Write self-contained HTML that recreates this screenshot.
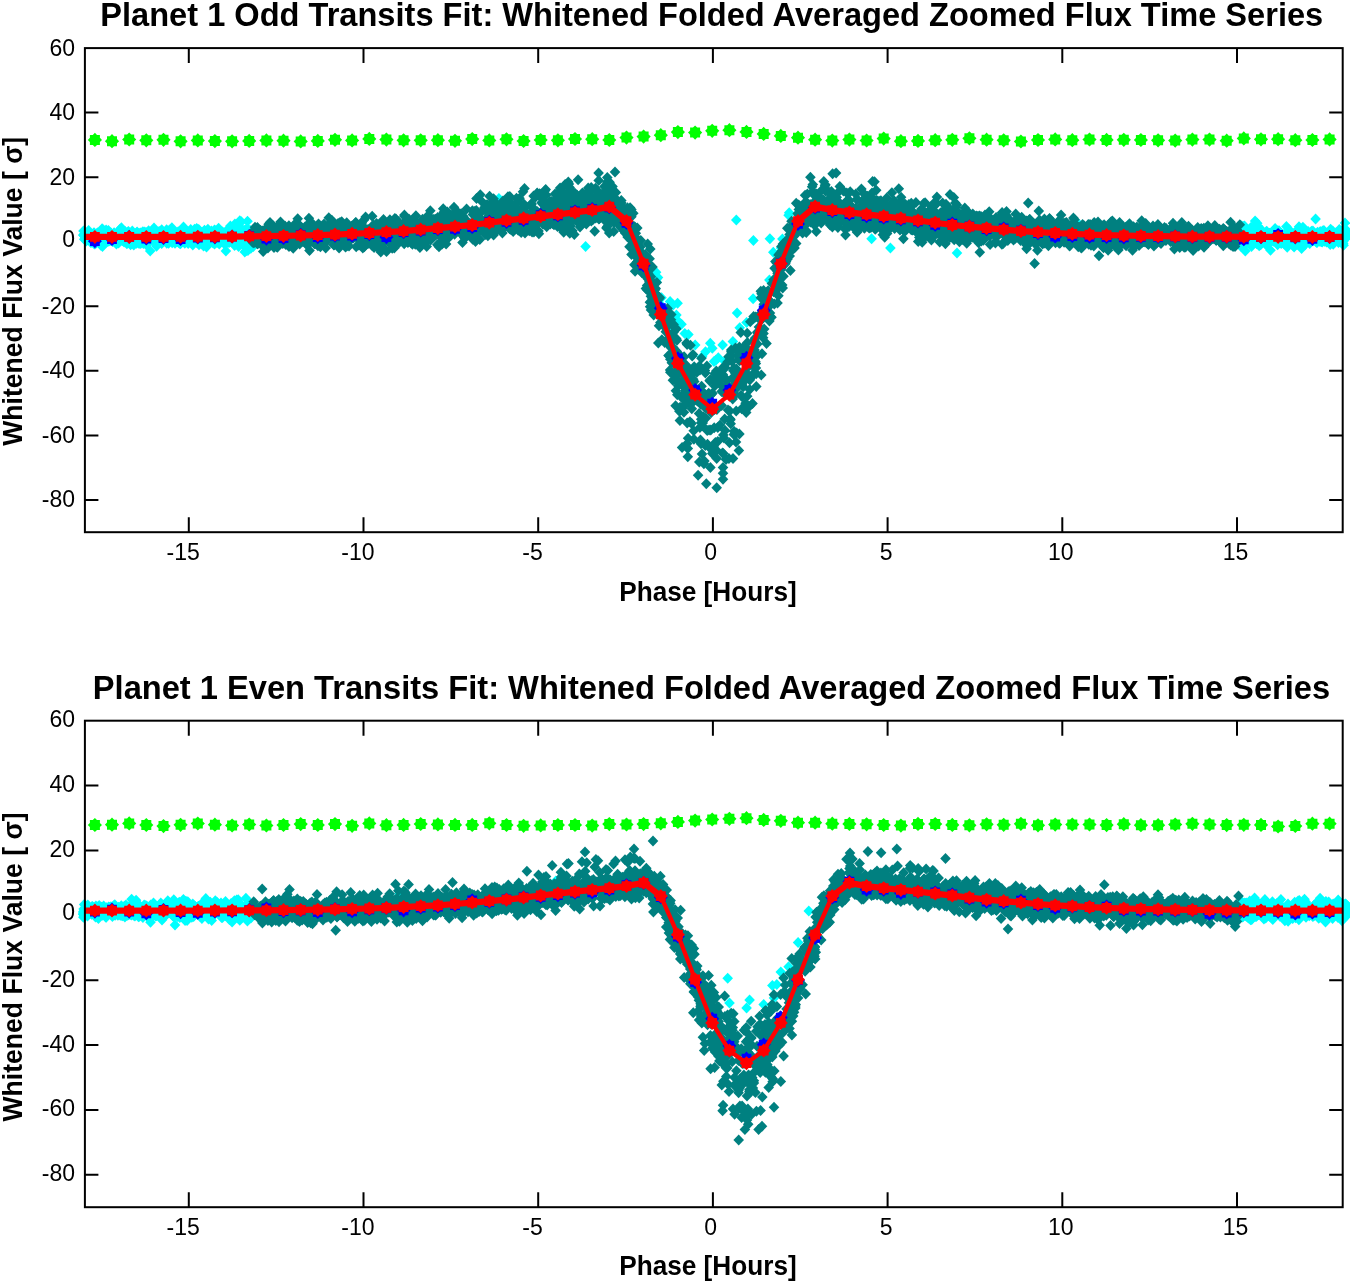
<!DOCTYPE html>
<html><head><meta charset="utf-8"><title>Planet 1 Odd/Even Transits Fit</title>
<style>
html,body{margin:0;padding:0;background:#fff;}
svg{display:block}
text{font-family:"Liberation Sans",sans-serif;fill:#000}
.tk{font-size:23px}
.tt{font-size:33px;font-weight:bold}
.lb{font-size:27.5px;font-weight:bold}
</style></head><body>
<svg width="1350" height="1285" viewBox="0 0 1350 1285">
<defs>
<marker id="mc" markerUnits="userSpaceOnUse" markerWidth="12" markerHeight="12" refX="0" refY="0" viewBox="-6 -6 12 12" overflow="visible"><polygon points="0,-5.5 5.3,0 0,5.5 -5.3,0" fill="#0ff"/></marker>
<marker id="mt" markerUnits="userSpaceOnUse" markerWidth="12" markerHeight="12" refX="0" refY="0" viewBox="-6 -6 12 12" overflow="visible"><polygon points="0,-5.5 5.3,0 0,5.5 -5.3,0" fill="#008080"/></marker>
<marker id="mb" markerUnits="userSpaceOnUse" markerWidth="18" markerHeight="18" refX="0" refY="0" viewBox="-9 -9 18 18" overflow="visible"><polygon points="0.00,-7.00 2.10,-4.90 4.90,-4.90 4.90,-2.10 7.00,0.00 4.90,2.10 4.90,4.90 2.10,4.90 0.00,7.00 -2.10,4.90 -4.90,4.90 -4.90,2.10 -7.00,0.00 -4.90,-2.10 -4.90,-4.90 -2.10,-4.90" fill="#00f"/></marker>
<marker id="mr" markerUnits="userSpaceOnUse" markerWidth="18" markerHeight="18" refX="0" refY="0" viewBox="-9 -9 18 18" overflow="visible"><polygon points="0.00,-7.00 2.10,-4.90 4.90,-4.90 4.90,-2.10 7.00,0.00 4.90,2.10 4.90,4.90 2.10,4.90 0.00,7.00 -2.10,4.90 -4.90,4.90 -4.90,2.10 -7.00,0.00 -4.90,-2.10 -4.90,-4.90 -2.10,-4.90" fill="#f00"/></marker>
<marker id="mg" markerUnits="userSpaceOnUse" markerWidth="18" markerHeight="18" refX="0" refY="0" viewBox="-9 -9 18 18" overflow="visible"><polygon points="0.00,-7.10 2.10,-5.00 5.00,-5.00 5.00,-2.10 7.10,0.00 5.00,2.10 5.00,5.00 2.10,5.00 0.00,7.10 -2.10,5.00 -5.00,5.00 -5.00,2.10 -7.10,0.00 -5.00,-2.10 -5.00,-5.00 -2.10,-5.00" fill="#0f0"/></marker>
</defs>
<path d="M188.8,48.1v15 M188.8,532.2v-15 M363.5,48.1v15 M363.5,532.2v-15 M538.2,48.1v15 M538.2,532.2v-15 M712.9,48.1v15 M712.9,532.2v-15 M887.6,48.1v15 M887.6,532.2v-15 M1062.3,48.1v15 M1062.3,532.2v-15 M1237,48.1v15 M1237,532.2v-15 M84.9,112.6h13.5 M1342.7,112.6h-13.5 M84.9,177.2h13.5 M1342.7,177.2h-13.5 M84.9,241.7h13.5 M1342.7,241.7h-13.5 M84.9,306.3h13.5 M1342.7,306.3h-13.5 M84.9,370.8h13.5 M1342.7,370.8h-13.5 M84.9,435.4h13.5 M1342.7,435.4h-13.5 M84.9,499.9h13.5 M1342.7,499.9h-13.5" stroke="#000" stroke-width="2" fill="none"/>
<polyline fill="none" stroke="none" marker-start="url(#mc)" marker-mid="url(#mc)" marker-end="url(#mc)" points="736.3,219.9 753.4,240.4 769.9,238.7 585.6,246.6 890.4,247.9 871.6,238.7 957,253 1345,223 676.4,315.1 681.5,324.3 688.4,334.6 695.2,344.9 705.5,351.7 712.3,348.3 722.6,344.9 732.9,341.4 739.7,327.7 746.6,322.6 702.1,356.8 715.8,360.3"/>
<polyline fill="none" stroke="none" marker-start="url(#mc)" marker-mid="url(#mc)" marker-end="url(#mc)" points="245.8,235.9 119.4,235.6 1257.1,239.6 172.2,242.8 247.3,233.3 1282.6,237.3 1323.8,237.7 246,242 673.9,330.7 188.3,240.8 125,231.9 104.5,237 1343.4,232.2 152.3,231.9 126.2,236.1 196,236.1 114.2,238.9 244,239 161.5,240.8 117.2,237.3 200.7,240.4 105.9,237.8 1320.5,235 1273.3,241.2 133.8,245 168.4,234.5 1256.2,231.2 875.1,209.3 127.9,232.1 1346.4,233.9 160.2,238.4 182.7,241.3 132,241.1 228.9,242.4 248.4,239.2 229.4,238.3 192.1,241.4 1301.6,239.4 167.6,235.4 145.5,236.8 1321.9,241.4 204.6,232.1 119.5,238.9 162.3,239.1 220.1,238.3 198.2,240.1 97.7,238 168.6,243.3 1315.6,219 139.1,243.4 1336.5,233.4 235.1,242.3 1310.9,232.7 183.8,235.2 173.5,234.6 150.8,236.9 120.1,230.7 140.1,235.2 1240.4,246.1 1258.3,228.7 192.5,242.5 1240.9,237.5 231.6,238 1307,235.9 718.3,357.8 1307,239.3 1268.8,238.4 244,246.1 124.1,242.1 1267.4,234.4 135.7,241.4 120.3,232.2 97.5,233 105.8,237.2 117.7,237.4 168.2,231 244.7,233.9 85.9,240.3 147.4,240.3 1294.1,235.4 1275.6,238.7 1243.6,228.6 245.1,229.9 103,238.5 172.5,230.9 144.8,232 996.7,225.1 122.6,236.7 110,233.7 237.8,236.8 1315,238.8 215,235.4 115.1,235.7 1267.1,232.1 1255.4,229.3 200.5,243 1299.5,235.2 1289.6,233.7 1323.3,234.9 1274,236.6 110.2,240.6 1330.6,236.2 1302.9,227.3 229.1,234.2 106.5,237.3 1263.6,240.3 658,277.6 206.5,246.9 98.5,241.8 89.8,234.6 155.4,230.6 1294.4,232.9 1246.8,238.7 140.8,236.3 1323.9,239.1 1323.3,231.9 650.4,280.5 135.6,240.4 1248.8,238.9 1316.6,237.3 1310.8,238.6 194.5,236.7 212.2,235 1290.6,236.7 219.4,234.4 218.6,240.5 1266.6,231.2 1255.1,234.8 140.6,241.7 1334.6,238.6 1296.4,239 1331.6,236.1 127.3,241.9 106.8,237.8 1293.8,241.5 1273.5,232.7 186.1,238.2 161.4,238.4 670.1,301.4 91.9,236.5 176.6,237.6 1280.1,235.8 228.6,232.7 183.5,237.8 179.3,239 202.9,235.8 128.5,231.5 168.7,236.2 189.3,237.3 226.5,240.5 1322.8,231.5 1319.4,233.1 93.7,239.6 1264.2,235.4 243.4,233.4 222.6,232 982.6,229.9 225.7,238.6 1312.5,235.9 1291.4,233.5 498.9,198.4 222.4,234.6 146.6,232.8 125,231.5 179.6,243.2 119.8,229.4 237.7,230 233.3,232.2 237.6,243.3 140.5,237.4 203.5,242.7 183.4,233.1 182.8,239.9 167.1,239.1 215,233.4 178,232 154.2,237.9 147.8,235.5 1337,239.5 188.6,241.4 241.3,221.8 161.6,230.7 186.5,239.7 124.9,238 1281.3,234.8 199,244.7 207.5,240.4 222.2,239.4 1273.2,232.3 198,231.1 239.7,238.7 90.9,242.4 1322.2,242 138.5,233.8 97.9,240.6 230.9,236.6 1274.5,237.7 1243.4,242 1307.3,236.4 1280,235.9 1342.6,237.7 142.8,237 1345.7,235.6 1307.9,234.7 91.5,237.7 1277.7,234.5 139.7,234.2 113.4,239.1 245,236.8 169.5,238.3 210.2,240.6 238.9,232 122.2,230.2 188.5,242.1 1277,234.1 107.3,240.6 1260.2,235.6 1258.4,233.5 195.8,237.6 186.1,235.6 236.5,233.4 200.6,235.7 238,240.3 102.6,242 1308.1,239.3 112.9,240.9 157.1,239.4 1334.7,235.1 1341.7,233.6 1299.2,239.1 140.7,238.2 250.9,248.2 1284.3,240.8 1266.5,234.1 227.3,232 125,234.9 84.7,233.4 1270.1,241.7 119.7,235 156.2,238.1 167.2,233.4 1269.5,240.4 107.2,241.6 83.9,235 126.9,243.7 1278.6,231.2 104.6,243 1277.6,244.7 1242.3,235.6 1320.6,240.7 1273.6,239.5 175.7,242 1243.7,244 232,237.7 157,244.8 1343.1,240.6 1313.6,237 182.5,230.9 129.2,240.5 1251.1,243.5 120.7,238.9 92.8,238.7 163.5,237.2 237.4,227.6 213.1,242.9 201.4,232.7 1318.9,237.7 769.4,279.9 161.7,243.6 1278.8,238.6 1341.4,236.7 1294.5,233.4 1245.7,243.3 199.8,235.3 184.5,236.2 124.4,238.7 1266.7,245.6 236.5,238.7 244.1,233.5 1260.1,232.3 362.6,231.8 145.3,235.5 1281.4,233.6 1325.7,235.9 140.7,243.6 170.8,231.3 1316.4,236.6 247.9,250.5 241.8,229.6 1306.3,237.8 97.6,233.2 182.6,237.6 148,234.8 245.7,233.4 230.7,234.3 661.5,297.7 119.9,239.2 1322.3,237.5 1280,237.6 1334,238.7 189.1,236.1 225.5,232.1 1267.2,241.6 1299,226.8 117.5,237.6 178.1,238.5 136.5,235.1 1244.9,239.3 1342.6,239 179.8,235.3 116,236 228.2,229.3 231.9,239.6 94.9,244 185.6,237.9 1332.7,231.1 1247.8,235.4 121.5,240 178.9,241 149.7,236.3 118.6,233.9 120.2,237.2 1307.8,234 1271.1,237.2 1247,238.9 678,320.9 1271.3,237.4 1242.4,229.2 229.2,241 153,233.1 674.4,337.6 93.4,238.6 240.2,227.3 148.4,242.6 210.7,237.6 217,232.2 1307.7,237.4 180.8,233.5 195.4,239.9 124.7,234.7 85.8,240.1 148.8,238.6 1242,241.9 653.2,283.4 214.5,232.8 1322.1,237.4 1273,231.8 1256.4,240.9 773.3,252.2 211.3,238.8 236.1,234.4 108.4,230.6 1265.5,235.8 221.9,238 1312.1,235.9 84.2,239.3 175.6,239.8 250.2,230.5 181.3,235.1 157.4,233.7 737.1,313 1302.6,234.5 1308.9,239.7 169,235.1 1332.7,234.3 188.3,233.8 113.4,239.2 1342.7,238.2 197.6,233.7 186.5,240.1 1303.2,234.6 300.9,241.8 1242.4,235.4 1335.3,236.7 172.8,238.4 159.2,240.3 246.2,250.6 143.1,236.5 166.4,235.7 94.4,233.4 102.4,242.3 1346.2,229.9 1337.6,240.1 204.5,230.2 103.3,230 1240.2,239 1327.2,237.7 1330.1,239.4 1322.7,231.1 142.4,236 130.7,236.7 175.1,241.7 1244.5,240.4 104.5,238.5 656.4,279 1265.1,238.7 241.5,240.3 105.4,238.3 1287.2,247.2 99.6,235 168.8,240.8 231.1,237.8 1267.7,239.3 1320.1,231.8 103.9,240.8 234.1,242.6 1040.2,226.5 1276.6,230.3 782.4,238.9 169.4,238.4 660.9,304.9 1341.2,239.5 195.4,232.7 207.9,229.3 789.2,212.8 227.6,238.5 1301.8,236.5 107.7,240.3 175,243.2 141.5,236.9 804.6,223.6 228.1,234.8 241.4,235.7 179.3,239 1307.7,237.1 136.9,232.7 253.3,246.5 109.4,236.4 1332.6,238.8 1267.6,235.3 1309.8,234.4 185.9,234.1 202.2,239.5 98.1,237.8 1240.3,233.4 113,239.7 1245.3,251 212.6,237.3 1331.7,234.7 196.7,228.5 232.3,228.7 193,239.8 238.7,244.3 217,242.5 207.5,237.5 121,232.5 205,238.3 168.2,241.4 1307.6,236 121.4,227.8 1240.6,225.2 224.2,237 1313.7,234 166,237 239.8,229.5 119.6,235.6 147.4,239.5 136.9,235.1 130.4,237.1 102.7,241.3 96.8,234.1 110,237.2 160.3,234.3 212.2,233.2 1316.3,236 1312.4,237.5 180.8,237 241.6,236 734.7,350.3 228.3,237.7 1334,235.3 89.1,235.3 137.1,231.9 200.6,233 167.6,241.9 1335.9,237.5 1275.4,240.5 166.8,232 1242.3,245.5 1325.6,237.5 237.7,234.9 1335.1,239.6 1284.1,243.6 1328.6,237.1 1268.5,239.4 158.8,239.5 201.5,236.7 1275.1,228.4 106.8,240.5 1256.3,232.1 1314,233.6 109.8,239.1 93.2,235.7 178.1,238.5 1241.1,232.5 1301.6,248.5 1304,237.5 1270,233.6 1339.1,235.9 1347.4,235.5 1242.7,233.7 781.1,248 1300.9,234.9 188.4,234.6 1251.4,241.3 1333,237 130.7,235.4 179.1,231.8 1304.6,241.1 1251.5,246.4 1306.7,235.3 1079.2,224.4 188.2,243.5 1289.9,237.1 213.3,236.9 112.9,235.2 241.2,238.4 1347.1,236.9 150.2,250.9 1320,233.6 195.9,234.2 219.3,243.9 1274.1,238.5 230.8,234 86.3,240.9 192.9,237.3 180,238.2 1291.8,238.9 238.6,246.5 225.9,242 1323.9,230.5 1287.8,235.9 233.5,235.9 180.4,239 1285.8,240 1302.2,236.9 1297.5,237.3 171.6,235.4 1288.2,230 208.9,238.8 1280.9,238 1288.7,234.4 146.3,236.5 1265.1,238.4 156.5,246.2 145.6,235.6 616.4,211.7 151.6,238.1 228.8,236.1 1335.3,236.2 211.4,237.1 90.9,237.9 175.3,234.6 141,235 180.6,238.5 160.7,236.2 100.9,236.4 139.3,234.3 108.7,237.2 1235.3,231.8 172.9,236.4 159.9,233.8 1330.2,244.5 136.3,240.1 194.3,233.6 141.1,233 109.7,238.8 151.9,237 244.3,236.1 1286.6,235.5 197.4,241.8 242,236.6 225.4,236.9 171.8,241 129.2,240.7 1260.8,240.4 1319.7,233.7 1307.2,239.2 163.9,233 172.6,239.9 220.9,238.8 244,236.8 156.4,239.4 193.9,242.2 242.8,243.6 106.2,240.8 126.9,241.3 1265.7,237 1291.3,237.7 1258.7,237.7 230.7,239.3 151.8,235 245,243 102.1,228.8 1313.1,240.8 145.9,243.7 1287.1,236.3 250,243.5 233.9,236.6 568.9,222.4 225.9,241.2 1250.7,242.9 149.4,238.8 165.7,235.2 1333.2,235.5 118.6,242.9 143.9,234.3 169.7,238.5 152.1,237.6 1272.5,233.6 94.2,243.7 225,237.2 1298.3,235.5 1264.2,237.1 155.4,236.5 246.1,236.4 1342.3,235.8 1305.1,244.8 1248.8,232.7 724.8,361.6 1251.1,227.2 223.7,236.4 212,240.2 1250.1,239.6 153.3,238.1 101.5,239.7 170.4,229.4 230.8,237.9 175.8,233.1 1286.8,240.9 1304.7,229.4 83.5,235.3 216.9,237.4 140.2,233.1 1290.5,232.8 122.4,240.4 193.6,238.4 1308.1,236.5 102.1,233.6 1303.6,234.3 1265.3,233.2 234.9,223.9 148.2,232.2 124.6,233.5 178.2,237.6 204.7,235.2 1309.3,238.5 214.1,231.9 97.6,235.2 210.1,235.4 157.7,234.9 1260.2,240.4 114.1,232.7 88,237.6 1311,238.8 1305.5,236.2 105.5,232.8 1301.9,238.8 240.7,233.6 1296.9,239.4 1306.4,237.6 168.4,233.7 1262.2,230.4 158.8,233.1 1326.3,239.3 184.2,236.3 1296.9,234.4 1335.1,236.8 236.4,236.2 116.4,244.1 1286.8,235.8 1273,235.9 131.3,237.2 223,238 152.8,234.6 641.2,251.4 204.6,234.5 928.4,220 247.3,228.3 1270.5,250.2 121.3,234.5 1240.6,238.3 113.7,234.7 1245.7,233.3 102.2,243.9 243.7,231.9 1243,226.2 239.8,220.8 174,235.1 231.7,239 1300.7,237.7 1309.7,243.5 105.9,239.7 1332.1,235.7 107.9,239.8 178.5,236.3 1244.5,239.8 123.2,238.2 114.3,235.6 1302.5,233.2 166.6,229.8 1276.8,240 166.4,238.7 1273.4,237.1 227.1,234.1 211.7,237.4 1330.1,240.1 167.6,239.3 1292.2,235.5 120.6,229.9 1320.2,240.4 110.6,239.6 127.4,240 1279.8,232.7 100.8,236.2 224.7,244.3 101.6,234.7 249.5,241.2 240.8,232 125.2,239.9 1259.2,245.8 114.2,236.5 250.2,235.2 192,238.7 143.4,243.5 1128.1,225.3 1329.7,239.5 1301.4,240.3 1241.9,237.8 101.2,232.7 202.6,237 104.6,234.5 204.8,244.6 1286.4,226.6 159.1,231.6 196.9,242.4 148,238.5 247.5,221.3 1289.4,230.1 148.6,230.7 1302.3,240.1 180.9,232.7 230.7,237.8 1330.7,236.5 124,236.2 247.9,240.5 215.7,236.4 150.5,233.8 198.4,239.3 1333.2,244.3 1243,235 146.5,233.4 1297.8,232.7 1317.1,242.4 1319.3,238.7 113.5,237 143.3,232.9 142.1,233.9 1269.2,237.6 1321,239.3 1284.2,240.7 227.7,235.2 180.8,231.9 173.4,234.4 1260.6,244.7 1285.7,243.9 214.6,243.9 1268.2,240.3 1336.3,232.8 120.6,237.2 1311.3,235 117.5,233.7 1258.9,232.2 235.2,234.9 92,242 1288,236.2 99.7,234.9 101.6,237.2 1278.7,241.1 1286.8,238.4 1281.2,243.5 1330.6,229.2 191.9,243.6 100.9,245.2 194.6,229.3 1240.7,234.8 443.7,226.9 180.5,235 1308.1,231.6 214.3,231.8 106.1,230.1 1330.7,232.7 1271.9,237.9 656.2,281.6 224.2,236.7 1322.3,236.2 225.9,239.7 136.6,243.2 199.5,233.5 1183,234.4 1282,235.1 1244.5,226.1 1320.9,231.7 1115.9,225.6 247.1,234.2 107.1,239.9 1303.6,236.7 1250.7,241.2 199.2,239.5 1257.9,236.6 193.2,235.6 225.4,244.3 190.7,229.5 1304.2,243 155.8,242.9 156.3,242.4 1331.9,234.9 220.6,241 129.5,236.5 203.6,240.1 174.4,232.6 205.2,241 94.6,241.1 1284,239.5 207,245.7 1251.7,238.9 1246.2,236.9 1304.3,235.5 249.3,239.8 196.6,230 229.5,242 234.6,245.4 1255.1,220.9 1296.1,236.5 213.9,234.7 90,239.9 132.3,231 191.4,235.6 1346.7,233.7 1241.2,233.8 1321.2,233.8 1264.8,239.1 1277,236.3 215.7,236.3 238.4,237.7 684.8,333.6 178.1,242 1256,236.5 234.9,239.9 112.2,238.5 203.6,246.1 1263.5,235.8 1247.7,235.6 189.8,236.3 244.8,251.9 146.7,245.3 196.4,234.1 1343.6,231.9 1258.3,228.7 239.1,237.7 88.6,230.6 1251.3,233.6 1268.1,236 84.9,236.5 170.2,237.4 104.6,241.5 215,241 96.1,237.9 136.1,233.6 1245.7,237.6 215.2,241.3 1343.8,230.9 1246.1,234.4 98.1,239.3 219.8,231.8 1339.3,229.5 115.5,242.4 169.7,241 112.6,241.4 108.8,241.2 87.1,233.2 1269.5,233.2 1254.2,229.7 1346.3,233.9 1302.8,238.6 219.6,231.5 224,239.8 197.6,234.7 245.3,230.8 161.7,229.7 1263.4,236.9 1319.7,241.2 1257.2,223.2 1316.4,242.2 1313,235.8 714,361.6 203.9,239 207.3,233.2 1243.9,234.5 1242.9,244.6 1270,233.7 158.2,235.5 126.8,237.7 94.1,235.2 753.1,298.7 181.9,235 127.8,237.2 1326.5,241.9 1315,238.6 234.3,244.3 149.9,238.5 239.4,229.7 1270.3,237.9 1282,236 1284.4,235.8 1256.8,243.7 1343.6,245.3 1266.5,239.1 1330.6,237.6 1293.1,245.5 677.6,303.3 1261.9,233 139,234.9 1274.9,238.7 251.1,241.3 247.5,235.9 1283.8,240.4 240.2,234.9 206.9,238.1 1264.9,237.6 1276.5,238 1307.9,235.7 154.3,236.3 1299.9,237.5 89.8,241.1 1295.9,240.9 127.2,240.1 118,242 1299.8,236.4 166.8,243.2 1300.9,241.4 171.9,227.7 1341.7,230.7 1327.3,241.2 247.7,242.6 1240.6,240.1 215.1,230.7 100.2,238.3 1338.5,242.5 788.6,215.3 184.8,243.3 231.6,233.4 1253.8,231.7 1279.6,234.2 1248.6,237.2 1343.3,241.3 1257.8,225.9 1255.6,242.3 105.4,238.9 192.8,245 1324.6,235.3 142.9,231.7 110.7,232.7 102.8,235.6 231.6,240.6 102.5,246.5 235.9,236.8 1296.2,231.5 656.1,272.2 225.8,237.4 188.5,235 103.7,242.6 1321,241.4 1264.4,237.2 1289.4,236.8 214.5,230.1 85.5,237.5 1300.7,237.3 179.8,234.3 130.5,237.2 203.7,232.1 1299.1,234.9 225.9,251 102.2,235.1 221.4,236.9 753.6,318.8 1303.1,242 1265.4,234.9 96.1,242.9 189.9,232.2 94.1,235.4 162.8,234.3 162.4,239.4 1324.4,241.3 99.2,237.7 1347.6,234.9 183.5,227 174.3,232.8 232.4,239.4 1339.1,237.5 216.9,241.2 187.5,233.6 159,237 206.8,238.6 211.4,231 131.8,235 230.4,226.1 149,239.3 127.9,233.1 1259,237.6 129.4,239.7 242.7,234.3 1301.1,236.7 212.9,239.5 1342.7,232.6 100.9,239.8 1290.7,235.2 1249.6,242.2 1271.8,240.6 1313.4,239.5 237.8,239.3 1269.6,239.4 147.8,243.2 179.2,242.8 710.3,343.2 111.5,236.9 1296.9,236.4 170.6,237.9 165.6,233.5 171.1,234.4 1286.7,245.3 219.8,234.3 137.1,233.5 1294.1,247 1336.4,235.1 109.3,237 187.2,234.6 187.4,241.1 1314.4,234.5 94,232.8 117.2,233.3 152.3,236.7 1259,241.9 1304.7,235.3 83.4,235.1 229.3,238.4 166.9,232.4 223.5,237.1 165.1,236.6 1246.7,243 1289.3,236.1 1302.8,238.5 1305.4,239.7 1271.7,238.1 1258.5,234 1338.5,239.5 99.6,232.8 125.5,239 183.4,233 1327,236.2 94.9,237.1 123.9,237.7 245.7,234.8 1317.6,232.3 161.6,238 1298.8,236.4 1241,236.4 1328.5,241.5 198.7,229.6 116.3,240.1 1300.8,239.7 1343.2,243.5 83.5,231 127.2,236.9 1284.8,240.3 154,228 224.4,234.8 194.3,234.1 130.2,236.1 1279,230.7 1277.2,242.3 1314.4,235.3 1339,238.9 181.4,235.4 1287.1,234.3 225.8,234 1263.3,236.2 1305,230.9 1258.5,238.5 230.1,239.6 1312.9,231 1254,235.2 218.6,228.2 1270.4,233.4 181.2,237 192.9,239.2 375.1,228.3 127.2,239.5 1269.5,235.7 1335.5,233.2 130.6,244.8 1317,240.6 1311.5,231.3 1297,244.6 95.1,236.4 235.4,233.8 673.1,305.1 176.6,237.5 1246.7,233.6 560.9,209.3 1285.9,235.7 1288,242.6 180.5,243.8"/>
<polyline fill="none" stroke="none" marker-start="url(#mt)" marker-mid="url(#mt)" marker-end="url(#mt)" points="714.6,409.5 843.9,204.2 270.2,241.7 869.7,203.1 549.9,220.5 921.5,209 431.4,222.6 257.7,243.7 1079.9,227.2 931,227.9 731.2,350 1116.2,232.3 777.6,280.2 341.8,235.4 783.5,276.2 530,220.1 831.4,199.8 380.8,252 1097.8,230.4 1180.1,236.2 433.7,222.2 1216.3,240.3 626.9,212.3 270,222.5 934.8,217.3 338.9,237.2 1223.3,228.6 357.8,237.5 337.1,230.1 520.5,219.4 1229.2,239.2 965.2,226.2 512.3,204.2 285.3,240.6 664.6,310.1 957.2,223.9 1153,226.1 826.7,210.3 473.6,229.5 484.6,226 301.5,234 1144.5,238.6 672.9,380.2 1018.1,218.8 330.6,235.9 840,216 1216.1,240.2 1101.5,240.2 323.7,227.6 453.7,216 1002.8,230 706.9,366 1161.9,237.2 357.9,228.1 481.8,201.6 409.6,236.9 514,219.5 634.6,237.4 480.7,223.2 1027.3,239.6 594.2,208.5 393.1,222.5 1152.2,235.1 1021.4,230.4 773.5,279.8 919.8,231.2 958.7,224.2 1071,241.7 272.5,225.2 264.8,229.7 643.6,272.3 1077.6,237.7 1214.8,225.5 1043.4,234.1 537.7,223.2 289.4,233.5 265.3,245.1 392.2,242.2 535,221.8 1184,236.2 888,222.9 285.2,240.1 713.4,446.6 855.9,208.9 376.2,236.4 785.4,262.1 888.8,228.8 494,220.1 897,213.2 528.4,227.8 481.8,227 583.1,197.9 1237.4,240.1 793.3,236.8 1230.6,222.2 968.8,218.5 1103.1,233.4 947.5,235.5 265.2,241.6 671.2,323.6 1097.4,227.8 992.1,228.7 1100.8,231.4 1044.9,231.6 421.2,225.7 1082,232 398.3,223.6 257.6,239 576.9,214.2 444.7,227.3 849.3,206.4 845.2,210.8 386.5,251.6 870.6,220.6 535,220.8 1012.4,232.6 450.5,232.2 1093.5,237.1 608.2,194.2 782.9,244 934.8,202.3 409,238.2 494.1,215.1 777.7,286.9 279.1,233.9 1094.1,226.3 1074.5,219.6 888.8,221.6 1223.7,231 1038.7,233.6 461.1,213.8 898.8,188.7 513.3,213.5 1031.5,227.2 569.8,233.2 277,232.8 1191.7,248.5 956.4,229.7 1025,225 790.9,243.1 1073.4,218 649.6,283.6 798.8,209.6 785.2,246.3 1113.5,238.9 975.5,227.6 1099,255.7 710.6,379.5 1197.9,233.2 1190.7,238.1 552.7,223.5 866.5,211.7 658.5,308 625,211.5 1160.8,229.9 257.4,228.7 863.4,208.9 606.5,203.2 751.3,364.8 714.8,373.4 252.8,240.1 730.7,423.7 1173.5,234.5 299.7,244.1 664.7,342.6 761.1,319.1 612.5,220.7 345.4,230.4 986.4,230.7 768.1,290.8 447.4,215.4 406.2,240.9 1179.7,247.4 1052.3,232.2 634.8,229.7 596,207.5 1015.9,220.4 284.4,240.2 541.4,214.3 725.3,367.7 360.7,230.9 571.3,212.9 1018.2,224.9 854.6,215.4 654.9,292.7 1189.7,245.3 544.9,216.9 1205.5,238.7 597.4,214.1 1026.8,238.2 545.2,206 277.4,247.3 810.7,207.9 922.2,242.3 1106.6,246.3 649.8,277.1 1224.6,241 1184,236.4 834.4,209.5 934.9,205.6 555.3,202.8 314.8,241.1 452.1,231.2 994.6,235.5 494.2,220.2 957.9,215.9 651,276.8 293.2,242 699.3,461.9 285.2,226.2 701.2,422.8 503,200.9 296,239.6 834.6,211 587.8,205.4 578.1,179.8 820.7,202 739.4,434.1 1221.5,239.5 1236.2,237.3 1094.6,235.4 687.2,422.9 745.6,372.3 585.7,197 588.5,214.9 1093.5,244.6 394.3,247.9 673.2,347.6 991.1,228.9 634.6,227.3 543.7,201.2 916.1,222.4 289.1,243.5 832.4,226.9 1178.2,230.3 609.1,185.8 1077.4,234.6 840.2,214.4 369.3,233.8 557.1,194 509.6,213.4 796.2,225.1 1205.8,237.9 545.7,189.6 316.1,238.8 814.2,193 569.9,206.3 484.4,226.1 573.1,216.4 784.1,260.8 872.6,212.6 1031.1,221.7 531.8,224.2 913.2,214.3 642.2,273 355.1,234.3 1207.9,225.8 1026.6,248.7 1122.2,229.5 334.3,223.5 604.4,186.4 952.9,227.4 637.7,244 1045.6,234.7 941.1,232.7 397.6,228.5 947.1,229.2 595.8,198.3 455.7,227.4 1130.5,236.9 430.7,240 395.9,234.2 1108.5,234.2 352.5,237.9 470.3,230.7 823.3,200 473,235.4 562.9,224.8 575.2,194.2 366.4,234.4 1233.4,227.3 438.3,226.1 425.8,233.4 942.3,222.6 1199.8,231.7 457.3,229.4 559.1,204.5 987.1,230.7 1085,233.5 859.5,209.5 309.5,250.6 311.7,227.7 1041.8,228.3 977.1,224 1216.8,236 1069.4,236 615.9,192.4 251.7,236.6 1209.4,231.2 962.9,239.4 812.1,186.8 945.6,222.7 570.3,210.4 517.3,227.6 811,221.2 693.7,386.3 979.8,252.3 1154.8,240.8 573.2,219.6 554.3,214.5 582.3,210 1095.3,228.4 653.7,315 1106.2,243.1 1193.1,250.4 276.2,240.6 863.7,217.8 878.9,219.4 274.8,232.7 1137.4,233 783.2,255.3 318.8,236.6 492.3,230.5 895.7,211.4 852.2,216.5 731.3,351.7 494,233.3 554,224.8 1209.8,235.1 684.2,405.9 410.2,226.6 404.2,243.8 480.3,194.8 1181.4,233.3 835.4,223.7 290.7,236.9 1060.2,234.3 801.6,206.8 979.7,215.9 996.9,226.9 650.3,249.1 885.6,221.8 372.2,216.2 938.8,232.9 683.2,379.4 1228.5,233.2 417.1,223.2 1117.7,245.3 1219,235 284.3,237.7 291.9,244.1 371.9,245.3 540.4,218.8 273.7,235 539.8,217 874.9,214.6 1023,231.8 1102.7,245.1 567.6,216.8 760.2,313.9 444.2,228.5 364.9,232.3 473.4,224.2 493.5,230.6 810.4,216.1 504,218.2 496.6,213.8 1134.6,234.1 1177.9,237.9 884.7,237.2 1003.9,223.5 358.9,233.2 390,223.5 739.4,347 944.6,223.2 1091.5,235.7 397,230 686.5,342.9 447.3,239.1 1227.9,235.9 819.4,201.8 1077.9,237.9 1224.3,233.2 502.9,225.5 284.1,231.1 753.6,316.6 834,202.9 959.4,241.7 931.8,206.8 891.4,225.2 930.7,229.2 730.1,395 1107.9,236.3 260.6,230.6 1215.8,235.4 635.2,251.6 1192,238.2 488.9,230.3 872.8,204.2 1153.9,243.1 982.9,232.2 867.2,196.3 780.8,265.7 951.4,216.1 474.8,224 650.1,306.7 690.6,394.2 675.4,375.8 866.5,215.3 428.2,239.4 1196.7,240.5 447.8,224.5 524.5,213.5 284.8,235.1 434.4,229.5 523.4,226.2 1149.5,239.6 1206.9,241.4 383.3,220.9 311.5,240.8 1021.9,232.2 1034.7,234.6 1239.5,238.3 782.3,266.1 266.1,234.6 1157.4,237.6 583.9,214.9 478.6,226.5 417.5,225.6 836.8,205.7 1031,239.3 1117.9,236.2 888,208.9 1011.4,232.2 826,213.9 1044.6,243.1 339.1,247.9 1082.1,235.5 793.4,247.8 643.5,259.4 413.4,238.4 471,223.4 520.4,224.6 977.1,234.3 294.7,243.7 643.8,256.5 850.7,209 325.6,228 362.1,240.9 289,232.2 348.2,238 365.7,238.2 689.7,384.1 902.4,216.9 543.4,204.5 295.9,241.3 415.9,240 299.2,232.8 1184.9,241.5 989.3,221.5 340.2,241.2 634.3,253 543,224.2 946.3,208.4 405.1,234 950.5,215.9 801.6,226 736.7,388.3 1223.6,238.5 330.4,228.1 798.5,214.7 798.2,229 825.9,212.6 1043,228.1 965.2,211.6 251.3,239.7 844.9,218.1 469.9,231.9 537.2,193 280.8,230.3 1162.8,237.2 990.1,223.6 1034.5,233.7 447.4,215.6 611.1,205.8 305.9,227.9 844.8,207.4 1144.6,234.6 1068.2,237.6 412.6,224.4 970.2,237.9 761.5,293.7 766.6,292.6 768.8,306.7 522,226.4 525.2,225.1 691.6,423.6 598.7,207.4 440.2,229.5 1154.5,229.1 555.1,205.6 1184.5,244.5 1188.2,233.2 359,238 429.5,216.9 963.5,236 470.2,229.8 544.9,190.7 1006.7,239.6 977.7,228.3 353.4,238.1 1178.4,227.8 654.6,300.4 883.8,223.4 426.4,222.4 1148,237.6 421.5,223.2 1155.1,236.7 415.4,230.6 284.9,235.1 649.4,269.5 526.9,213.8 582.4,193.1 1160.2,238.5 816.2,214.9 848.9,199.9 576.4,204.6 1105.1,237.7 717.8,441.4 1026.7,235 1239.4,236.5 857.2,214.2 633.5,241.1 416.6,235.4 1236.6,234.1 1050.6,225 1094.4,224.8 363.2,237.8 635.5,256.3 1200.7,233.7 394.3,233.1 1112.6,230.3 764.4,296.8 359.8,235.6 558,214.6 934.5,233.3 1002.6,224.8 464.4,237.6 1055.5,242.7 336.6,237.6 762.3,314.7 1102.4,246.3 804,208.4 1233.1,246.5 1027.6,239.5 797.7,213.5 504.1,209.8 819.7,214.5 578.4,201.6 298.6,238.9 393.8,234.7 886.7,214.7 816.9,216 830.1,225 1122.8,243.6 575,214.2 612.8,214.8 576.3,213.3 1048.3,232.7 439.7,232.9 1021.4,231.8 378.2,236.8 446.4,220 679.4,370 650.9,296.2 821.2,206.4 1126.1,245.7 1094.9,240.9 803.7,205.2 814.6,204.5 1196,237.6 433.9,219.2 774.3,304.1 1234.2,238.7 843.8,220.2 376.8,233.4 920.7,218.6 812.7,193.4 732.7,399 877,221.3 779.5,254.2 509.2,209.1 894.6,225.5 689,375.8 655.9,304 352.8,229.9 801.7,221.8 930.5,227.2 458.8,218.7 838.4,206.6 373.3,225.1 649.6,258.7 654.5,299.2 374.1,233.8 854.6,224.8 364.2,228.8 836.7,197.3 529.3,230.8 486.1,204.8 683.2,406.6 824.7,218.3 839.7,218.8 954,225.4 422.9,230.4 403.6,231.1 496.4,218.4 851.4,218 607.3,226.5 476.8,233.6 837.8,203.1 736.9,374 953.8,197.4 871.2,216 285.2,238.2 533.4,208.2 941.6,224.9 635.1,271.3 859.1,229 581.1,221.6 794.5,248.1 1176,238.8 1093.4,238.2 555.9,219.5 750.3,321.8 459.7,227.7 598,216.7 1079.1,239.3 1006.5,211.4 618.6,214.9 902.7,221.2 597.6,201.2 881.2,220.3 645.9,288.6 470.7,230.7 423.6,240.1 741.9,376.1 396.4,229.1 580.6,208.2 403.8,229.3 1178.8,239 939.7,227.5 1220.3,232.3 1040.1,234 943.4,224.9 624.6,221.2 272.1,228.1 1009,234.9 885.4,223.6 489.1,223.7 1192,230.1 359.6,226.2 493.7,208.4 931.4,240 253.2,242.7 398.4,227.1 1101.2,234.6 625.1,233 1045.9,232.4 1224.3,240.7 462.5,242.6 1189.1,241.5 424.1,232.9 498.9,220.4 285.8,235.5 779.9,277.9 773.5,291.8 298.1,242.8 1030.2,227.1 345,227.6 423.3,224.1 820.2,211.4 1105.7,236.1 1035.8,232.7 1020.7,231.4 945.4,243.7 770.4,316.8 516.5,198.3 310.6,235 1175.6,229.2 600.7,213.5 905.5,230.7 539.6,219 531.6,204.1 1010.5,220.5 514.6,227.4 946,204.3 570.1,222.6 601.8,194.2 727,380.9 372,232.8 966.8,237.8 1199.1,234.5 1111,240 700.5,440 518.2,230.3 807.7,203.7 1006,219.2 610.3,214.8 611.5,212.9 698.7,394.9 1134.3,240.1 1039.8,227.2 313.4,239.6 472.4,210.7 1013.7,224.5 614,222.8 415.9,215.8 1149.5,240.7 532.6,214.3 778.2,276.4 357.1,227.9 1233,231.4 1201.8,242.8 1002,227.3 950.9,228.5 949.6,236.4 771.5,317.2 819.6,215.8 332.7,232.3 794.7,229.6 934.3,218.7 697.3,397.8 942.3,222.8 662.7,315 1099.4,240.2 994.9,229.9 1056.2,236.8 443.4,237.9 492.9,201.5 500.8,217.2 340.5,241.7 1056.1,233.5 555.9,199.1 1188.5,226.3 392.4,227.9 955.7,207.6 535.3,197.2 1157.9,224.4 900.7,209 941.4,227.6 1033.5,223.2 531.4,222.7 1019.3,231 1152.2,242.3 1041.8,223.9 1221.9,236.2 634,244.9 1137.5,237.4 818.6,216 750.4,352.1 1126.5,239.3 378.4,224.8 668.3,344.5 466.1,232.5 594.7,231.3 851.5,215.4 314.3,229.1 957.1,213.2 607,210.2 590,213.6 408,229.9 671.8,362.7 810.2,204.8 579.3,201.4 722.8,374.6 887.6,223.3 1160.4,228.3 792.8,246.5 567,216.8 301.4,235.9 1232,231.9 419.4,235.9 274.8,232.2 570.5,225.9 516.8,219.6 531.7,212.1 1159.6,231.1 450.5,235.7 355.9,222.5 625.5,220.8 539.4,217.9 1066.4,224.1 728.5,356.8 1113.4,227.3 417.8,226.9 526.4,220.1 812.2,192.1 382.1,222.7 431.2,226.7 320.4,246.8 414.9,234.7 1144.7,232.7 1088.4,238 524.5,188.4 996.6,227.9 1170.5,234.5 791.7,237.5 1002.2,216.5 383.4,247.5 1072,237.4 1121.4,226.9 597.9,209.9 381.4,244.8 879.4,227.1 883.2,205.3 741,395.3 256.9,238.2 635.3,254.5 569.8,216.7 1183.7,241.4 336.8,227 410.9,225.2 581.8,194.5 446.4,218.7 845.7,201.9 861.3,213.4 853.1,213.8 906.3,224.4 860.3,215 911.3,203.2 821.5,217 358.6,232 613.8,204.3 383.8,232.9 1181,236.6 435.8,233.8 289.2,238.2 1090.7,229.8 1045.8,227.7 1161,243.5 939.9,224 610.4,221.6 684.6,392.7 785.4,263.8 837,221.7 418.8,239.6 1055,224.2 323.8,230.5 400.7,235.2 729.5,442.7 911,226.6 700.9,404.3 970.8,225.6 312.4,234 260.3,241.6 447.3,225.4 266.7,246.2 1049.5,218.6 1137.7,229.8 261.1,244.4 492.6,225.1 952,220.2 1057.3,228.2 665.8,331.7 891.4,204.8 1196.4,236.1 985.2,224.2 1065.4,235.2 1230.7,245.1 612,213.9 280.5,222.1 551.4,201.6 581.1,212.7 1098.5,237.1 907.6,219.3 943.4,225.6 908.7,209.9 262.3,239 582.8,201.6 1157.9,233.6 903.6,222.8 1084,235.8 870.4,206.1 1075.2,231.8 985.3,218.8 1173,223.2 1019.9,238.7 1111.4,228.9 383.8,242.3 469.3,229.6 254.2,242.5 885.7,220.8 1093.8,245.9 460.5,224.1 1024,222.1 1235,246.4 956.2,228.5 620.1,218.7 873.5,222.8 1164.9,236.7 982.8,236.9 402.2,226.8 1195.9,242.6 871.6,211.8 780,253.5 828.1,210.3 454.2,230.7 1203.8,228.2 386.4,232 265.1,235.3 474.4,211.5 511.1,226.2 1201.3,238 914.2,227.8 581.1,220.1 975.7,237.3 1164.5,227.6 715.4,442.4 392.5,238.7 443.7,212.2 1027.7,237.2 435.9,235.1 475.6,231.3 845.1,212.1 279.6,235.4 952.9,228.7 1028.2,238.1 263.2,251.6 837.3,219.3 346.7,222.8 1048.4,245.8 444.8,219.6 955.3,203 902.6,204.9 810.6,205 358.4,225.5 1138.3,229.3 531.9,228.8 1057.7,229.8 683.9,412.3 649.9,302.2 984,221.6 514.3,226.3 1048.8,231.1 645.9,269.7 1019.8,223.5 965.4,222.5 600,217.3 524.6,224.9 736.2,410.9 612.4,218.4 969.4,223.1 399.5,229.8 1036.6,226.7 904,228.7 452.3,226.2 1106.8,241.6 1084.1,234.5 1237,238.5 1020.6,234.6 1178.8,233.5 685.4,391.1 769.4,302.6 389.9,219.8 1135.9,245.4 885.6,203.4 1029.9,219.5 932.4,213.9 668.5,319.3 448.4,232 723.2,367.2 819.4,197 464.5,221.2 516.1,220.1 317.9,245.8 581.6,217.6 768.5,299.9 402.3,224.9 709.1,429.9 782.2,285.1 763.6,290.5 267.9,231.7 295.9,236.8 1003.2,243.5 693.3,401.8 408.9,235.5 563.3,194 691.8,408.7 552.3,211.5 395.6,225.8 609.4,216.5 634.4,264.7 953,211.7 333,226.9 1137.7,235.7 881.8,222.8 777.5,303 323.4,237.3 1205.9,239.4 300.1,242.6 910.1,223.5 292.7,234.6 825,185.7 936.9,196.9 1082.5,233.3 618.3,219.3 867.5,212.3 408.5,222.3 592.5,218.3 1232.7,240.1 518,202.2 264.1,231.1 785.8,256.8 1063.1,240.7 1041.6,222.9 679.6,383.2 386.2,228.3 365.5,228.9 336.6,241.8 1230.8,233.7 598.9,219 890.3,220.3 415.3,244.2 1136.7,237.4 658.8,311.2 935.2,229 909.5,220.2 1008.8,228.1 640.3,247 268.5,233.3 1100.4,228.4 640.2,262.2 642.3,260.1 1043.5,230.3 950,224.5 573.8,216.8 886.1,225.2 405.3,234.4 437.2,231.7 647.5,277.5 372.6,242.6 624.5,219.5 566.7,226.7 1224,229.6 1089.6,229.8 1057.3,233.3 1239.3,239.7 1014.8,224.7 469.7,227.9 1217.8,234.8 613.6,215.6 510.2,209.1 683.4,370.8 588.8,204 1171.4,227.8 1102.7,240.7 1027.5,245.2 377.5,247.1 639.5,269.8 1022.3,234.1 583.9,197.8 274.3,240.3 1160.8,229.8 449.3,234.7 1186.6,232.9 308.3,230.2 982.6,223 400.2,238.9 646.6,269.1 855.9,208 527.3,224.2 333.4,234.6 826.7,206.1 1087.3,235 490.8,205.4 409,234.5 342.1,235 399,242.8 1001.4,214.8 900.6,219.5 456.1,218.6 372.6,232.2 694.8,371.6 634.9,249.2 648.2,268.4 797.3,230.3 1224.1,241.2 824.3,201.1 486.1,219.3 401.8,237 472.9,226.3 863.3,216 419.5,228.7 763.5,333.6 1232,245.2 428.4,232.9 293.4,237 1063.4,236.7 816.5,202.3 1121.6,236.2 979.7,226.1 452.6,222.4 908.7,221.2 449,213.5 670.3,359.2 1123.7,235.7 362.3,231.7 304.4,235.9 1160.2,242.3 303,241.4 485.1,224.6 438,224.2 1216.7,233.3 801,222 1077.7,232.7 446.3,215.8 847.4,221.9 867.3,205.3 1054,230.1 1217.2,239.2 341.3,232.1 1177.8,231.9 870.8,227.5 667.5,308.6 1155.4,242.5 462.6,235.5 1131.9,229.6 920,229.8 989.4,227.6 343.9,231.6 874.2,217.4 1028.2,237.3 919.4,232.1 837,193.5 911.3,229.7 270.1,235.5 653.2,287.6 499.9,225.8 1014.3,232.7 737.6,355.6 993.9,228.2 962,216.6 1228,231.8 1166.1,228.5 927.7,218.2 555.5,213.8 688.1,438.2 1149.7,237.1 1090.4,226.8 339.1,238.8 962.1,227.6 963,230.4 862.2,225 1109,230.4 333.9,222.8 708.3,394.4 1096.1,231.3 566.8,204.2 588.6,219.5 1092.2,225.4 648,277.3 561.2,216.1 912.1,225.1 1161.9,239.8 1178.8,228.1 516.3,223.7 852.5,211.5 573.2,210.3 1144.1,237.6 1086.9,240.6 920.1,216.2 1124.7,240 728,410 805.4,201.9 288.9,231.7 978.5,242.7 447.6,235.2 793.7,228 585.8,200.8 862,201.6 880.9,204.2 796.2,203.2 401.9,240.2 910.8,226.2 919.5,224.7 829.3,213.9 560.1,202.5 275.5,233.4 787.1,252.2 529.1,220.4 441,237.1 1201.4,238.2 1124.4,230.8 808.9,209.6 501.1,219.5 300.1,231.5 620.3,227.1 922.2,225.6 761.1,317.2 886.4,205.3 854.6,228.4 655.5,296.9 644,258.7 936.6,233.5 365.6,217 433.4,236.8 1101.1,237.9 255,227.3 330.4,228.8 1118.4,249.9 463.2,216.2 1234.6,241.1 605.4,207.4 1117.1,239.6 1050.2,237.8 360.9,226.4 1236.5,240.2 489.5,232.2 594,199.6 901.1,227.9 878.1,221.4 880.9,200.7 1123,235.4 581.6,218.7 608,210.7 1116.6,237 596.3,210.4 590.1,212.8 586.6,216.2 341.2,235.4 1088,229 528.5,219.7 975.9,229.9 289.3,239.8 814.5,212.9 513.5,218 383.5,219.5 391.7,235.6 448.7,219.2 518.4,225.1 832.5,204.9 326.2,239.2 551.9,209.4 630,223.9 675.6,405.7 726,459.6 1233.6,237.1 631.1,230 954.2,234.8 942.8,214.6 304.4,232.3 800.5,207.3 651.1,266.4 288.9,225.8 1204.5,234.7 546.7,226.8 918.3,219 594.8,215.7 1143,237.4 978.3,228.7 608.7,212 991.1,225.2 1016.4,225.8 989.2,211.8 952.9,225.4 1094.2,222.6 1090.4,242.1 677.3,394.8 794.2,225.4 1053,239 882.9,234.8 428,215.6 1118.1,232.6 363.4,238.9 486.6,211.3 1124.2,236.6 437.1,228.2 407.5,219.8 1022.4,235.3 488.7,221.4 598.7,213.5 504.4,214.8 1151.7,237.7 253.3,231.9 444.3,214.7 994.8,226.2 523.8,204 724.2,377.7 500.8,222.8 791.7,225.8 484.5,207.6 660.4,322.4 724.3,377.3 1116.5,245.6 1099,232.5 746.4,347.9 898.1,223.2 932.3,222.4 1006,237.4 517.8,216.5 647.7,278.7 1068.4,235.5 356.4,234.8 1220.1,231.9 1213.8,237.5 292.6,234 1038.3,226.3 448.5,237.1 426,224.3 1205,234 1049.9,230 634.7,239.1 804.7,215 995.6,241.4 1092.7,235.3 1143,236.7 1197.5,235.3 869.9,209.6 1180.3,229.4 616.9,212.7 331.8,220.3 346.8,246.1 338.1,223.6 1114.8,237.2 997.5,228.1 374.8,233 307.4,236 1221.1,237.8 280.3,238.5 673.6,324.6 852.9,211.5 356.6,237.4 449.9,229.1 1232.5,240.7 1204,247.2 949.7,237.8 680.1,407.2 605.7,214.9 633.6,235.4 752.5,403.4 776.6,286.7 1206.5,239.9 1163.5,233 1009.2,229.2 606.4,210 457.7,220.9 507.7,220.3 430.3,210.7 656.8,282.6 839.3,210.1 1134.1,237.3 303.8,239.4 652.4,298.7 756.1,353.9 1118,232.5 981.4,216.7 871.3,211.7 936.1,213.4 650,281.3 1103.2,236.2 1142.2,232.9 799.3,214.5 622.2,213.9 418,230.4 325.7,247.9 458.4,224.1 1119.4,243.8 523,191.7 626.6,221.9 567.3,209.2 316.6,232.7 805.8,230.6 610.2,187.5 865.4,199.7 1169.5,231.1 703.9,463.7 352.5,236.5 1016,230.6 257.4,227.5 899.1,203.4 491.1,225.4 460.5,220 300.3,236.9 447.5,233.1 446.3,217.7 267.5,231.3 505.6,216.2 859.7,222.3 1110.4,241.7 804.4,218.1 519.4,219.6 1088.3,224.5 1043.8,237.9 1198.3,234.7 1064.7,231.2 818.1,220.3 1097.8,238.1 603.7,215.8 1150.7,234.6 293.1,230 751.9,360.9 1080.1,240.1 604.3,205.6 409.8,235.3 983.8,238.1 548.4,213.5 675.1,378.5 1079.5,238.1 620.4,216.5 794.2,232.9 941.1,212.4 937.6,215.9 669,313.7 806.3,232.4 325.8,226.3 397.8,237.6 350.3,227.2 739.7,360.7 335.3,233.6 804.1,213.7 1127.7,242.6 390.4,244.2 711.4,394.5 264.3,234.2 810.4,222 588.4,210 1226.2,231.5 1040.7,235.8 520.6,221.1 560.1,187.9 1162.6,229.8 861.4,188.9 1239.8,224.8 402.4,232.7 939.7,242 576.9,211.3 951.4,223.8 538.9,233.7 1035.6,229.4 659,325.7 443.5,240.7 758.9,327.1 847.7,201.8 272.8,240 831.4,191.5 296.3,232.6 755.4,361.4 343,240.4 354.5,234.7 485.7,221 808.5,208.7 922.4,212.3 983.2,220.9 641.1,258.5 880.2,212.4 783.3,260 458.1,223.3 360.1,244.9 588.1,212.3 955.4,212.6 887.5,222.5 315.5,243.5 930.3,222.3 1105.2,233.8 1053.5,228.3 947.6,224 404.5,229.5 843.3,209.1 1234.3,235.7 385,227.1 889.3,214.8 407.8,231 803.4,208.4 352,226 1077.8,237.8 667,323.7 424.4,230.9 958.4,233.4 888.2,219.8 1101.6,231.3 567.8,207.8 1050.4,228.5 1033.1,224.7 392.2,248.2 957.1,230 1141.8,238.4 493.6,228.6 1215.4,238.7 687.1,344.6 276.8,246.8 534.5,212.8 1065.4,234 656,295 529.1,224.2 694.9,398.5 650,288.9 894.2,224.6 944,223.1 1028.9,236 760.9,297.8 1056.6,228.6 1073.6,227.4 1005.7,234.2 636.6,244.9 1204.9,235.9 1019.3,226.8 837.4,212.3 968.7,236.5 306.9,234.8 736.6,433 807.7,209.4 308.2,240 446.7,237.7 489.6,196.2 646.3,261.8 802.7,222.3 969.7,220.4 1020.2,222.5 377.4,225.1 550.2,224 910.8,222.3 1056.8,231.8 360.5,244.2 498.2,210.1 752.7,375.7 427.2,218.4 1082.2,235.6 407.6,219.9 845.1,207 1044.6,232.9 342.4,235.5 505.3,226.3 411.7,229.5 946.7,235.8 857.1,232.3 876.3,228.1 753.7,373.2 734.6,384.1 703.7,419.3 1061.3,228.6 493.6,235.1 989.9,231 334.3,232.6 419.1,238.3 1219.2,240.9 333.2,232 599.5,208.4 713.8,380.3 983.5,230.6 488.8,215.2 904.4,213.3 364.2,219.7 944.9,229.9 319.4,241.5 1029.5,219.4 670.1,369.9 1073.8,227.8 318.5,224 1055.7,232.5 474.4,215 667.2,339.6 769.4,321 953.4,219.7 805.1,195.3 464.8,223.9 288.6,229.5 513.2,223.1 676.1,329.3 317.9,229.4 460.9,228.2 1201.3,243.3 618.8,216.1 924.9,213.2 532.1,232.1 579.9,203.4 1015.4,238.2 802.6,218.2 813.3,204.7 621.6,228.2 633.1,250.2 997,229.3 389.7,233.4 589,215.4 251.8,235.4 800,206.7 636.3,255.7 374.5,239.5 583.2,219.2 755.9,363.6 866.5,207.9 1117.4,228.6 504.1,226.7 268.6,224.2 1048.2,228.4 756.3,386.4 255.3,241.8 295.5,235.1 1136.9,227.1 942.6,203.1 963,234 260.7,232.4 404.3,233.2 530.9,220.9 379,241.3 882,218.6 782.9,259.8 607,218.3 990.2,217.9 675.8,363.1 667.1,325.8 275.2,241.5 1124.8,242.8 1230.9,234.1 745.1,360.1 289.8,245.4 358.7,230.2 259.8,231.9 969.6,227.1 542,218.6 514.8,220.2 500.2,227.7 939,218.9 1194,239.6 749.3,406.4 299.1,224.7 987.6,220.5 1051.7,233.9 808.2,220 1072.3,224.4 936.7,214.5 778.5,288.1 1105.4,233.3 340.9,224.2 276.8,235.5 474.9,223.4 570.1,217.2 1126.5,230.1 1024.6,224.8 1210.7,233 568.1,196.4 1231.1,238.5 317.4,232 560.9,223.7 472.7,239.2 327.3,237.1 577.2,221.8 1182.3,235.7 837.6,201 631.5,254.4 1069.7,245.5 486.6,229.4 453.4,228.3 682.7,365.6 1204.7,231.5 841.7,212.6 437.7,227.1 1219.4,238.1 607.3,177.4 923.7,231.1 1207.3,236.8 525.8,206.7 503,208.9 600,199.6 1145.7,223.6 661.9,339.8 673.5,332.2 883.5,218.6 1106.3,236.2 975.4,219.3 505.1,225.6 455.9,219 504.5,218.4 756.2,373.7 1108.6,234.9 848.7,201.6 1150.5,229.2 793.3,244.7 565.1,219.3 682.7,398.5 734,431.3 876.2,190.3 1085.4,235.8 780.9,269.8 433.6,234.9 587.2,208.2 1063.2,237.7 459.5,228 776.5,267.5 323.3,231.6 429.2,221.9 499.5,207 264.8,238.6 1045,239.5 653.1,297.1 522.1,217.3 823.1,213.6 373.9,230.2 636.9,262.3 801.2,217.5 862.2,209.5 617.5,223.3 1022.9,225.5 1179.5,227.6 791.7,249.8 911.9,227 253.3,235.3 894.1,200.8 755,338.3 971.7,230.3 425.7,233.9 521.2,213.6 432.7,228.2 687.3,443.4 945.1,230.3 411.7,234 597.4,206.7 920.1,214.1 1035.2,236.4 439.8,222.3 853.5,215.6 1041.2,239.1 1078.5,231.3 1119.2,228.8 794.8,228.9 967.8,233.7 547.3,213.5 1103.5,247.8 739.5,349.6 947.2,227 963.9,229.4 1066.4,222.6 1115.4,243.8 336.7,230.1 671,319.8 647.3,289.9 454,229 262.8,233.9 597.3,207.6 1151,238.7 764.2,328.9 564,193 621,204 465.2,218.9 1039.5,219.9 1065.6,241.2 1072.1,236.6 453.4,215.8 642.7,256.5 307,244.9 382.2,243 1223.3,245.8 770,312.9 985,215 1023.5,231.7 936.5,202.9 1106.5,231.3 1197.7,227.6 262.2,232.7 830.5,222.5 734.4,369.4 295.8,231.8 755.9,368 1023.2,239.5 1102.9,237.7 1039.2,229.3 670.9,347.5 1190.3,241.8 947.1,215.3 703.6,416.9 352,231.5 464.1,235.2 808.5,220.5 983.9,235.2 582.4,210.9 358.8,245.1 919.1,231 508,196.8 702.7,423 1059.1,236.3 474.9,234.7 366.2,235.4 1082.6,224.6 284.9,228.7 1005.6,233.8 593.1,208.2 322.1,226.5 671.9,336.9 391.3,225 998.6,226.5 787.3,228.3 459.6,221.9 825.7,219.3 555,194.1 267.3,239.2 420.9,242.7 631.2,240 1048.8,233.3 676.2,338.5 423.7,223.6 1222.1,239.7 812.8,184.6 845.5,234.9 1120.4,245 931.7,206.1 388.7,222.8 287.2,243.3 285.8,244.5 903.9,230.8 820,216.4 373.1,230 971.5,230.4 684.1,356.7 1216.3,236.1 846.8,193 1086.4,239.6 921.9,220.8 378.1,238.4 1168.9,232.5 856,223.6 836.7,218 790.4,270.6 495.2,202.4 617.3,203.1 786,249.1 1186.1,238.6 1148.6,233.3 586,206.8 701,443.8 891.3,227.3 1098.3,238.5 333.2,235.2 887.2,216.8 260.4,238.1 1144.3,236.7 1007,233.2 442.3,215.8 298.6,227 805,221.7 1121.5,230.8 341.7,221.7 251.8,237.7 270.4,234.1 972.9,227.3 312.8,235.4 1070.4,235.4 331.5,233.6 1059.3,243.3 735.5,348 552.5,220.7 613.7,231.4 1021.1,232.1 705.8,418.3 1132.5,250.3 760.8,291.2 393.9,220.5 760.8,320.5 1144,233.3 437.7,217.5 887.2,209.8 816.3,231.5 959.6,214.1 538.5,231.1 369.8,236.4 923.6,203.5 1155.4,240.9 679.4,411.3 256,237.1 1099.9,236.9 946.1,208.5 1075.7,235.6 554.3,214.1 1208.7,236.4 396.5,221.8 487,228.2 998.7,226.4 993.6,226.5 1155.4,232.6 349.5,240.7 834.3,205.1 367.2,240.9 878.5,216.8 1215.7,230.1 843.4,190.9 845.5,208.2 1226.2,242.3 500.1,222.8 787.4,256.4 1107.1,242.9 328.8,227 972.5,222.9 550.7,223.2 317,234.2 630.1,207.7 341.6,230.8 645.4,254.6 576.9,195.1 1011.5,224.1 887.1,233.4 697.4,400.9 699.9,427.6 686.7,366.7 1078.2,244.3 419.9,232.5 677.9,371.2 996.3,221.1 1084.1,229.4 571.5,212.8 405.9,234.5 867.2,208.2 1187.9,227.7 939.6,214.1 807.4,194 410.7,238.5 418.3,226.7 1053.6,239.3 387.5,226.9 541.7,202.5 1062.4,234.3 480.6,212.7 1023.3,232.6 953.6,225.1 1003.9,221.6 871.4,201.9 548.4,218.1 814.5,212.4 1086.8,230.9 514.3,214.5 544.3,212.6 841.3,216.1 407.5,238.8 278.9,235.8 351.3,237 1156.4,233.5 986.2,224.3 461.9,221.7 425.8,227.5 1144.3,240.6 448.8,220.3 797.6,219.2 566.8,200.3 961.7,224.3 877.4,201 705.8,407.9 307.4,228.6 513.8,227.2 356.2,246.8 812.3,213.4 1145.1,242.1 308,231.8 725.4,394.5 945.5,234 390.9,222.4 868.5,222 1208.3,242.4 662.7,325 908.9,204.4 927.8,235.3 320.6,228.7 621.6,206.6 451.4,223.3 693.9,439.3 1047.6,239.8 266.6,233.5 782.7,288 720.8,378.1 570.1,190.7 1147.7,243.5 526.2,226.5 1094.9,230.3 638.8,240.4 1154.1,238.9 923.6,221.6 351.8,229.4 554.1,207.8 1202.6,229.8 1212.3,229.3 1211.9,232.9 849.1,223.1 417.6,234.8 659.8,313.2 924,215.6 621.2,202.7 747.2,333.2 380.5,230 1116.5,238 859.5,215.6 1091.2,226.5 942.2,226.6 915,219.4 395.9,219.1 978.9,225.9 512,222.8 281.3,234.6 962.2,223.4 444.5,240.1 1064.1,242.3 982.4,224.5 1073.6,230.4 934.4,221.5 1075.7,224.4 1089.1,229.4 487.8,224.2 863.2,199.9 489.7,222.9 1187.1,241.4 497.7,219.4 516.8,222.1 1136.3,233.7 1129.4,234.2 918.3,222.1 1134.6,240.4 384.9,233.2 569.3,207.4 267.4,240.1 562.4,197.1 802.6,232.9 670.3,372.2 742.8,347.8 1213,238.7 1160.3,240.2 1012.7,227.4 1090.1,239 1233.2,239 580,227 787.4,259.3 675.9,390.8 604.6,192.5 955.9,224.5 755.7,317.1 1193.8,241.6 676.5,354.4 281.3,231.8 605.2,221.1 1112,229.3 830.1,207.2 297.5,233.9 465.6,227.5 761.3,374.9 1086.6,240.5 979.7,233.2 893.1,202 406.4,230.1 804.7,225.8 393.5,225 1042.6,244 905.5,204.6 1028.2,203 402.6,223.8 627.4,207.8 513.2,217.2 556.8,210.4 536.7,224.2 828.3,200.2 305.1,233.3 310.2,242.6 376.5,223.5 1021.3,233.3 1049.7,219 699.4,366 1182,241.9 464.4,224.3 705.3,445.6 295.9,236.2 563.8,206.4 589.1,195.3 477.2,212.2 1238.3,232.3 575.8,216.5 810.3,212.4 1206.6,236.6 375.8,245.5 725.1,430.4 561.1,196.5 937.6,221.2 478.3,230.4 405.9,226.3 1124.5,236.1 972.5,230.2 913.1,227.7 640.3,256.7 871,197 951.2,211.6 1043.3,226.3 814.4,208.7 1237.9,241.5 554.9,221.3 1063.8,230.5 426.7,246.6 685.6,387 786.8,240.2 735.2,394.6 661.1,307.3 1191.1,233.1 349.4,227.8 305.4,236.4 314.4,243.7 823.8,208.5 934.9,234.5 1185.6,246.9 394.8,218.4 640.8,258.7 935.3,223.7 658.2,312.2 623.1,225.4 279.9,237.7 1201.2,228.6 840,218 521.2,232.6 1196.4,237.5 586.3,197.3 1086.8,234.2 1199.8,241 443.3,226 1118.1,240.9 374.5,233.3 507.8,200.4 979,216.2 762,353.7 525.1,211.2 843.8,217.6 717.7,381.1 714.7,386.1 885.1,221.6 1051.2,240 1196.3,233.1 1097.4,226.8 1185.7,240.6 558,221.8 905.9,223.4 693,354.6 407.6,235.3 1149.4,238 1137.8,234.8 252.6,231.8 1059.6,230.2 963.2,220.1 757.2,332.2 894,217.9 256.7,241.5 1085.8,231.5 1078.5,227.5 1147.5,231.9 592.5,219.2 410.7,227 778.5,254.9 966.6,227.9 1045,233.2 650.9,301.7 853.2,217.5 900.5,214.3 831.2,209.3 990.9,227.4 474.5,233.1 380.3,230.2 448.4,215.2 1084.6,241.6 485.3,222.6 910.7,216 818.4,198.2 1196.7,239.5 869.7,206.3 1183.2,237.9 609.8,189.7 692.2,356.1 1145.2,236.9 381.7,231.9 1206.2,240.1 380,235.1 447.4,211.9 1097.8,233.8 327.1,235 960.1,215.9 842.7,206.2 647.1,285.6 621.4,213.7 1026.5,245 704.6,370.6 993.4,223.6 318,241.1 832.4,207.4 819,214.4 1182,239.1 1204.8,242.2 1105.1,237 502.1,209.3 1202.6,241 308,229.8 539.5,196 975.9,219.2 660.1,316.8 919.3,237.4 1112.4,225.1 306.3,243.6 475.1,234.8 767.3,301.6 780.2,277.9 775.5,289.6 999.7,222.9 1184,241.3 872.6,181.6 881.7,227.1 814.6,207.5 385.5,223.8 1049.6,232.4 333.8,244.9 408.8,230.4 512.6,207.6 747,377.3 1117.9,245.2 534,216.9 845.5,229.5 633.5,239.8 647.7,244 902.5,226.9 1176.2,228.9 717,373.8 912,205.5 869.1,218.1 712.3,453.5 1141.5,232.6 745.8,363.4 557.7,215.5 574.6,219.6 687.6,373.4 310.4,235.5 378.5,231.7 920,221.4 1058.5,233.5 1229.7,240.4 283.3,225.3 473.9,236.5 316.9,233.4 875.1,200.9 464.9,238.3 487.9,235.8 1061.1,214.9 255.7,238.3 703.1,420.5 1076.1,238 1182.4,243.1 527.6,222.1 1052.2,234.8 980.6,224.9 584,200.2 989.2,231.2 804.4,214 829.4,215.9 291.5,245.6 1055.4,231.2 815.9,208.3 581.8,211.8 830.2,219 526.2,217.8 504.8,224.8 944.8,232.4 750.8,362 447.8,226.2 568.6,217.5 542.4,203.8 1078.3,246.7 1131.4,238.5 701.2,419.2 789.6,234.6 845.9,215.8 724.7,386.9 1090.2,239.9 1035.4,237.1 476.1,229 333.2,232.8 802.3,221.1 1155.7,242 907.7,217.7 368,229.4 407,230.3 290.3,231.7 1025.4,229.3 709.6,380.8 1132.9,231.5 783,259.4 1105.8,236.2 869.2,215.7 838.9,202.6 574.3,234.6 289,246.4 842.7,212.7 1202.6,243.2 785.1,242 889.5,221.3 550.7,215.5 476.3,210.6 1230.7,234.3 311,226.1 537.4,211.8 1122.6,236.3 1031.1,229.3 363.8,229.7 708.7,393.3 942.9,235 877.2,214.1 364.1,238.8 786.1,261.4 259.8,236.7 1136.4,230.2 707.8,405.5 1057.1,227.7 769,300 1202.4,240.6 439.1,227.2 560,217.1 282.1,239.3 447.9,220.8 574.3,202.8 1058.1,241 763.8,304.3 597,211.2 328.8,217.7 291.6,230.8 597,190.5 858.9,220.9 1162.8,236.9 390.8,235.6 1174.4,249 920,217.7 284.7,238.5 393.6,227.8 916.7,228 431.8,222.7 922.7,223.5 1204.9,231.5 906.3,212.6 1009.4,229.1 666.4,327.7 620.3,207.5 1071.4,225.5 314,230 1235.5,233.2 568.1,213.4 790.2,239.2 582.5,210.5 1024.5,224.6 1065.7,231.9 315.2,238.5 1060.1,243.1 484.8,232.2 803.3,215.8 1153.4,229.4 611.5,206.6 1127.1,234 810.4,177.3 1115,229.5 1205.2,234.1 372.2,228 1223.2,240.7 1045.3,224 1154.2,229.1 844.9,217.8 562.9,230.2 1078.3,242.8 519.8,213.5 819.3,208.4 349.6,226.9 590,211.5 650.6,291.9 1203.2,238.9 287.8,237.2 546.2,215.2 935.8,212.7 264.1,235.9 1229.2,243.8 439.9,233.8 741.5,375 825.7,191.2 766.3,302.3 724.7,419 422.6,219.3 875.5,203.8 639.5,250.6 1156.5,242.9 449.1,228 326.8,233.5 1172,235.4 373,232.6 1066.9,234 445.7,219.4 992.8,230.3 912.7,219.4 452.7,228.5 895.4,226.1 701.6,386.2 413.1,219.5 568.9,184.1 1196.7,243.5 956,234.9 298.1,240.5 894.5,225.3 1030.2,239.5 848,214.4 921.1,216.5 801.2,208.2 530.9,219.5 912.5,229.9 1030.3,227.2 418.7,227.1 280.7,242.4 730,418.7 868.7,214 361.3,235.4 551.9,216.5 1001.8,221.9 448.9,218.9 676.4,370.9 387.7,224.7 501.3,230.1 534.5,228 1090,224.6 476.6,231.5 818.9,200.4 349,245.9 485.3,234.6 682.1,447.4 975.1,237.4 616.4,205 368.5,243.3 493.6,198.7 1119.6,222.4 388.2,233.8 502.4,232.9 952,228.3 398.4,230.2 301.8,239.9 623,215.7 766.5,343.5 803.4,220.7 492.3,221.3 1070.1,226.5 1151.8,234.7 699.9,369.9 1120.1,232.1 1100.9,240.8 308.9,218.2 260.6,232.8 1065.8,223.1 566,212.3 262.1,232 777.6,273.4 458,227.7 607.6,212.6 974.7,225.5 683.3,395.8 566.9,217.2 1026.7,220.9 294.5,225.6 981.4,241.1 533.9,231.9 609.2,233.1 473.9,222.9 954.2,239.8 705.9,406.4 373.9,239.8 1219.5,229.3 1139.1,245.6 1176.1,232.6 901.2,222.9 821,190.9 301.4,227.5 630.5,232.2 606.4,228.1 747.4,342.6 1214.7,236.1 557.5,226.5 283.7,242 889,226.3 253.6,234.1 565.1,184.6 389.6,230 547.2,210.7 426.9,237.9 1237.3,234.9 1110.2,235.8 931.5,231.5 1084.2,226.1 585.9,198.6 1181.8,222.5 267.9,247.9 1115.1,231.7 1026.8,236.8 472.8,227.2 299.2,236.1 1108.3,235.4 511.6,208.1 601.9,214.9 1179.8,237.1 655.9,294.2 933.2,212.3 503.8,221.6 693.2,379.2 1088.1,239.7 900,230 587.4,219.9 666.4,319.7 591.3,221.1 1051.3,229.2 661.3,323 777.6,271.7 464.7,236.9 582.3,215.8 654.7,293.6 1131.5,237 310.3,233.6 297.7,218.7 672,354.2 943.6,237.1 386.9,230.1 598.9,214.1 754.4,340.2 1083.6,230.6 730.5,419.7 285,234.3 513.2,231.6 850.6,213.3 310.7,234.7 658.3,342.9 568.3,182.1 968.2,211.9 739.4,374.6 704.8,370.4 598.7,180.5 783,255.8 296.9,237.9 445.9,239.4 393,233.5 631.5,232.2 1207.7,242 348.2,237.6 794.6,222.7 543,209.9 1044.4,219.1 1025.8,236.6 1094.5,233.9 1042.3,231.3 259.7,234.8 1192.5,234.9 970.5,218.2 1154.5,228.9 781.6,258.2 915.4,231.3 394.3,223.5 506.3,214.4 272.2,235.2 592.9,219.6 1128.3,230.4 514.9,227.1 1198.4,242 330.6,235.3 901.3,207.7 379.3,232.2 888.4,215.1 1077.7,240.4 1194.1,231.8 1047.1,235.3 262.9,232.7 950,194.5 455.3,224.5 723.3,435.1 261.9,244.1 642.4,272.8 915.9,228.3 828,191.1 1202.7,236.5 749.3,363 496.3,214.6 344.2,240.1 669.8,341.6 582.2,199 960.6,214.6 1019.8,233.8 965.6,229.7 1042,236 1082.4,232.4 1000.7,218 399.7,230.7 813.7,217 577.9,198 879.1,201.3 262.6,231.5 950.3,227.7 763.1,337.7 616,214 774.6,268.3 398.3,221.8 990.7,233.8 624,213.9 1137.3,234.1 716.3,371.1 885.3,218.9 547.5,206.9 925.1,202.7 503.6,223.9 952.9,233.5 816.6,216.5 594.1,215.4 385.1,232.9 1131.8,244.3 415.4,227.5 297.2,242.2 615.3,201.9 1014.6,237 392.1,226.3 1021.7,231.6 1233.7,226.8 859.7,208.2 834.1,212.3 785.3,257 876.1,200.2 435.8,219.2 1214.1,235.2 363,226.5 1134.7,231.7 572.4,230.7 354.7,228.6 704.8,394 721.7,405.4 260.2,237.4 311.9,232.4 689.7,398.5 438.5,226.9 1133.2,242.6 942.3,225.3 544.4,221.8 904.4,204.2 298.6,239.8 917.9,221.1 1208.6,229.6 462.4,230.2 407.9,242.5 954.6,225.7 861.2,211.8 857.6,199.6 933.9,215.6 337.5,228 279.5,224.3 334.2,244.8 1091.2,236.8 490.6,212.8 572.3,201.9 1018.4,234.7 825.4,184.7 611.4,210 312.6,223.8 512.8,219.7 1073.3,229.7 422.8,223.2 791.7,244.5 659.5,314.2 1170.6,241.4 1173,233 1139.9,227.6 633.3,213.3 626.1,222.7 934.6,230.5 714.2,427.8 460,225.6 806.5,230.9 879.4,220.8 814.6,225.2 1122.8,226.6 680.4,371.5 1229.7,231.3 443,231.2 465.6,225.5 774.9,283.8 291.7,235.1 736.5,369 893.2,211.9 953.7,222.6 1216.3,237.6 459.5,231.6 944.7,221.5 893.9,225.1 921.2,223.5 454,207.2 1026,224.9 828.9,209.5 580.8,207.4 994.7,228.3 1152.7,236.1 816.2,205.3 988.6,227.8 604.3,207.9 1171.1,230.7 569.5,200.1 872,192.9 836.8,203.9 732.5,378 973.1,237.5 828.6,205 985.3,223.9 979.7,222.5 501.8,225.8 483.3,226.4 854.2,224.8 259.7,239 1108.5,247.2 1055.8,227.2 894.2,218.6 504.3,227.9 1021.7,231.3 1172.7,241.5 993.1,225.4 789.7,255.9 441.7,242.1 311.5,234.7 869.2,228.1 382.4,236.6 347.3,229.1 698.9,390.3 886.1,205.5 1046.9,234.3 690.5,345.3 399.6,231.4 939.5,224.2 300.5,237.2 553.4,217.3 794.1,230.2 254.4,240.2 978.4,238.1 603.1,200.9 648.6,276 679.9,420.4 304.6,238.1 885.5,211.6 952.3,224.7 1106.2,241.2 506.9,217.8 273.7,235.2 1002.1,212.6 886.7,198.1 579.7,208.9 456.5,226.2 475.5,241.5 689.2,381.7 828.5,201.4 406.8,230.7 834.7,223.9 576.4,203.3 984.3,217.4 335.8,236.7 275.7,240.3 625.6,221.9 621.1,223.2 427.5,221.2 1117.4,226.3 1195.1,237.9 1046.9,224 935.4,221.6 805.3,209.6 906.3,215.9 572.8,209.3 439.7,224.9 797.7,221.8 389.3,231.2 839.4,219.3 1030.2,227.7 301.1,238.1 316.3,239.6 779.3,274.3 912.7,223.7 1215.9,232.9 712.4,393.3 917.3,214.3 609.6,182.2 489.4,221.8 286.2,233.1 880.9,204.3 924.8,237.2 1133.5,232.2 321.5,229.1 521.8,217.7 701.4,358.3 264.3,236.9 1133.5,226.7 282.8,233.8 668.5,355.6 802.8,215.6 637.6,261.5 513.9,207 996.6,230.7 746.2,412.5 947.6,210.6 1047.4,229.5 706.4,399.6 611.1,197.1 1187.2,230.9 340.6,236.8 1232.2,236.7 901.1,197.2 743.8,375.5 288.5,234.9 1178.6,231.1 448.4,233.1 624.2,222.4 570.5,189.6 621.3,200.4 437.5,225.7 1221,231.2 733.8,434.5 454.6,234.3 351.8,231.7 1096.8,226 1081.3,247.9 1121.9,233.1 836.3,212.8 501,222.9 351.1,232.3 555,223.1 431.7,232.8 522.7,213.5 275.3,239.9 575.1,193.5 836.1,173.1 926.1,218.2 874.9,220.7 732,361.4 434.9,224.5 671.3,314.5 911.8,227.8 1067.2,237.6 307.4,235.6 619.5,220.3 1146.6,235.4 793.6,233.2 427.9,237.1 952,213.4 537.1,193.7 277,236.7 1059.1,220.6 324,224.1 334.4,236.5 491.6,226 1096.8,228.2 1140.7,227.8 591.1,213.5 854,224.8 451.1,217 422.5,225.7 954.3,236.7 957.1,219.4 993.5,227.9 447.4,225.6 729.8,411 793.6,248.1 820.9,206.5 781.7,250.9 588.2,188 969.2,227.6 349.2,240.6 1183,226.4 573.8,197.7 1060.7,237.8 852.6,214.6 654.3,284.1 747.2,359.4 612.5,186.5 793.3,232.6 685.8,395.1 1150,234.3 413.8,242.2 1035,236 603.7,199.8 1160.2,240.2 1130.4,237.1 1110.6,245.5 912.4,221.6 325.9,229.5 1136,238.6 831.2,196.3 376.3,229.1 892.3,209 967.5,226.1 327,241.2 469.9,230 555.4,207.3 850.2,191.8 913.1,229.4 609.4,186.7 437.3,244.7 533.6,196 1071.9,225 548.6,206.4 790.1,244.4 1126.6,230.7 637.3,228.1 1085.8,235.7 971.7,221 1055.4,232.8 615.5,210.3 419.9,247.6 887.2,219.8 398.8,242 1144,241.4 1122.3,226.4 1081.1,230.9 1193.9,240.2 887,217.2 313.7,228.4 499.2,218.6 583.4,218.5 887.4,212.4 964.4,224.1 986.8,234.3 411.5,227.7 771.9,283.5 345.5,247 933.6,215.9 946.7,211.2 851.6,206.2 780.9,257.3 996.1,217.4 925.2,221 355.5,222.7 683.6,366.3 998.5,226.9 1223.8,240.1 373.7,241.5 807.6,212.2 305.2,226.8 562.8,224 531.4,203.8 1184.5,240.9 465.5,232.9 274,247.6 781.6,258.5 592,197.1 875.2,229.2 591.6,206.1 749.8,380.1 595.7,217.9 447.9,222.5 440.9,226.2 1021.6,224.8 519.4,212.2 1059.6,230.9 972.7,231.1 1127.1,241 391.3,238.4 562.9,213.5 417.1,235.8 634.6,226.8 964.6,214.7 943,216 1112.4,221 1145.4,239.5 1065.4,237.3 424.2,232.4 1027.8,229.3 928.7,211 610.8,191.5 1183.6,238.2 721.6,391.4 1201.8,231 566.4,204.2 323.4,234.4 418.1,225 776.8,279.7 471.9,229.8 1204.9,238.2 855.7,215.1 455.8,223.9 910.7,211.6 743.3,386.7 748.8,366.3 918.2,241.4 328.6,225.1 1020.6,240.5 591.2,187.5 994.8,228.3 765,309.3 832.6,173.8 956,230 315.4,237 959.9,232.4 1141.7,220.7 894.6,228.6 747.2,396.2 870.6,216.4 313.8,241 647.4,272.2 1190.9,235.2 542.3,218 421.7,241.5 741.7,408.8 1111.1,235 1198.6,246.1 659.7,297.6 781.7,258.9 940.5,218.3 543.7,220.6 559.1,216.9 851.4,210.7 550,201.5 482.1,225.4 318.7,226.3 921.5,224.3 473.9,232.5 342.1,239.1 1235.8,239.5 569.7,187.5 444.8,221.2 514.7,216.3 823,217.4 476.5,198.6 676.6,351.2 1012.1,231.3 614,220.5 335.1,234.8 922.2,222 845.7,227.1 868.3,210.7 529.4,219.5 631.4,216.8 608.2,201.7 1215.1,227 1212.2,236.4 721.7,385.9 1153.9,246 424.7,227.1 499.7,224 487.6,204.9 992.2,224.1 492.6,219.1 640.8,240.6 1188.2,237.2 640,254.3 657.7,303.3 376.4,225 788.7,251 532.4,225.8 669.9,341.8 876.1,224.8 582.4,218.5 451.8,227.4 360.9,240.9 1040.5,235 1220.5,242.1 479.4,229.4 758.2,316.9 1225.2,236 895.5,219.3 525,232.9 971.1,235.1 1073.4,231.5 899.7,226.2 572.1,203.3 1038.8,231.7 555.4,222.6 541.2,194.5 439,246.8 452.8,222.5 546.5,210.7 371.6,241.9 457,227.1 591.8,200.4 418.3,225.2 1047.7,235.8 891.5,210.7 1195.5,237.4 433.3,235.4 584.4,218.6 1009.2,229.5 368.6,238.9 641.8,266.1 400.5,228.9 1225.2,233.8 373.7,229.1 1193.3,234.6 433.5,232.7 1211.2,233.8 1086.2,230.9 1009.9,223 423,231.9 989.7,236.2 875.9,202.9 522.8,207.6 909.4,226.5 1231.2,232.2 506,225.7 298.1,239 506.8,208.6 802.1,214.7 1223.7,236.7 1144.1,240.2 387.9,228.9 1118.1,234.5 1202.3,232.2 821.2,223 332.8,231.4 409.1,233.3 724,367.9 731.1,356.1 754.6,350.1 648.2,273.6 1157.7,235 294.9,240.9 308.3,236.4 823.8,181.5 864.4,228.3 679.8,355.1 624.7,231.4 526.5,222.3 758.2,333.3 1129,241.6 323.2,230.3 702,454.1 1129.5,223.7 906,223.8 849.4,221.9 784,256.6 1133.1,233.3 361.8,222.9 1236.3,241.9 931.1,228.1 957.1,222.1 689.9,421.8 907.3,207.6 791.5,221.2 1126.5,239.7 1137.1,238.9 1172.2,234.8 1143.3,236.6 362.6,230.1 343.4,224.6 964.9,225.6 780.4,267.7 594.2,207.7 1180.5,237.2 651,310 252.7,237.6 496.9,219.6 1058.8,222.3 1144.7,226.2 412.4,244.3 1098,222.1 360.6,236.7 874.5,181.8 915.9,202.6 659.4,298.6 550.8,214.4 427.4,225.1 341.2,240.6 1027.8,228.7 1115.6,246.8 1126.1,227.1 869.9,215.3 607.2,182.1 294.6,230.5 441.3,216.4 961,229.9 399.6,231.8 794.8,235.6 381.3,231.9 444.7,228.9 407.4,231.4 800.7,211 781.4,246.4 840.8,221.7 812.4,207 854.7,222 1209.4,240.9 1188.9,238.4 745.6,403.2 849.4,226.3 547.5,204.5 712.8,449.2 694.2,366.8 754,362.1 381.2,227.7 843,215.4 442.1,243.9 476.1,219.4 471,226 1075.7,239.1 291.9,242.6 865.4,215.6 376.8,235.8 949.2,233.5 1166.4,233.7 632,241 676.1,328.5 828.5,202.6 546.3,195 374.1,247.5 1156.9,238.2 967.5,233 476.9,217.7 723.3,453.4 257,236.8 1065.9,235.1 1221.3,240.5 1003.6,229.3 983.4,240.2 1235.4,241.2 836,201 1216.6,230.3 1027,233.3 1206.7,238.8 1105.4,245.5 1007.8,240.5 841.5,209.4 436,220.1 400.8,234.6 1091.9,238.8 402.4,226.9 1191.6,236.8 872.4,212.1 978.1,231.9 620.8,222.1 1238.9,231.9 900.4,213.1 957,205 1197.7,239 431.9,219.6 903.4,238.8 948.4,207.2 1082.3,247.1 566.2,211.7 998.6,234.9 280,233.8 493.5,225.2 891.9,192.8 293.2,248.3 840.5,208.5 315.7,241.7 976.9,221.7 635.2,244.4 503.9,213.1 1097.2,233.2 434.9,227.7 271.9,228.3 472.3,229.9 409.4,230.7 345.4,239.5 1201.9,239.1 444.8,214.2 283.9,241.7 274.1,231.1 1000.5,217.1 627.4,216.6 574,197.8 974.4,234.7 882.1,218.7 667.4,332.6 867,196.5 473.1,225.2 629.5,246.8 938,223.6 599.4,218.6 566.4,203.1 491.8,221.1 716.9,409.5 954.8,221 1017.7,235.8 1057.7,240.4 867.6,226.2 395.3,242 927.9,226.9 816.7,194.1 1144.3,238.2 294.5,235.7 632.9,240.9 306.5,230 678.9,373.5 742.7,382.1 1175.5,235.2 345.6,232.1 1198.8,235.4 383,229.5 581.5,197.1 405.1,236.6 1123.4,237.7 1184.2,247.3 735.2,373 557.9,199.6 638.9,258 456.1,224.8 1017.2,222.5 655.7,288.4 518.8,216 615.4,206.6 631.3,224.3 950.2,211.4 569.2,202.4 509.7,228.7 635.8,233.2 837.9,227.6 343.1,238.5 742.1,396.8 995.4,242.9 1126.8,233.9 596.6,192 1186.3,230.3 859.3,208.2 262.6,231.1 615,218.4 717.8,427.6 615.6,207.5 682.9,386.3 738.3,359.6 749.7,389.4 664.9,311.7 880.6,213.8 359,231.4 808.3,214.4 429.8,221 742.9,350.7 471.8,231.2 645.7,275.8 984.5,225.9 308.9,223.5 912.4,211.3 1126.6,228.7 557.7,224.3 891,207.6 996,232.5 1029.3,230.5 362.8,247.9 563.7,232.2 848,223.8 915.5,215.8 867.7,210.2 1030.1,229.8 1159,237.3 677,340.3 1102.8,239 985.7,232.5 1104.2,242.7 754,365.5 883.8,231.8 1057.2,224 442.6,223.7 940.8,214.8 465.3,230.9 432.3,231.7 643.4,264.8 727.6,361.9 1151.8,238.8 982.6,234.5 506.9,203.9 676.4,360.7 493.3,231.2 579.2,208.5 967.5,221.5 376.2,238.4 702.2,425.7 1021.6,238.2 600.2,212.1 1060.4,228.6 913.3,213.4 1113.9,236 408.3,241.5 860.3,212.6 472.9,214.5 1077.3,237.9 461.1,233.3 1010.1,223.2 1058.4,232.3 1102.5,226 450,220.8 1097.1,227.7 392.2,231.3 923.8,234.5 1076.5,235.8 991.6,229.8 883.2,208.3 820.5,206.2 976.4,220 1104.6,226.2 386.4,229.3 621.7,212.8 547.1,212.9 920.7,220.3 323.3,233.8 790.9,238.6 384.7,228.5 346.3,224.4 1037.1,243.5 776.7,262.9 1067.8,242.6 921.2,224.1 1159.1,241.1 685.5,364.5 373.6,246.5 1124.9,235.7 335.2,228.8 729,394.5 448.3,234.6 914.1,220 1156.9,241 672.6,348 475.5,229.2 798.7,205 423.9,238.2 967.5,219.7 613.4,208.6 1088.3,238.3 1123.4,234.4 1225,230.6 404.4,216.2 383.6,227.5 1198.9,238.3 606.4,212 586.3,224.1 822.4,207.4 777.4,280.3 1111.2,221.8 930.2,226 975.7,231.9 627.6,237 732.9,387.7 1164.5,239.3 1179.2,245.5 856.6,199.5 830.7,204.3 466.6,208.9 690.7,369.8 331.3,234.5 409.1,219.3 444,227.8 682.3,366.7 945.9,238.2 893.5,212.7 1063.7,232.5 292.9,236.1 258.9,230 883,225.9 584.6,210.3 542.9,212.1 1086.1,234.9 328,226.9 1108.1,250.2 510.6,207 275.1,229.6 1142.7,242.1 1091,245.2 711,412.7 454,225.4 645.2,267.7 353.4,230 918.9,215.6 977.4,216.6 1184.2,241.9 935.7,218.6 557,215.7 642.5,268.8 684.3,399.7 827.6,209.4 756.1,356.7 1061,226.6 544.1,220.9 873.4,218 476.5,220.8 649,275.9 892,219.7 321.7,243.1 1121.1,235 1135.5,234.8 1142.5,242 518,212.4 679.1,383.8 1112.5,232 700.7,397.7 749.7,379.1 740.8,332.4 423.1,225.2 525.7,221.2 623.9,224.2 757.4,344.1 1190.9,235.4 696.1,399.6 789.6,252.5 977.4,224.8 1094.2,233.3 1017.6,228.3 840.5,211.9 990.1,244.5 1018.1,223.3 360.3,231.3 1196.7,239.9 1186.3,239.4 877.8,211.5 334,236.9 613,202.9 1145.6,232.3 444.2,227 882.5,218.9 866.3,214.9 976.3,215.9 863.8,193.5 1017.1,218.7 368.1,236.9 936.6,229.8 446.1,243.9 556.7,207.7 1034.9,240.9 292.6,232.8 1063.4,235.7 535.3,214.9 705.4,373 294.8,236.1 925.7,224.7 1239.2,232.6 420.8,237.7 953.7,222 1195.9,232.1 1153.3,228.6 928.6,225 451.9,228.1 519.6,211.5 414.2,238 932.6,226.8 281.9,240.1 1204.5,230.9 972,231.4 313,232.8 631.4,209.4 651.3,288.6 1175.5,234.6 858.6,211.8 607.3,204.6 889.6,220.5 736,442 318.1,233.2 446.1,227 276.1,238.6 403.9,235.5 1151.5,239.1 331,231.6 1119.8,232 923.4,225.7 253.9,239.2 410,229.1 567.6,212 722.5,453 524.7,220.2 539.7,193.8 762.8,309.9 371.7,230.8 1133.6,241.3 1033.1,235.9 1238.7,236.1 501.9,212.2 1050.1,242 1001.9,244.2 1067.8,235.5 924.9,219.8 774.6,285.2 442.1,218.4 620.6,219.9 887.1,224.4 734.1,368.2 498,211.7 331.5,238.2 331.8,237.7 1062.1,224.4 498.1,208.6 1128.6,242.9 655.1,289.7 1231.5,241 902.2,219.2 964.8,207.9 995.9,225.7 775.4,261.5 1197,242.5 1175.8,233.2 1034.3,242.9 978,231.9 671.8,341.3 509.8,196.6 815.6,200.4 364.3,246.7 292.6,232.3 1015.7,213.9 927,213.3 608.9,213.9 944,231.4 779,283.9 437.9,232.2 297.4,235.6 563.1,216.8 468.6,224.7 977,225.1 1171.7,228.4 439.8,236.3 463.6,221.3 839.8,186.6 1157.1,228.2 468.8,226.8 438.3,224.4 688.5,402 1058.7,230.4 951.7,221.2 1206.4,239.7 958.3,217.8 426.2,227.6 710.8,430.1 443.2,208.7 595.5,188.3 720.1,371.9 990.3,222.1 750.8,355.4 1062.4,226.9 799.3,212.8 937.2,233.2 733.4,370.7 809.4,213.8 945.5,223.3 883.5,216.4 1078.4,228.2 348.7,229.9 617.7,200.8 1069.6,246 1037.4,250.3 575.2,204 1027.7,244.9 1063.9,222.9 1088.8,232.8 1006.5,215.4 451,222 510.6,229.3 924.3,234.9 257.8,229.1 323.8,237.3 890.3,226.1 694.3,381.4 1024,224 426.4,235.5 327.3,238.2 340,222.5 823.8,202.3 669.5,342.2 1229.6,240 881.1,216.8 404.4,214.9 1142.5,237.4 479.8,239.4 1109,243 966.7,243.3 783.2,257.7 898.6,205.3 839.9,214 976.6,237 294.7,224.2 638.6,259 255.4,238.6 808.8,204.4 495.2,204.6 302.1,235.7 588.6,190.7 1192,235.7 358.5,234.6 925.7,217.2 863.9,224.7 1021.7,217.3 338.5,240.6 669.1,355.7 285.1,241.6 1130.9,231.6 253.7,240.6 794.9,232.9 350.4,227.8 1005.2,229.9 707.5,444.3 1171.9,236.8 1176.2,233.8 678.1,385.7 1055.9,229.2 985.1,230.2 500.6,205.6 720.1,424.9 395.1,237.5 583.3,207.7 590.7,216.6 714.9,381.3 519.5,198.3 663,316.9 407.1,222.6 473.7,233 561.1,214.8 375.5,229.7 363.9,240.3 696.9,372.3 610.3,210.4 741.9,384.7 682.3,407.8 1160.6,235.3 895.2,215.7 745.4,379.9 898.2,221.2 1016.9,227.3 518.8,222.4 312.5,232.6 364.6,235 581.9,201.9 469.5,227.8 1026.9,230.3 972.8,213.9 283.1,237 724,437.9 704.7,407.3 930.5,223.6 464.7,236.2 411,242.6 876.9,210 587.9,199.2 1034.6,263.5 778.4,295.8 584,221.9 914,213.7 957.3,228.9 1013.5,240 480.2,218 592.9,200.7 380.9,232.5 257.5,243.8 474.2,221.7 411.9,237.1 441.9,229.9 689.3,374.9 568.5,211.3 1009.5,232.1 409,231.4 987.7,224.2 1208.7,236.3 1103,240.4 414.1,223.1 707.2,430.6 562.7,208.7 693.7,430.7 1043.8,231.4 324.8,232.5 1017.1,223.6 527.4,219.7 1021,236.6 844,211.9 1038.8,211.1 439.9,235.3 1195.5,242.8 343.1,235.7 1088.7,244.2 282.8,243.5 336.8,227.4 627,213.1 345.3,227.9 1104.1,224.7 520.7,217.4 805.8,218.5 1095.8,225.6 761.5,318.9 326.7,229.6 372.7,226 855.8,193.9 269.4,227.9 1154,235.4 1148.4,244.6 999.4,226.5 652.5,266.9 335.8,240.7 407.8,226.5 1206.2,235.9 1165.9,240.4 554.9,208.2 1174.8,227.1 1167.5,235.9 1205.1,244.8 796.2,243.6 464.5,220.3 531.3,223.1 905.3,225.7 512.4,217.3 703.7,393.3 540,214.9 868.6,214.5 276.4,236.1 575.1,218.1 1194.6,246 444.6,237 699.1,413.4 1066.8,228.1 960.7,232.3 1180.1,240.6 1083.5,226.2 1051.4,222.1 1202,232.4 1188.2,233.6 683.6,380.9 579,209.1 659.3,306.5 252.1,241.4 326,232 953.7,238.5 1016.1,235.5 959.2,229.2 815.3,206.5 278.9,233.3 456.2,210.4 556.8,218.8 316.7,227.5 537.4,214.2 649.4,281.8 440.2,229.7 1230.3,237"/>
<polyline fill="none" stroke="none" marker-start="url(#mt)" marker-mid="url(#mt)" marker-end="url(#mt)" points="700.4,441.9 687.8,448.5 710.4,448.5 716.7,450.4 738.9,450.4 687.8,456.7 704.4,461.1 716.7,458.5 728.9,458.5 733,458.5 710.4,467.4 723,467.4 698.1,475.2 723,473.3 723,479.3 706.3,483.7 716.7,487.8 598.6,173 615,172"/>
<polyline fill="none" stroke="none" marker-start="url(#mb)" marker-mid="url(#mb)" marker-end="url(#mb)" points="94.9,241.2 112,239.1 129.2,236.8 146.3,238.6 163.5,238.1 180.6,239.1 197.8,237.5 214.9,237.4 232.1,236.6 249.2,236 266.4,238.7 283.5,238.1 300.7,234.8 317.8,237.2 335,235.7 352.1,235.6 369.3,234.2 386.4,237.2 403.6,232.1 420.7,230.5 437.9,229.1 455,228.8 472.2,227.1 489.3,221.8 506.5,221.9 523.6,219.9 540.7,215.1 557.9,215.3 575,211.4 592.2,209.1 609.3,207.3 626.5,222.8 643.6,265.3 660.8,308.2 677.9,358.3 695.1,390.1 712.2,403.7 729.4,390 746.5,357.8 763.7,310.3 780.8,263.5 798,223.9 815.1,207.6 832.3,211.2 849.4,214 866.6,216.2 883.7,217.6 900.9,219.4 918,221.4 935.2,224.8 952.3,223.6 969.4,226.4 986.6,229.2 1003.7,228.5 1020.9,230.7 1038,233.2 1055.2,236.6 1072.3,236 1089.5,236.8 1106.6,237.1 1123.8,237.4 1140.9,236.8 1158.1,236.9 1175.2,236.5 1192.4,237 1209.5,237 1226.7,237 1243.8,239.3 1261,237.2 1278.1,234.9 1295.3,237.4 1312.4,238.9 1329.6,237.1"/>
<polyline fill="none" stroke="#f00" stroke-width="4.3" stroke-linejoin="round" points="84.9,236.9 94.9,236.9 112,236.9 129.2,236.9 146.3,236.9 163.5,236.9 180.6,236.8 197.8,236.7 214.9,236.7 232.1,236.6 249.2,236.4 266.4,236.2 283.5,235.9 300.7,235.5 317.8,235.1 335,234.6 352.1,233.8 369.3,233 386.4,232.1 403.6,231.1 420.7,229.7 437.9,228.2 455,226.6 472.2,225 489.3,222.7 506.5,220.5 523.6,218.4 540.7,216.3 557.9,214.3 575,212.4 592.2,210.1 609.3,206.6 626.5,221 643.6,263.5 660.8,314.2 677.9,363.3 695.1,394.7 712.2,408.9 729.4,394.7 746.5,363.3 763.7,314.2 780.8,263.5 798,221 815.1,206.6 832.3,210.1 849.4,212.4 866.6,214.3 883.7,216.3 900.9,218.4 918,220.5 935.2,222.7 952.3,225 969.4,226.6 986.6,228.2 1003.7,229.7 1020.9,231.1 1038,232.1 1055.2,233 1072.3,233.8 1089.5,234.6 1106.6,235.1 1123.8,235.5 1140.9,235.9 1158.1,236.2 1175.2,236.4 1192.4,236.6 1209.5,236.7 1226.7,236.7 1243.8,236.8 1261,236.9 1278.1,236.9 1295.3,236.9 1312.4,236.9 1329.6,236.9 1342.7,236.9"/>
<polyline fill="none" stroke="#f00" stroke-width="6.2" stroke-linejoin="round" points="84.9,236.9 94.9,236.9 112,236.9 129.2,236.9 146.3,236.9 163.5,236.9 180.6,236.8 197.8,236.7 214.9,236.7 232.1,236.6 249.2,236.4 266.4,236.2 283.5,235.9 300.7,235.5 317.8,235.1 335,234.6 352.1,233.8 369.3,233 386.4,232.1 403.6,231.1 420.7,229.7 437.9,228.2 455,226.6 472.2,225 489.3,222.7 506.5,220.5 523.6,218.4 540.7,216.3 557.9,214.3 575,212.4 592.2,210.1 609.3,206.6 626.5,221"/>
<polyline fill="none" stroke="#f00" stroke-width="6.2" stroke-linejoin="round" points="798,221 815.1,206.6 832.3,210.1 849.4,212.4 866.6,214.3 883.7,216.3 900.9,218.4 918,220.5 935.2,222.7 952.3,225 969.4,226.6 986.6,228.2 1003.7,229.7 1020.9,231.1 1038,232.1 1055.2,233 1072.3,233.8 1089.5,234.6 1106.6,235.1 1123.8,235.5 1140.9,235.9 1158.1,236.2 1175.2,236.4 1192.4,236.6 1209.5,236.7 1226.7,236.7 1243.8,236.8 1261,236.9 1278.1,236.9 1295.3,236.9 1312.4,236.9 1329.6,236.9 1342.7,236.9"/>
<polyline fill="none" stroke="none" marker-start="url(#mr)" marker-mid="url(#mr)" marker-end="url(#mr)" points="94.9,236.9 112,236.9 129.2,236.9 146.3,236.9 163.5,236.9 180.6,236.8 197.8,236.7 214.9,236.7 232.1,236.6 249.2,236.4 266.4,236.1 283.5,235.9 300.7,235.5 317.8,235.1 335,234.6 352.1,233.8 369.3,233 386.4,232.1 403.6,231.1 420.7,229.6 437.9,228.2 455,226.6 472.2,225 489.3,222.7 506.5,220.4 523.6,218.3 540.7,216.2 557.9,214.3 575,212.4 592.2,210.1 609.3,206.6 626.5,221.1 643.6,263.7 660.8,314.4 677.9,363.4 695.1,394.7 712.2,408.9 729.4,394.7 746.5,363.4 763.7,314.4 780.8,263.7 798,221.1 815.1,206.6 832.3,210.1 849.4,212.4 866.6,214.3 883.7,216.2 900.9,218.3 918,220.4 935.2,222.7 952.3,225 969.4,226.6 986.6,228.2 1003.7,229.6 1020.9,231.1 1038,232.1 1055.2,233 1072.3,233.8 1089.5,234.6 1106.6,235.1 1123.8,235.5 1140.9,235.9 1158.1,236.1 1175.2,236.4 1192.4,236.6 1209.5,236.7 1226.7,236.7 1243.8,236.8 1261,236.9 1278.1,236.9 1295.3,236.9 1312.4,236.9 1329.6,236.9"/>
<polyline fill="none" stroke="none" marker-start="url(#mg)" marker-mid="url(#mg)" marker-end="url(#mg)" points="94.9,139.9 112,141.2 129.2,139.5 146.3,140.3 163.5,139.8 180.6,141.3 197.8,140.4 214.9,141.1 232.1,141.3 249.2,140.9 266.4,140.4 283.5,140.7 300.7,141.4 317.8,140.9 335,139.8 352.1,140.4 369.3,138.9 386.4,139.6 403.6,140.3 420.7,140.3 437.9,140.2 455,140.8 472.2,139.1 489.3,140.4 506.5,139.3 523.6,141 540.7,140 557.9,140.3 575,139 592.2,139.2 609.3,140 626.5,137.6 643.6,136.6 660.8,135.2 677.9,132.1 695.1,132.6 712.2,130.8 729.4,130.2 746.5,131.9 763.7,133.9 780.8,135.9 798,137.7 815.1,139.7 832.3,140.6 849.4,139.6 866.6,140.5 883.7,138.6 900.9,141.2 918,140.9 935.2,140.2 952.3,139.8 969.4,138.3 986.6,139.7 1003.7,140.3 1020.9,141.5 1038,140 1055.2,139.4 1072.3,140.2 1089.5,139.5 1106.6,139.9 1123.8,139.8 1140.9,140 1158.1,140.3 1175.2,140.6 1192.4,139.6 1209.5,139.6 1226.7,140.7 1243.8,138.4 1261,139.3 1278.1,139.2 1295.3,140.2 1312.4,140 1329.6,139.4"/>
<rect x="84.9" y="48.1" width="1257.8" height="484.1" fill="none" stroke="#000" stroke-width="2"/>
<text class="tk" x="183.2" y="559.6" text-anchor="middle">-15</text>
<text class="tk" x="357.9" y="559.6" text-anchor="middle">-10</text>
<text class="tk" x="532.6" y="559.6" text-anchor="middle">-5</text>
<text class="tk" x="710.6" y="559.6" text-anchor="middle">0</text>
<text class="tk" x="886.1" y="559.6" text-anchor="middle">5</text>
<text class="tk" x="1060.8" y="559.6" text-anchor="middle">10</text>
<text class="tk" x="1235.5" y="559.6" text-anchor="middle">15</text>
<text class="tk" x="75" y="55.6" text-anchor="end">60</text>
<text class="tk" x="75" y="120.1" text-anchor="end">40</text>
<text class="tk" x="75" y="184.7" text-anchor="end">20</text>
<text class="tk" x="75" y="247.2" text-anchor="end">0</text>
<text class="tk" x="75" y="313.8" text-anchor="end">-20</text>
<text class="tk" x="75" y="378.3" text-anchor="end">-40</text>
<text class="tk" x="75" y="442.9" text-anchor="end">-60</text>
<text class="tk" x="75" y="507.4" text-anchor="end">-80</text>
<text class="tt" x="100.3" y="26.4" textLength="1222.9" lengthAdjust="spacingAndGlyphs">Planet 1 Odd Transits Fit: Whitened Folded Averaged Zoomed Flux Time Series</text>
<text class="lb" x="619.2" y="600.7" textLength="177.5" lengthAdjust="spacingAndGlyphs">Phase [Hours]</text>
<text class="lb" transform="translate(22.4,291.3) rotate(-90)" text-anchor="middle" textLength="309" lengthAdjust="spacingAndGlyphs">Whitened Flux Value [ σ]</text>
<path d="M188.8,720.7v15 M188.8,1207.2v-15 M363.5,720.7v15 M363.5,1207.2v-15 M538.2,720.7v15 M538.2,1207.2v-15 M712.9,720.7v15 M712.9,1207.2v-15 M887.6,720.7v15 M887.6,1207.2v-15 M1062.3,720.7v15 M1062.3,1207.2v-15 M1237,720.7v15 M1237,1207.2v-15 M84.9,785.6h13.5 M1342.7,785.6h-13.5 M84.9,850.4h13.5 M1342.7,850.4h-13.5 M84.9,915.3h13.5 M1342.7,915.3h-13.5 M84.9,980.2h13.5 M1342.7,980.2h-13.5 M84.9,1045h13.5 M1342.7,1045h-13.5 M84.9,1109.9h13.5 M1342.7,1109.9h-13.5 M84.9,1174.8h13.5 M1342.7,1174.8h-13.5" stroke="#000" stroke-width="2" fill="none"/>
<polyline fill="none" stroke="none" marker-start="url(#mc)" marker-mid="url(#mc)" marker-end="url(#mc)" points="780.8,972 1345,905 310,906 175,925 746.6,1008 763.7,1004.6 729.5,1003 774,998 712,994"/>
<polyline fill="none" stroke="none" marker-start="url(#mc)" marker-mid="url(#mc)" marker-end="url(#mc)" points="245.9,898.2 227,907.1 163.9,914.7 106.2,917 1270.8,914.1 99.4,913 1272.8,915.3 241.7,917.7 1312.2,907.5 223,906.2 1338.4,911.7 1264.9,899.5 225.6,915.7 249,901.9 1306.1,909.1 129.3,909.9 1342,915.5 1340.3,913.6 166.5,914.7 193.6,916.4 205,912.2 171.9,912 1266.4,909.3 124.7,915.6 154.7,909.3 1287.1,915.9 102.2,915.2 1316.6,902.5 242.9,914 189.5,907.1 102.9,913.3 1298.8,908.8 187.8,901.7 106.2,907.9 1252,911.2 206.9,914.1 108.7,906.9 164,911.4 1288.5,914 1313.2,909.5 117,913.4 1324.1,909.1 1326.5,908.4 1345.1,909.4 1303.2,912.5 1268.3,913.8 1246.8,913.8 207.4,914 157.9,907 1340.4,915.1 211.7,920.6 193.7,908.2 447.8,898.2 1306.8,915 192.8,904 1285.8,910.9 146.1,909.4 818.6,915.2 176.1,909.5 1305.9,905.1 1309.3,915.7 163.3,909.1 109,907.6 1287.3,913.5 116.2,907.5 1319.9,911.3 156.2,908.8 1247.8,907.1 1298,910.2 219.3,911.1 1323.6,913.7 1290.9,912 101,908.2 1273.8,906.2 1315,912.8 1306.4,910.7 160.6,907.6 240,907.2 92.6,909.1 131.3,909.8 803.5,955.1 1278.6,905.6 95.6,910.3 216.9,902.3 134.1,915.4 1255.2,906.4 1299,912.3 188.4,909.1 186.4,911.7 117.9,915.3 122.3,913.8 1318.4,916.3 241.7,912.8 157.3,911.9 186,908.6 246.7,907 1312.8,916.6 1254.6,898.1 121.3,905.8 148.1,912.9 238.7,918.4 1250.6,919.8 1240,913.8 158.1,910.9 221.8,905.8 229.4,919.4 114.1,913.3 179.5,912.2 246.5,905.8 233.7,915.3 196.1,909.9 173.7,916.5 210.4,913.8 176.2,904.7 217.1,910 160.8,903 1284.8,912.2 1296.4,914 188.9,903.9 199.2,914.4 96.4,909.7 1319.4,907.5 1294.9,905.5 208.3,910 1275.8,905 197.4,907.7 1242.8,914.9 225.5,901.5 1316.9,908.7 1271.5,908.6 228.4,913.1 198.1,911.3 208.9,908.5 185.5,918 1340.6,910.5 1325.3,906.5 1262.7,915.8 1298.8,907 131.7,904.1 1248.4,918 175.6,905.8 1343.5,909.5 156.5,915.7 197.7,910 211.1,914.2 100,909.4 1335.7,912.8 112.4,907 1298.9,919.8 1263.1,911.6 1320.6,909.2 146.1,909.9 1263.9,919 1250.7,907.9 192.2,911.7 183.6,907 174.9,911.2 119.5,913.6 238.7,906.9 84.8,913.2 248.6,909.5 192.8,915.3 1270.2,911.7 1246.3,903 1300.9,917 163.5,909.1 109,912.4 94.6,913.9 130.2,914.3 1293.4,908 201.9,918.5 1280.9,899.6 1241.3,907.8 1298.8,911.4 202.9,902.7 177.2,915.6 158.2,910.6 122.2,908.7 146.2,908.2 194.8,914.5 222,910.9 241.2,912.7 1295.3,909.9 89.5,910.5 1270.3,912.4 132.9,904.7 160.5,906.7 104.9,916.1 241.6,908.9 190.1,910.9 1257.5,906 1333.8,910.9 214.7,914.3 91.2,912.4 150.7,904.9 97.6,912.7 1262.5,904.3 1310.5,912.6 237.6,910.1 1345.3,909.2 185.1,920.4 1346.2,908.3 1338.2,900 92.1,906.6 106.9,907.7 132.1,912.6 180.4,906.9 211.2,908.8 1298.7,902 1339.2,904.4 1295.1,910.9 1249.7,901 1282.6,915.8 1347.4,906.4 1320.1,913.6 1286.9,912.1 244.6,906.2 1335.7,910.6 172.2,909.8 1260.4,906 88.5,910 187.4,906.7 1290.8,910.4 1251,914.5 167.3,910.8 224,908.2 174,910.6 118,912.4 87.8,905.1 110.9,913.9 232.7,912.7 215.3,900.7 234.5,904.5 150.4,906.6 1319.1,915.9 1260,912.2 250.6,912.5 167.5,907.7 1274.8,912.2 117.5,914 108.7,910.1 174.6,906.5 248.4,912.1 104.1,909.9 95.1,909.6 103.7,911 1257.7,904.8 1264.3,907.7 1291.5,906.5 84.5,914.3 238.8,907.3 1252.5,917.3 1035.4,906.7 162.3,909 236.7,900.1 247.4,921.1 157.4,911.5 1248.1,910.6 150.1,912.8 197.6,907 183.6,908.4 155.4,911.1 247.3,913.7 250.9,918.1 202,908.4 198,914.6 208,914 1264.4,908.4 1269.4,916.3 1347.3,906.4 86.5,914 201.9,913.2 145.2,908.2 83.4,911.4 171.9,911.5 1263.8,915.3 1324,912.4 135,912.7 141.2,908.8 209.4,907 1137.1,910.5 1256.9,912.2 1301.7,915.7 134.5,911.5 1346.8,907.9 185.9,901.3 201.5,911.3 205.6,910.7 148.1,910.7 1324,907 776.8,984.5 90.2,909.1 1277,903.6 1293.1,905 95.5,914.3 218.9,911.4 153.1,909.8 214,906.5 1270.2,914.6 1294.1,908.9 223.2,910.3 239.6,915.8 152,909.9 131.1,907.3 194.8,906 1318.7,918.2 220.6,911.6 109.7,911.7 1288.2,905.7 1302.2,908.2 1272,907.9 226.4,909.3 1282.2,913.6 155.1,912.4 1320.9,912.7 1281.6,916 90.4,908.8 122.4,915.7 243.8,916.5 118.3,908.3 237.8,910.5 177.8,915.5 1260.3,912.8 121.1,910.8 129.5,912.9 106,910.4 244.1,909.2 179.3,912.3 1264.7,906.2 173.8,899.8 225.2,911.3 128.7,914.7 1262.2,910.2 609.2,884.5 121.5,909.7 1257.2,908.4 177.5,916.6 126.2,909.9 1240.1,906.5 1298.1,900.9 138.2,908.2 172.7,915.8 201.7,909.9 1264.1,911.9 1261.1,907.6 244.8,909.2 1270.4,908.3 1271.1,909.3 1333.4,911.6 231.6,910.9 238,910.7 200.6,909.1 1265.7,918.1 1259.5,904.9 242,912 153.1,912.5 202.8,913.5 1301.4,909.7 204.3,913.9 1293.4,913.4 1266.8,909.5 1294.7,902.3 163.7,910.8 136.8,911.2 1273.4,915.6 1316.9,910 1292.9,905.5 1240.5,916.3 93.7,909.8 1279.9,916.2 1334.7,915.3 1243.1,903.7 1319.6,910.6 1325.9,901.4 1332.2,911.5 1277,905.4 1272.4,901.8 1347,915.4 1317.1,908.7 164.5,913.7 84.3,914.8 236.2,913.7 121.5,912.4 1303.6,910 166.2,913.8 223.3,909.5 1276.7,912.6 196.1,912.5 1341.9,911.4 1314.5,912.3 185.4,910 1271.3,917.4 187.1,910.6 151.4,913.3 1277.3,911.3 1327.8,913.5 216.9,912 212.8,916.1 102.4,914.1 87.4,905.7 189.3,912.2 171.9,910.7 1101.8,903.9 118.7,913.1 249.5,911.6 168.6,906.6 190.2,908 1283.2,910.8 167.8,900.7 953.1,894.3 1279.2,912.6 118.7,907.3 1243.1,914.4 185.2,904.6 144.4,910.8 1344.8,904.7 97.4,913.3 236,907.1 249.2,911.8 162.2,913.4 1326.9,913.7 161.6,911.9 117.3,913.6 1265.8,907.8 1327.2,913.4 1272.5,918.8 1305.5,910.9 230.3,913.1 106.4,910.7 113.3,911.5 1319,911.6 1275.8,911.3 1278.4,909.3 1313.7,915.9 155.1,909.6 1307.9,914 143.7,910.8 1294.4,908.9 193.5,910.8 1316.7,911.9 123.7,910.2 112.3,910.9 160.8,908.1 94.5,913.7 184.7,914.3 142.7,910 193.4,911.8 1246.3,916.3 1251.4,904.7 231.3,907.7 161.5,912.5 91.3,912 251,916.9 124.4,906.3 1274.3,913.9 97,907.7 86.7,907.4 93,910.7 1256.6,908.1 1309.3,912.6 235.6,904.8 1319.3,911.4 95.3,908.9 100.1,910.2 1321.5,908.1 138.1,912 120,909.8 1257.1,908.7 1342.5,912.7 169.5,911.5 196,909.4 125.9,905.1 1264.4,904.8 1260.1,908.6 109.9,911.6 163.9,914.5 1256.5,916.2 266.1,906.6 187.5,912.5 84.2,904.5 1256,912.5 149.7,919.1 1337.5,911.3 1306,913 139.1,908.3 1258.5,905.2 136.1,900.2 124.9,916.9 214.4,906.1 1227.5,911.9 1330.8,911.4 172.6,911.4 111.3,910.5 91.1,908.6 1301.4,912.1 1276.3,905.1 1254.9,908.9 1266.6,905.9 237.8,915.6 639.2,894.9 248.3,916.7 150.1,908.7 237.2,914.5 139.9,906.7 1333.3,912.6 1277.8,910.2 179.3,902.2 117.2,908.5 234.9,916.5 188.4,911.7 217,911.3 159.6,906.1 114.1,905.8 1320.4,916.5 184.7,906.8 1324.9,910.9 93.2,907.8 1344.3,908.9 120.3,915.2 215.8,907.8 130.9,909.2 124.6,910.8 95.8,911.6 83.2,913.1 1338.3,906.7 234.2,914.5 234.8,912.8 1244.9,909.7 1275.5,910.3 211.5,915 1277.7,909.5 1314.1,905.3 1303.9,912.9 151.5,909.3 1301.3,907.2 1292.7,918.4 212.1,912.3 1285,912.6 181,909.5 1332,905.8 87.5,916.1 230.3,906.9 1261.9,916 109.1,907.7 211.5,910.3 167.2,909.5 1341,910.9 86.3,907.1 137,910.7 749.6,1000 1332.6,918.5 90.4,912.1 1347.4,906.4 1306.7,911.5 90.2,910 232.1,921.9 199.8,916 181.4,907.9 193.7,912.7 113.8,907.5 1338,917.4 86,913.7 230.6,906 150.4,907.5 1250,905.5 1345.6,904.3 246.7,912 1256,915.6 1296.6,903.3 1315.7,911.1 1299.7,907.6 176.6,912.6 134.9,916 140.1,906 147.1,913.8 124.1,914 83.5,914.5 113.9,905.7 1280.7,910.9 1278.6,907 216.4,911.1 1251.5,908 1301.1,904.3 95.9,906 1245.6,913.7 1265.3,911.2 179.8,917.5 1255.8,916.6 165.5,913.5 208.5,919 229.2,914.5 127.2,909.3 152.7,913.2 218.2,908.4 167.7,910.5 198.6,913.1 240.3,908.7 210,910.9 101.5,909.4 155.4,909.4 1320,917.1 92.7,906.7 1321.3,905.4 1320.1,898.3 91.3,909.6 1319.6,916.1 225.2,908.7 169.3,909 84.1,916.5 788.6,966.8 222.5,917.6 101.5,907.3 1295.6,917.8 148.8,908.2 244.7,916.9 214.2,905.8 109.3,908.1 1341.1,909.2 1324.5,910.3 1244,910 1308.8,905.9 1281.5,906.1 1315.1,907.1 166.7,912.1 153,912.4 1268.6,913 157.4,908 91.6,914.3 209.1,907.6 226.1,909.3 1320.7,912.5 248.6,912.5 1279,911.1 1309.7,913.2 125.1,912.9 228.4,913.8 112.4,916.6 239.7,903.2 158.8,915.2 1242.2,906.4 1339.4,912.3 1293,906.8 1263.6,913.4 1304.9,905.9 239.8,920.2 129.4,913 1305.5,908.3 1345.8,910 1322.4,913.7 1326.4,915.1 174.3,916 147.4,906.8 1284.9,920.8 188,915.1 98,912.9 215,912.8 86.6,909.9 727.7,978.3 95.1,908.6 96.8,911.1 240.5,904.4 1328.9,916.9 149.8,908.1 199,910.2 1319.1,911 142.9,917.6 98.4,913.8 1286,918.2 236.2,912.2 197.8,914.6 194.2,906.8 193.3,907.8 1252.7,914 247.4,910.6 1319.8,913.3 1258.3,914.4 119.1,911.4 348.8,906 1321,909.2 124.8,909 176.9,911.7 171.5,914.2 1285.3,909.8 1281,908.9 188.9,911.8 188.5,910.5 190.8,910.5 94.5,910.7 1251.7,919.5 106,917.3 1254.6,902.8 103.7,906.1 1336.9,904.8 166.5,910.7 206.5,911.2 198,907.3 142.2,907.8 191.6,911.2 1242.6,917 83.6,908.9 239,905.5 1259.9,911.4 1333.2,904 234.4,900.8 155.5,906.3 145.8,905.6 94.9,910.5 128.3,911.4 1323.8,908 1339,913.5 227.2,909.7 153.1,906.6 1280.9,914.5 1259.1,912 151.7,910 1318,910.7 208.4,911.5 89.1,908.2 1324.5,906.5 166,910.9 226.2,908.2 133.3,908.4 207.3,911.9 1346.9,909.4 1265.1,912.2 150.5,922.3 1302.8,910.4 1281.1,911.8 99.2,905.4 1323,910.4 174.6,909.8 181.3,910.3 114.8,904.8 201.7,903.7 639.6,885.3 184.6,913.3 1331.1,910 230.1,908.5 1331.9,911.2 113.8,911.9 1270.5,910.9 83.9,914.5 110.3,913.1 153.3,909.1 1305.6,901.8 1279,910.9 1261.6,905.9 185.9,910.2 181.3,907.6 142.9,912.7 1270.4,912.9 1287.7,913.3 1244.6,907.6 250.4,908.6 1258.8,913.8 1299.3,900.4 229.5,910 221.6,917.6 1248,910.5 156.1,908.4 216.7,904.8 159.5,913.8 167.8,910.5 205.8,898.6 165.1,908.7 1253.7,908.4 152.7,911.4 198.1,912.3 144.1,910.4 104.2,908.8 105.9,916.4 162,920 1304.5,899.2 183.8,913.7 798.1,942.6 83.4,917.3 159.8,908.1 1319.9,901.9 155.7,907.1 1256,912.9 221.7,916.3 1242.9,916.7 225.5,912.6 1255.8,904.2 165.5,909.4 1242,915.6 1342.6,913.5 121.6,912.8 168.9,909.1 1306.8,914.5 808.8,910.9 163,916 1269.1,904.9 155.9,906.1 116.6,912.5 204.2,903.4 153.3,915.6 1306,917.2 1317,909.9 1328.3,910.9 203,907.4 179.4,907.1 1328.1,917.3 215.2,908.2 131.7,914.9 89.3,908.3 217.7,904 197.5,910.1 153.3,915.1 1276.6,904.2 182.9,903.7 143.4,913.6 124.3,907.9 218.5,911.8 1282.9,917 1254.5,907.7 1322.9,909.9 182.2,906.1 159,911.2 1346.1,910.1 210.3,902.3 125.3,911.2 220.7,912.2 153.5,902.9 1332.4,909.6 115.1,915.3 399.4,893.7 156.2,909.8 174.2,906.2 113.9,911.6 172.7,902.7 1086.2,914 1267.2,912.3 181.9,916.6 221.3,909.2 88.5,908.9 247.1,906.5 195.2,909 138.8,909.5 192.5,912.9 222,907.4 199.4,907.8 1245.2,903.5 121.3,915.2 1272.7,913 176.1,907.2 1298.7,908.9 1336.9,913.8 196.9,911.5 105,910.8 179.1,906.8 1297.7,911.7 169.4,911.7 167.5,910.5 211.3,916.3 1260.8,908.9 1285.2,909.1 1326.5,903.8 1344.6,913.8 205.7,912.6 206.2,908.5 220.4,909.7 221,903 103.1,911.8 1324.4,904.7 248.8,910.4 83.2,914.2 1288.1,921.3 1311,912.4 1318.5,913.2 102,907.2 1342.3,914.3 1272.8,919.4 200.3,915.6 234.1,909 1329.9,910.1 1245.5,906.2 144.2,905.1 1319.8,910.6 205.6,915.5 149.1,917.8 96.7,911.5 131.6,899.2 1250.8,911.8 772.4,985.5 190.4,909.7 95.5,917.1 127.5,911.2 155.5,916 1344.1,909.6 233.2,905.5 154.8,909.5 1257.9,910.4 1260.1,907.6 113.3,907.2 1308.8,910.9 187.1,920.5 131.3,909.6 1337.6,906.4 97.8,910.1 1312.9,909.7 1333.5,908.3 1243.1,913.8 138.5,912.1 140.7,910.3 98.4,918.5 181.6,907.2 229.2,912.1 1274,915.3 85.4,915.4 210.7,908.4 244.4,916.9 211.8,910.3 1340.1,905.2 238.4,915.1 157.1,914 1327.2,912.3 113,906.9 249.3,905.7 134.6,909.7 209.2,913.9 1248.2,911.6 1342.8,910.1 1255.1,906 236,901.8 229.9,911 127.2,914.1 178.2,911.7 1322,911.7 1241.3,912.9 1319.5,911.1 1312.1,912.3 119.7,909.4 110.6,910.1 1299.6,905.7 1303.7,911.3 221.3,909.7 1298.8,911.6 138.5,916.7 1287.1,911 230.6,916 1288,904 555.8,881 143.4,909.2 188.7,915.5 135.8,906.9 183.4,899.6 142.8,910.2 188.5,910.5 1263.8,911.5 165.3,908 1241.7,901.7 1347.2,905.7 127,915.4 226.1,911.9 99.6,908.9 208.5,907.9 1332.9,909.6 109.8,913.1 191.8,917.3 1264.4,905.8 223.5,912.6 238.3,917.9 132.6,906.9 1331.7,915 87.5,912 1244.8,903 117.7,913.1 238.2,899.7 106.7,911.8 1311.4,910.1 89.1,913.6 1324.4,913.9 216.1,909.1 164.4,909.4 1264,907.6 136.9,909.6 1276.5,909.4 1343.2,916.6 1345.6,903.9 213.7,912.9 1325.5,922 1336.1,904.3 333.3,902.6 1343.6,904.4 98.1,915.2 1342,920.7 127.5,910.6 195.4,907.2 231.1,903.6 166.9,911.5 1253.2,907.4 170.4,909.9 1266,915.7 1301.1,914.2 1327.1,912.1 1257.9,913.2 109.9,912.1 130.4,907.4 235.2,916.2 222.1,905.5 198.6,906.2 151.3,910.9 246.8,911.7 164.8,910.6 146.9,908.3 1329.6,912.8 1278.7,914.5 1278.4,914.2 220.4,907.5 1295,910.7 1265.7,908 1300.2,911.2 129.4,910.8 107.1,909.8 1345,907.8 1250.9,903.6 173.5,904.1 1254.4,914.3 1298.1,905.9 1328.7,902 1334.6,914.5 1305,912.6 130.4,914.2 247.7,907.4 139.9,907.4 173,914.5 198.2,907 129.5,911 185.4,910.1 182.6,905.7 155,906.8 1294.3,907 170.4,906.5 1270.5,911.7 184,909.3 1277.2,912.8 98.4,906.5 1315.2,912 249.5,909.7 1328.8,915.2 151.5,906.7 169,905 1320.1,915 181.7,910.8 1314.6,910.7 130.5,906.7 1294.2,908.5 1258.2,914 236.6,906.9 188.7,914 1329.2,905.5 212.9,912.6 204.2,910 139.4,916.2 1323.4,908.8 1258.6,903.3 1329.2,911.3 1257.4,905.6 110.9,906.8 1346.6,913.8 169.8,908.8 1261.6,908.1 150.3,911.6 174.6,905.9 1305,905.5 1311,914 1256.3,906.5 1322.4,916.2 203.8,911.9 224.1,913.6 1308.3,913.9"/>
<polyline fill="none" stroke="none" marker-start="url(#mt)" marker-mid="url(#mt)" marker-end="url(#mt)" points="960.8,893.2 894.5,890.4 909.5,890.2 1162.6,909.1 338.4,915.4 358.9,906.1 989.5,893.8 678.5,926.8 608.3,884.5 524.8,909.1 658.2,888.5 464.4,910.9 575.3,892.2 766.5,1038.5 947.7,900.5 873.3,888.3 1022.5,916.1 910.6,889.7 768.7,1087.6 1159.9,913 1130.8,905.7 403.6,911.1 873.3,890.3 1050,903.8 1154.4,912.4 885.9,869.7 1169.9,906.2 712.6,1000.7 378.3,907.4 285.6,910.2 712.9,1045.4 1025.9,908.7 651.5,891.2 944.8,905.7 682.5,933.7 1128.9,912.1 1005.1,894 1070.6,892.5 567.9,886 659,889 502.2,903.1 587.3,890.3 474,897.7 1072.9,898.3 293.6,908.5 834,896.4 521.7,888.1 389.7,910.2 579.7,894.1 814.7,947.5 738.5,1060.6 1099.5,917.8 720.2,1036.5 991.8,893.2 673.5,934.8 347.3,908.1 425.1,904.7 1073.2,912.6 483.9,904.2 1026.9,903.3 750.2,1061.4 984.7,908.5 452.5,882.6 632.6,883.2 985.9,895.3 648.5,886.8 933.5,880.5 925.8,896.6 284.2,914.5 265.2,918.9 927.4,898.4 1188.2,911 1031.3,912.8 438.7,904.7 1153.9,906.1 1065.6,898 966.5,881.2 933.6,894.4 463.7,907.1 812.9,951 1131.9,908.8 643.1,885.4 398.3,890.7 885.6,890.8 697.2,974.6 794.1,1012.3 449.8,906.7 1036.1,908.3 268.2,907.7 930,891.9 359.6,908.7 937.4,897.2 718.1,1049.6 1126.5,919.6 799.6,956.4 1230.5,919 653.4,912 1055.4,904.1 1123.3,903.6 1130.2,911.7 1189.1,916.1 473.9,902 285.6,908 693.9,948.5 323,920 350.2,910.1 815.8,952.2 287.3,906.8 692.7,975.9 960.8,896.9 1201.7,916.6 1037.4,912.7 1034.1,909.4 998.9,902.3 265.5,901.7 1018.7,904.8 880,886.1 871.9,886.4 528.5,898.4 1044,894.2 524,900.3 451.7,900.1 310.1,914.2 752.2,1077.5 676.6,928.8 1011,916 612.8,885 852.4,859.1 310.3,902.9 897,885.3 929.9,876.3 514.7,905 289,915.2 560.8,884.4 783.6,1056.1 429,889.5 1169.6,907.6 1076.7,909.1 547.6,896.7 811.4,945.3 706.1,1000.7 277.5,910.5 1086.6,907.5 1185.3,909.2 1014.7,901 433.8,907.4 639.9,889.5 890.6,885.7 437.9,906.6 945.6,883.6 674.7,932.9 568.5,863.4 967.1,900.5 427.4,909.5 501.5,909.3 575.5,889.6 510.8,901 1100.6,903 349.1,901.2 903.8,891 1166.1,909.4 1027.6,913.7 834.8,889.1 299.5,921.4 1130.5,907 369.8,912.7 343.6,917.7 532.5,890 780.2,1015.9 1225.4,916.6 309.1,915.5 1145.9,913.9 615.5,881 887.7,886.4 362.9,909 726,1030.4 1021.6,907 1134.4,911.8 674,943.1 560.9,889.8 1014.3,898.4 975.8,902.5 583.9,893.1 962,887.3 402.4,916.9 468,911.7 1163.3,912.3 813.2,933.6 1108.4,909.2 1019.3,894.1 1070.5,903.4 1224.2,907.2 636.1,874.4 315.4,907.7 835.1,904.2 437.4,911.2 447.5,909.9 753.9,1082.9 698.9,1000.2 401.5,911.1 667.7,915.1 320.8,908.4 1026.5,907.1 1175.6,903.8 958.7,890.6 1214.4,904.4 1201.8,910.6 828.4,898.9 1033.6,900.5 263.8,916.6 1025.3,899.7 479,900.7 269.9,909.9 832.3,889.6 975,907.4 300.9,903.8 438,893.4 382.1,913.4 975.8,902 671.4,911.1 929.1,898.3 791.8,994.5 377.4,914.2 1104.5,910.6 807.6,946.6 572,901.2 403.8,908.4 988,901.3 469,903.1 1037.3,893.9 1027.9,906.7 606,890.4 1148,913.7 961.1,890.6 934.6,891.3 772.4,1042.9 802.8,968.8 1133.1,900.6 394.2,901.4 1210.3,902.8 853.8,882.8 684.8,945.3 762.7,1026.5 772.2,1004.4 1036.5,903.7 439.6,902.9 547.2,904.9 792.6,982.5 879.1,879.1 1127.5,914.8 381.8,905.7 407.7,896.3 842.3,888.7 721.4,1040.3 946.7,906.2 256.6,908.7 972.4,905.3 307.8,917.1 770.1,1040.1 1211.4,913.7 1059.2,903.1 737.7,1048.3 709.6,994.6 934,882.1 387.9,901.1 416.1,914.9 828.1,909.9 921.5,886.4 759.6,1016.3 971.5,906.7 619.4,885.3 875.1,873.1 1137.1,911.8 765.8,1056.4 1203,898.5 684.6,952.3 1119.8,916.4 903.7,872.7 884.1,891.8 703.9,1005.6 1082.5,901 884.7,889.7 1175.2,907.5 1156,910.9 927.4,886.4 540.6,896.8 868.9,884.9 429.5,911.1 1128.8,922.1 371.9,916.5 1208.7,902.1 388.9,904.2 536.7,911.4 687.3,978 718.3,1039.1 565.7,884.4 538.1,903.2 939.5,895.3 850.8,881.1 859.6,890.1 579.3,887.4 872.8,879.6 873.6,894.8 1112.6,915.3 689.8,953.9 1104.3,905.1 357.8,905.8 469.1,903 630,892.1 408.7,905.1 469,908.9 524.1,913.6 1043,913.6 678.6,936 373.7,912.7 1172.8,913.3 975.1,880.5 944.2,894.7 492,887.6 343.8,908.6 646.3,868.2 1032.2,904.3 1235,908.9 707.6,1016.2 1066.6,895.6 833.5,879.7 658.2,906.7 1072.8,912.9 328.5,906.5 394.1,904.9 819.6,911.1 403.7,915.1 796.8,989.3 955.1,896.7 552.1,896.1 582.2,891.5 849.9,882 445.9,902.6 500.8,898.6 313.2,910.9 984.7,904.8 681,933 1052.7,904.9 749.2,1055.4 1118.1,912.9 909.2,884.3 679.3,947.4 875,887.3 930.7,898.6 302.3,908.2 661.7,900.1 277.6,912.7 1026,905.1 751.4,1037.9 1138.9,910.4 553.2,905.7 1178.2,910.9 500.3,904.4 372.9,909.1 687,951.9 431.6,911.8 981.7,901.7 1110.9,901.8 1097.2,902.7 1120.7,912.3 358.7,910.3 1189.7,915.8 1230.4,907.2 733.3,1013.7 433,910.3 804.8,947 312.6,915.3 384.3,910.1 692.5,979.8 354.8,921.3 594.7,884.8 1228,902.6 609.6,890.4 1170.4,910.9 582.8,893.6 301.1,902 518.9,888.9 1171.5,917.9 842.4,887.6 530,901.7 352.5,909.4 904.4,892.3 588.2,898.9 1116.3,900.8 292,908 1049.7,914.6 1078.3,904.1 767.3,1064.6 951.2,892.7 346.4,908 751.3,1055.4 861.2,879.3 560.9,872.2 774.8,1025.2 607.6,884.9 472.2,894.5 640,861.2 1203.2,909.4 264.1,906.9 636.4,887.1 953.7,899.2 456,895.1 1214.2,907.9 479.2,897.9 647.1,884.4 885.1,889.5 891.6,884.7 1069.5,907.7 351.8,910.8 1164.5,904.4 1134.5,899.5 573.9,892.7 299.2,914.5 904.7,888.6 770.5,1035.4 739.3,1088.6 518.2,902.4 524,908.6 1168.4,901.5 1063.8,908.5 262.4,923 802.4,961.6 1206.6,915.7 1171.7,913.1 978.7,900.7 988.6,886.2 708.6,975.5 1168.9,914.5 1204,904.5 763.1,1061.1 372.3,910.4 1109.2,908.5 400.8,906.5 607.9,885.1 1028.1,902.3 484.2,905.4 428.9,897.8 494.6,900.1 1155.5,904.7 566.1,894.4 485.6,897.7 918.5,898.9 485.6,892.8 831.4,892.7 982,893.3 821.3,910 675.3,921.4 630.5,891.8 914.8,887.7 564.5,888 473.5,905.2 445.6,889.4 1183.1,919.2 470.4,906.1 1133.5,913 1051.6,904.9 1185.8,902.5 507.2,901 681.7,939.8 891.2,890.4 474.8,897.3 671,927.3 575.6,894.7 1142.9,913.8 789.7,973.3 1026.2,903.3 976.9,900.8 912,890 1190.1,913.4 695.8,987 315.7,902.7 337,916.9 463.8,902.3 468.2,896.8 601.3,878.3 607.7,887.6 632.9,889.3 1146.4,911.3 1237.3,915.6 654.5,891.1 539.4,895.2 407.7,902.2 921.9,889.4 1165.6,914.3 732.2,1061.7 1097.4,906.7 451.4,904.2 865.3,895.8 635.4,897.8 537.1,901.3 706.7,997.9 467.4,895.2 741.3,1048.8 517.9,904 352,910.8 307.7,909.8 400.1,910.6 1073.4,895.5 627.8,884.7 393.6,907.6 1039.7,889.6 866.9,894.3 826,915.6 923.6,891 528.9,891 1087.2,904.5 1231.5,920.1 428.6,903.3 307.8,921.7 919.4,896.3 1212.6,907.8 272.2,906.9 1218.3,911.8 394,907.4 817.8,937.9 503.2,901.6 960.6,901.8 1053.7,910.3 323.7,914.4 487.1,908.2 493.2,900.5 1152,904.4 558.4,888.8 1000.4,901.9 362.2,906.7 454.2,899.5 949.6,893.3 365.3,911.8 409.2,910 1055.3,900 453,905.3 514,903.2 937.9,893 298.5,906.3 1080,890 366.4,905.9 515.5,890 539.5,889.5 937.4,892.6 946.2,898.4 785.9,993.4 465.9,909.8 312.4,905.7 474.1,895.1 449.5,902.3 928.6,884.9 885.6,892.3 636.4,881 1149.4,906.7 802.4,965 1164.8,909.9 1083.9,914 307.6,914.1 690.2,968.9 546.2,902.6 847.6,882.3 801.5,965.9 278.2,905.3 676.6,926.6 1197.2,909.2 1098,906.5 623.5,885.1 1079.3,905.5 913.5,895.8 705.4,991.6 651.9,892.2 854.9,894.6 1022.2,904.7 925.9,893.4 370.1,907 773,1028.9 517,894.8 263.5,904.9 536.1,893.5 1079.5,918.6 654.3,876.2 295.2,902.4 1163.2,909.4 518.9,903.3 334.5,912.1 902.8,887.7 894,897.7 852.2,879.7 454.7,901.9 269.8,907.5 782.1,1042.2 967.2,910.9 405.5,907.8 1040,909.1 859.9,870.1 579.4,891.6 765,1024.6 375.9,912 423.5,908.6 777.6,1036.4 253.7,906.9 756.9,1060.8 1071.3,900.3 550.3,883.9 332.1,910.4 431,901.8 456.2,906.2 1193.7,907 490.1,895.7 934.9,888.6 638.2,883.5 287.1,909.4 1052.8,917.9 511.5,899.6 379.2,905.3 1207.1,909.3 1117.8,900.3 653.5,896.6 312.5,923.7 559.2,897.2 1029.9,903.5 526.9,871.2 373.2,897.7 343.8,902.8 509.1,900.7 985.8,887.9 498.7,892.6 783.5,1016.7 990.7,898.2 723.4,1081.2 1063.2,904 489,904.2 1036.2,907.9 594.8,867.1 809.9,955.9 760.6,1035.2 289.5,889.5 897,893.3 371.3,903.8 320.7,911.4 513.3,905.1 1105.1,905.6 286.9,903.2 858.1,889.8 867.3,885.9 410.6,904.2 1051.6,913.7 894.9,892.1 279,905.4 1040.1,910 1014.8,896.1 272.2,905.5 885.4,888.9 526,890.9 1146.1,900.3 971.5,887.4 1021.7,887.7 827.3,908.4 1071.9,914 1170.4,900.1 747,1096 987,903 846.9,895.8 967.2,895.2 1127.7,906.8 336.2,905.9 909.6,890 625,859.8 888.3,888.3 817.4,937.9 572.5,882.3 878.3,880.5 715.7,1045.9 593,886.2 1085.8,901 324.5,913.8 674,933.3 407.3,922.3 971.9,892.3 851.8,870.1 982.8,904.1 737.6,1083.6 943.3,893.2 630.9,885.6 437.9,908.9 820.8,913.8 784.1,991.8 617.3,888.9 874,894.3 801,966.1 1008.4,891.7 397.4,910.3 668.3,918.6 1020.9,896.3 259.8,919.3 603.9,880.5 338.7,909.9 924.4,898.5 377,919.2 1007,906.3 358.5,910.7 1227.9,907.6 362.5,898.9 1045,896.2 1231,909.7 926.4,891.4 598,860.7 820.3,913.2 726.5,1063.4 1062.4,900.1 1205.8,916.2 1144.4,916.6 951.4,890.6 1142.5,902 1173.6,912 274.2,917.8 364.9,909.7 503,908.6 419,904.4 340.2,903.9 331.8,912.8 541.1,897 1056.5,900.3 256.1,914.2 587.5,889.1 921.2,887.2 718.7,1021.4 958.2,885.3 644.1,880.3 298.7,920.3 1229,918.9 795.7,1004.6 1089.9,918.3 820.9,921.4 442.5,897.8 642.3,878.2 857.3,879.9 508.3,895.9 408.6,907.6 1114.7,914.7 592.2,890.6 698.1,1011.1 977.3,900.7 404,909.5 452.7,897.1 329.7,910.2 477.5,907.8 1211,912.6 490.1,891.1 1114,913.7 427.6,893.5 706.8,1015 615.8,896.5 966.1,897.7 1238.7,911.5 380.7,918.1 392.7,905.2 732.4,1030.3 805.7,993.9 282.7,918.1 711.3,1024.3 390.6,912.4 254,912.5 1042.7,905.7 1031.5,900.1 795.3,1005.9 419.4,910 477.8,894.7 326.1,912.3 694.5,954.2 851.1,880.9 903.1,883.3 667,897.8 1043.7,915.6 886,886 1079.3,903.4 298.9,914.6 821.2,939.9 311.9,907.9 1192.6,912.9 437,907.4 1033.2,900.4 272,911.6 301,903.3 414.6,915.1 1167.1,912.9 666.7,889.9 340.6,914.2 428.8,904.6 1034.9,915.7 731.4,1032.2 950.3,902 601.4,898 1213.7,909.2 414.7,917.9 407.9,909.8 624,887.9 515.5,910.3 583.6,887.3 952.6,892.9 644.7,871.7 891.6,889.3 408.6,906.3 677.7,918 369.1,901.9 609,883.3 652.1,878.1 1024.2,898.5 725,1055 877,883.2 463.9,903.8 502.2,899.4 501.3,901.2 1194.4,909.1 402.4,902.3 690.7,973.2 392.6,899.7 986.2,906.2 593.4,879.4 916.7,898.2 898.8,884.7 629,880.9 362.7,909 842.3,879.3 287.4,894.3 1010.9,909.8 869.1,881.8 1040.7,905.6 1221.8,909.3 1131.7,911.8 903.1,890.7 568.5,890.5 934,899.7 471,903.5 491.7,904.5 721.3,1052.1 307.5,913.2 1061.2,896.8 893.5,894.1 584,896.8 276.5,901.9 554.3,883.7 617.6,874.3 730.6,1039.7 1202.6,913.7 517.2,885.5 1237.2,908.3 1037.6,895.1 716.5,1012.1 1014,903.1 625.5,875.5 1071.1,908.6 339.8,908.2 989.3,889.9 756.4,1111.3 563.3,879.9 1046.8,902.9 989.1,889.7 294.6,917.3 716.1,997.4 1172.8,898.3 793.9,971.4 867.6,879 496.9,888.1 1000.7,894.5 529.3,905.6 635,870.7 260.7,910 1132.5,903.5 618.9,895.9 799.7,953.7 535.1,901.3 377.6,893.3 464,912.2 822,897.2 700.5,998.3 613.5,864.1 1076.4,913 1058.6,909.4 661,906.8 893.9,893.8 1131.3,914.9 552.5,895 713.9,992.6 1039.5,903.1 274.8,914.5 338.6,906.8 446,906.1 456.5,898.4 627.7,862.3 1194.1,909.7 822.2,917.9 1049.9,901.2 823.4,903.2 774.3,1070.9 1133.2,907.7 801.8,965.9 834.5,902.5 612.4,881.4 253.7,909.9 489.3,907.8 668.7,922.8 1132.2,914.9 424.5,908.5 337,916.5 397.7,913.4 920.7,896.8 1044.8,907 602,899.2 764.6,1040.9 395.6,917.7 1200.4,918.5 848.8,872.8 903,879.7 290.8,907.2 744,1030.2 916.5,885.3 630.2,885.5 404.6,910.8 533,900.2 550.8,888 647,881.7 899.5,878.7 952.7,900.2 287.7,913.3 412,913.9 494.6,901.6 561.1,895.9 536.9,892.4 1044.7,894.9 402.3,905.5 539,899.7 824.9,920.9 526.1,901.9 1133,909.6 965.2,896.9 667.3,917.7 495.6,901.5 841.7,878 1079.3,912.5 848,859.5 1166.7,908.9 696.8,991.1 1081.9,898.6 576.7,895.3 508.8,898.7 817.3,912.6 1046.7,907.8 377.4,914.9 1202.6,919.7 1156.7,907.2 813.8,946.9 982,903.1 438.3,899.4 983.2,898.7 859.6,863.5 269.6,916 1126.1,903.3 724.4,1029.8 1071.1,911.3 260.8,908 886.5,874.2 670.6,900.5 1147.8,914.5 996.2,902.7 876.2,873.9 1106.5,906.9 978.5,891.4 670.2,903.4 415.8,906.3 1208.1,903.7 310.4,919.1 964.1,904.9 463.3,910.2 1132.7,901.9 566.4,897.5 868,892 822,912.7 256.4,913.3 945.6,886.6 991.2,891.4 254.7,909.1 552.1,892.1 1169.1,909.8 579.7,909.1 749.4,1089.7 1124.8,907.4 461,904.4 898.5,894 1128.8,909.9 767.4,1033.5 978,908.1 627.8,879.6 647.2,884.5 1128.6,906.2 1131.4,910.8 409.2,905 1055.6,906 347.8,916.4 882.4,891 830.1,890.8 557.9,901 1179.2,908.3 1162.7,903.1 367.2,913.3 438.5,904.4 1232.6,914.2 809.2,961.4 929.8,894.7 1224.2,911.5 291.9,913.2 562.3,888.3 263.7,918.8 322.4,915.2 545.6,887.1 1192.8,907.4 1063,901.5 600.9,886.3 839.7,887.3 988.8,897.1 894.4,888.9 827.5,901.7 1204.5,903 1015.7,909.4 1025.8,900.9 864.8,896.6 357.6,913.7 1081.9,908.6 887.9,898.8 1099.7,925.2 561.7,884.7 1176.4,915.5 1023.6,904.6 435.8,915.1 312.5,904.2 926.1,869.1 577.2,901.8 834.2,909.5 565.2,884 659.1,886.4 947,900.8 380.9,905.4 868.4,889.8 1174.6,915.7 427.1,917 330.6,906.9 1134.7,906.1 660.2,892.6 1036.3,902.1 771.5,1026.4 377.6,901.5 289.1,898.6 430.2,907.3 1063,904.7 1146.2,914.4 306.5,904.7 1074,914.4 470.9,907.5 640.1,885.4 967.8,899.5 807.2,953.5 452.9,905.1 575.4,892.1 1098,919.7 818.2,928 1127.6,916.8 1127.2,906.9 615.2,888 1038.7,913.3 914.2,896 358.4,918.2 1147.6,910.6 957.6,899.5 1020.7,909.4 335.9,913.2 592.5,898.6 1091.4,914.7 394.4,911.1 945.5,858.6 1168.4,911.2 1036.5,892.3 473.8,910.4 314.5,920.5 1023.7,898.6 387.8,896.7 618.8,875.9 502,901.7 989.3,897.2 859.8,876.9 519.5,908.5 883.7,890.8 851.7,884.6 496.4,910.8 600,906 1237.3,911.2 261.9,914.2 1228.8,909.8 646.8,871 744.3,1111.7 726.1,1031.3 284.3,911.8 396.9,900.9 771.4,1077.2 598.2,888.6 1031,899 303.2,905.5 363,912.6 742.4,1063.4 815.6,917.1 865.4,875.1 602.6,887.6 468.3,900.2 727.6,1014.9 955.5,889.5 913.6,893.5 997.9,885.6 458.6,900.9 660.4,900.7 843.8,882.8 680.6,939.4 588.5,893.2 1040.1,914.9 1030.8,891.4 1009.8,904.6 711.7,1023.6 874,883.7 682.3,938.9 326,909.8 548.7,902 653.3,899.2 433.7,906.2 716.1,1049 347.3,909.4 444.1,908.2 490.2,893 368.8,901.9 410.6,902.9 1033.9,907.2 634.8,877.3 1173.6,901.6 791.9,1035 907.6,890 346.6,909.3 614.8,889.4 864.9,890.3 624,893.4 581.3,896 823.7,920.4 817.9,931.3 812.1,940.1 646.3,892.7 356.8,909 1158,894.7 970.8,898.6 561.1,877 547.6,895.8 433.6,915 1227.5,920.2 724.5,1041.1 1225.4,911.3 827,906.8 579.8,874.8 849.5,868.4 769.9,1045.6 318.4,914.3 314.6,918 658,895.7 856,890.1 1223,916.1 559.9,900.9 628.9,886.5 723.6,1043 668.9,905.5 748.5,1083.6 675.1,909.8 864.1,878.5 894.3,891.3 1119.5,923.6 1094.6,916.7 1144.7,912.2 424.1,914.4 399.9,904.7 620.4,884.6 262.1,906.7 649.3,889.4 995.7,909.8 1083.2,909.4 793.2,1016 480.6,906.9 283,908 1037.6,907.1 750,1076 682.2,946.9 566.7,894.6 1121.8,915.5 545,900.1 293,903.4 311.9,919.8 691.9,984.6 1156.2,908.4 603.9,886.2 1157.3,914.3 333.9,910.1 443.7,900.8 333.5,905.2 609.2,880.3 502.9,899.7 1176,903.9 434.3,913.2 465.1,902.1 602.7,892.1 646.3,883.7 715.7,1033.7 311.9,902.1 724,1054.3 1050.4,896.7 887.9,886.7 1160.3,908.4 1146.3,906.4 958.3,891.2 934.8,902.9 395.7,910.4 1058.9,902 762.3,1061.4 855.9,885.2 1160.3,907.1 522.9,897.4 1186.5,915.9 1046.3,905.6 702.9,975.8 1164,909.2 1106.1,910.3 389.9,906.2 1225.9,908.3 318,908.3 920.7,893.1 1001.1,918.4 435.7,903.8 329.5,902.1 506.8,902.6 732,1043.2 488.2,909.7 740.2,1078.7 594,886.9 636.4,886.8 537.2,896.7 1157.1,897.7 541,914.7 738.5,1090.2 825.3,911.5 501.4,900.5 358.3,917.5 1213.4,912 769.6,1068.6 604.6,886.6 791.5,990.8 367.2,913.1 1182,912.5 661.7,885.8 471.8,899.5 378.8,902.2 783.6,978.1 979.6,900.9 813.5,951.5 506.3,891.2 888.6,885.8 267.9,920.6 707.6,1012.9 794.4,970.7 726.3,1076.6 965.5,896.9 965.5,912.9 771.1,1011.1 403.2,907.1 1150.2,910.4 663.3,895.5 738.1,1049.8 533,894.7 1085.9,912.8 414.4,905.8 841.9,885.9 1224.4,917.7 753.1,1073.4 408.2,902.5 254.6,914.8 633.1,876.5 901.7,893.7 1199.8,914.9 949.7,899.8 477,901.2 896.6,891.1 397.8,918.6 1039.4,900.2 1054.4,914.1 943.9,893.9 1032.3,904.7 365,912.9 616.9,893.7 751.6,1078.2 355.7,909.8 824.2,903.9 511.2,900.7 1159.2,915.7 796.4,993.8 652.7,898.1 792,1007.6 407.9,916.5 539.1,903.3 491.8,901.1 633.6,858.1 1062,904.4 482.6,912 524,894.5 300.3,911.5 1075.3,902.4 985.3,903.9 1074.5,918.7 631.7,888.6 457.6,899.8 269.9,911.5 921.8,895.8 1233.5,911.7 628.6,882.8 543.9,892.9 653,888.9 1085.5,902.2 1032.4,920 1018.7,905.5 785.9,1027.8 604.6,898.4 303.9,911.8 549.4,897.6 1127.5,910 652.6,887.2 872.4,878.4 942.8,900.3 1225.1,916.6 442.1,901.9 810.8,935.7 711.3,1011.7 473.7,903.5 546.9,902.5 1044.8,899.6 767.2,1028.7 838,874.3 609.7,890.2 1236.4,914.6 352.3,915.2 1120.3,907.7 951.7,896.6 1065.8,900.5 630.9,886.2 1012.8,903.8 917,878.9 311.8,917.7 294.1,908.3 1038.6,898.8 969,905.3 572.6,895.6 934.1,887.7 1117,896.6 1223.2,907.9 1233.3,920.3 490.7,910.8 923.7,897.3 262.1,907.2 629.2,895.6 608.2,880.2 747.7,1040.2 534.3,885.7 374.1,905.9 1043.7,908.4 534.8,895.3 878.7,891.4 984,897.9 962.7,885.2 575.2,886.8 907.1,882.5 843.4,893.9 794.7,976.5 910.2,865.5 360.2,905.6 560.3,892.9 497.7,905 738.3,1053.9 964.2,904.9 866.7,893.5 269,905.3 424.9,917.1 393.9,904.3 770.4,1036.1 1104.7,901.1 674.8,925.8 1000.5,898.8 887.2,893.9 856.4,879.7 1180.4,907.5 998.5,894.1 269.1,903.9 572.3,881.3 848.8,885.4 1024.1,893.8 866.6,890.2 349.9,915.6 1221.3,909.5 617.6,888.4 1159.1,914.3 303.7,912.1 1030.2,909.6 1147.9,910.7 1221,910.4 591.5,883.3 931.6,891.3 354.1,906.4 647.5,888 533.7,906.6 649.1,892.4 609.9,900.1 394.3,910.4 384.6,921 662.8,897.9 645.6,870.3 585.6,891 849.6,880.1 315.9,906.7 917.8,905.4 1095.6,896.6 302.1,919.9 1103.2,910.1 719.8,1014.6 1217.3,907.5 262,918.6 1145,914.3 746.3,1027.6 437.3,898.5 950.2,884 424.3,904.7 1098.9,900.9 520.1,898.5 370.8,909.4 900.8,901.6 1044.5,902.5 892.5,883.4 579.1,892.3 1045.5,903.9 570.3,895.5 516.5,894.3 963.7,897.5 1118,904.5 937.9,899.2 841.4,883.8 882,887.6 643.8,878.7 1005.6,910.1 786.5,1009 1004.5,894.5 1144.6,911.9 1150.7,920.7 609.3,890.2 1191.7,913.5 270.5,906.4 625.1,884.5 1010.4,902.2 690.3,983.8 488.6,896.1 1193.9,911.5 455.5,913.4 818.3,926.4 862.9,891.2 342.1,894.8 925.1,893.7 365.5,905.2 1205.7,905.1 272.6,901.8 908.9,886.3 329.8,900.6 789,1002.8 645.2,880.9 705.9,988.7 616.3,892.1 457.1,904 459.5,903.1 513.3,897.6 946.3,889.3 372.5,901.4 1155.7,909 857.4,884.1 1059.2,908.3 737.8,1036.1 916.2,887 405.2,915.5 869.1,887.3 1065.9,899 1187.5,914.3 880.5,883.5 1177.1,910.7 1182.3,914.1 866.9,880.4 838.4,893.3 258.3,909.9 302.4,919.2 713.1,1012.4 281.6,911.8 903.1,894.4 862,885.6 809.1,961.2 324.3,904.8 1134.9,904.8 1121.7,899.8 657.3,883.3 400.2,907.7 981.9,897.7 1088.7,896.2 1181.1,914.6 297.3,908.6 1152,902.4 1112.8,913.6 408.9,903.2 1187,907.1 288.9,906.9 1102.9,900 362.6,906.2 1202.6,908.5 919,871.4 711.9,1019.8 274.1,910.7 733,1109 437.4,903.8 704.9,1043.5 980.5,909.9 1076.5,905.6 532.9,896.3 622.4,886.2 1126.2,908 1132.2,912.9 675,916.5 859.6,894.4 866.8,878.3 343,905.1 400.9,912.6 928.1,883.8 1011.5,914.4 425.6,915.2 647.6,884.1 363.2,906.2 712,1012.5 1212,908.9 483.8,909.1 457.1,897.3 312.8,904.2 842.1,902.5 884.2,887.4 687.9,935.8 927.9,906.9 330.9,918.4 414.3,902.2 360.1,915 931.4,894.6 1195.9,913.1 1197.1,912.2 592.4,886.7 302.6,905.9 1142.4,924.7 281.9,914 997.1,900.2 966.5,904.1 342,915.3 927.7,889.9 446.2,911.1 299.4,917.2 925.3,903.5 420.1,897.4 644.2,886.4 1157.8,907.5 415.6,900.5 482,911.4 800.8,962.8 544.5,903.1 974.2,883.6 379.8,914.5 337.1,903.7 1101.4,903.7 706.1,992.6 1162.1,914.7 1113.1,908 1146.8,906.8 266.8,913.7 995.8,908.4 725.8,1066.6 995.3,883.6 431.5,899.3 529.4,907.6 639.9,892.3 723.1,1105.3 1156.4,906.7 398.9,904.8 396.8,922.1 335.7,930.3 1008,928.9 491.6,898.6 707,1013 508.3,885 542.7,898.1 268.4,914.8 988.5,902.2 674.4,933 537.8,897.1 271.9,919.8 1231.9,913.8 1138.6,914.3 768.3,1053.9 1003.8,902.6 1188,906.4 1201.3,904.8 1059,906.6 1236.2,904.6 300.5,906.7 361.2,918.7 285.4,908.4 1159.1,908.1 636.2,882.2 996.5,910.5 449.2,918.2 700.9,978.5 1068.1,892.5 896.8,849 827.4,910.8 767.3,1042.2 1157.8,913.2 303.1,908.4 549.1,893.7 1029.3,902 1082.2,894.8 634.9,858.5 671.5,935.8 707.2,1019.4 787.1,1020.3 1103.9,902.3 932.5,893.5 551.8,893.8 1183.4,904.9 727.5,1055.7 395.9,901.4 640.4,884.3 1221.1,915.4 1069,906 1105.2,911.9 1220.2,911.1 962.1,893.1 1032.4,897 474,897.6 290.1,901.4 878.5,889.3 612.5,892.9 607,898 347.5,921.4 791.7,958.6 684.2,954.1 1003.5,893.8 713.5,998.1 1055.9,904.6 485,888.7 585.8,888.2 541.2,897.3 1220.4,917.1 716.9,1010.9 458.5,911.4 438.7,903.9 965.5,896.4 1133.1,898.3 1151.4,907.3 1075.9,909 1129.2,909.6 1172.2,901.7 498.5,910.2 961.9,901.8 1013.5,903.5 687.3,964.3 913.8,895.6 363.9,901.1 827.8,901.6 788.3,994.4 1148.1,919.9 1154.8,908.9 354.9,908.3 1130.9,907.3 858.1,892.3 1176.9,921.1 454.6,896.6 450.1,902.8 399.8,907.9 1226.1,913.5 533.5,898.7 1083.2,907 1194.3,909 366.4,914.9 715,1020.1 313.4,906.1 368.7,900.9 463.7,891.9 465.6,906.3 451.5,894.2 770.5,1008.9 1172.8,905.7 514.4,892.3 685.5,935 638.2,888.8 568,899.9 910.1,888 662.3,902.3 958.8,897 1036.6,909.4 952.6,908.2 613.2,887.5 772.8,1044 1068.3,904 289.6,900.3 489.1,901.9 442.3,898.2 727.3,1068.1 967.5,897.5 1077.7,907.1 751.7,1091.1 1169.5,906.3 841.3,873.4 804.3,948.3 684.6,947.7 1031.9,903.6 956.2,897.9 1229.3,916.5 436.4,899.4 348,901.6 1140.2,906.6 1146.7,905.2 476.4,898.6 658,882.7 1129.9,906.8 474.5,907.3 275.8,920.4 410.8,904.3 300.5,909.8 1219,910.6 1237,921.5 1197.9,914.7 931.6,882.8 380.9,907.5 1197.4,903.9 996.5,890.9 637.8,890.1 1077.3,909.7 1227,901.2 1192.4,902.4 956.1,900.6 1174.2,909.7 704,984 296.9,905.7 734.2,1085.2 254.5,908.9 989.4,883.6 765.3,1010.7 945.6,896.4 885.9,898.8 1135,909.9 1219.4,900.5 454.2,905.3 708.5,991.3 760.1,1024.2 476.8,896.4 768.8,1042.7 1143.7,913.5 1011.9,903.2 906.5,898.4 930.4,898.4 1147.5,914.3 1203.4,913.2 906.8,893.1 380.7,903.4 833,895.4 706,993.6 881.1,852.7 254.1,907.3 271.9,911.2 832.1,893.1 912.5,868.1 985,906.4 1074.9,902.1 885.7,888.4 934.9,890.3 1210,909.6 1222.7,911.7 842.7,882.1 643.5,881.6 970.5,894.4 898.6,891.9 505.8,900.2 285.7,907.1 1026.2,899.2 790.4,1014 417.5,902.2 356.8,909.6 827.2,904.7 972.7,905.7 1122.9,896.8 293.9,901.1 521.6,893.9 601.7,891.6 791.9,1021.3 1104.5,900.6 718.8,1017.1 268.8,915.5 551.5,891.5 1117.7,903.9 719.4,1061.1 545.6,903.2 702.2,995.2 499.1,904.8 302.9,907.7 1060.3,910.5 1128.9,917.4 732.8,1027.5 568.4,899.9 1168.2,901.6 339.2,906.8 934.3,902.6 712,1015.1 1208.4,913.2 741.6,1117.5 303,912.8 902.4,893.5 880.1,889.8 643.6,883.2 962.6,904 972.7,895 1157.3,910.3 1184.8,897.3 725.9,1067.8 969.7,886.2 552.2,865.5 277.8,912 343.3,902.4 540.6,888.1 885,894.9 377.2,914.5 748.2,1124.2 988.2,890.3 1183.5,906.3 1223.8,910.8 1129.5,918.1 316.3,910.8 278.8,899.5 863.1,883.4 1149.2,906.6 1015.8,886.1 657.8,899.2 1016.7,898.2 954.3,910.4 701,1016 461.7,904.1 507.5,896.6 498.8,892.7 493.4,902.4 1124.1,910 1137,905.9 695.9,978.6 470.8,910.4 335.1,911.3 443.4,903.3 591,894.5 1159,913.5 1094.5,899.7 322.8,914.5 954.2,886.8 515.1,905.3 497.3,889.8 800.3,989 957.8,897.3 780.7,1016.5 1192.5,900.9 544.7,899.8 873.2,874.7 1027.2,895.8 1142.6,902.2 502.2,908.5 719,1047.8 493,907 827.2,905.6 1045.4,902.5 1113.5,916.4 908.6,895.2 257.4,910 579.9,896.8 435.2,915.1 552.7,890 469.7,901.7 773.7,1040.9 307.7,906.1 1135.3,906.5 1116.7,896.1 1068.5,910.2 418.3,916.5 375.5,913.9 566.6,895.6 1143.3,896.8 363.7,895.1 479.1,904.5 287.1,899 1063.4,899.5 289.5,914.5 412.3,904.4 649.6,891.4 587.1,879.3 958.6,898.2 1236.9,917.2 268,910.7 1173.2,920.3 753.9,1080.7 551.8,899.5 631.5,899 948.3,901 884,880.7 560.9,883.5 1104.3,884.7 567,889 1171.3,908.3 1127.8,903.7 297.3,920.2 482.3,896.2 755.2,1065.8 377,898.3 694.8,977.3 987.5,896.6 767.1,1015 775.4,1051 666.9,903.3 849.6,889.4 848.1,882.9 1146.9,901.7 893.1,889.5 936.7,893.6 351.3,903.3 1082,911.3 959.3,911.7 259.2,907.2 253.7,901.8 569.5,887.3 1112.8,908.5 600.1,880.3 384.4,913.4 1236.4,913.7 1113.9,916.6 1178.6,911 430.8,903.6 539,899.5 1025,911.7 378.4,901 639.2,898.1 768.1,1049.5 824.9,913.9 1054.1,894.4 472.1,898.9 1055,899.4 870.8,874.5 264,914.9 368.8,903.2 933.1,894.4 624,889.2 1138.7,908.7 1096.9,903.2 976.5,903.5 1003.1,903.6 856.4,894.5 555,896.6 930.8,902.2 400.8,900.9 1085.6,899.9 445.2,897 707.6,992.7 985.9,897.3 273.6,900.5 700.5,1006.8 638.1,889.4 1033.9,912.1 706.3,995.5 452.8,903.8 512.3,890.8 263.9,909.5 361.6,912.5 464.8,895.6 383.4,902.7 1222.8,911.7 452.5,899.6 975.9,887.5 849.7,886.6 791.2,982.7 863.4,886.2 914.2,895.7 569.7,889.9 826.6,914.8 1168,902.1 681.3,934 1104.7,913.3 709.9,1008.9 904.3,900 1152.2,904.7 388.5,908.4 997.8,907 1077.9,895.4 1066.4,911.2 702.9,1037.3 1078.9,899.9 543,888.7 556.7,900.3 458.8,902.5 1030.3,907.3 872.8,891 615.5,861.1 1194,910.1 840.3,881.3 1213.5,905.7 1088.9,910 426.6,901.1 942.6,886.9 1056.1,904.5 303.3,901.5 466.6,901.2 262.3,911.2 907.7,890.6 321,911.5 1079.3,907.7 840.8,885.2 587.2,892.5 995.4,901.9 613.3,885.7 918.2,868.6 666.2,927.1 546.7,894.2 931.1,894 459.1,901.4 636.8,885.8 353,905.6 543.7,897 335.3,903.8 904.8,894.8 960.1,898.9 768.6,1051.4 1001.7,888.4 922.6,893 928.3,903 1013.7,905.3 884.2,883.6 470.5,900.8 281.7,913.2 355.8,908 503.3,896.2 282,914.4 415.6,894 400.6,911.1 952.7,889.1 1229.3,906.4 872.5,879.3 697.9,996.7 362.7,913.5 1196.1,902.5 825.8,897.3 1179.6,909.5 948.5,895.2 284.3,917.8 1054.9,912 446.7,914.4 1094.6,917.9 633.2,886.6 830.6,900.2 711.3,1041.1 260.1,912.4 430.5,907.3 1153.2,912.2 1202.9,906.9 1083.7,911.4 1095.4,914.7 760.1,1067.1 795.4,1007.9 809.9,937.3 801.2,960.6 811.4,938.7 549.5,889.3 509.1,891.1 976,899.6 483.9,894.8 718.4,1055.9 838.1,892.3 1080,909.4 303.3,916.3 307.6,922.4 934.5,887.8 960.8,896.6 277.6,905.9 1131.3,906.6 1016.8,909.7 899,890.1 285.6,915.9 358.2,909.2 368.9,905.4 574.2,906.3 327.4,908.9 883.3,894.5 707.9,1020.8 1156.9,909.7 636.3,887.1 354.2,909.8 403.9,891 973.4,882.8 903.8,882.5 976.5,895.6 1182.7,911.7 875.1,882.9 362.9,905.4 1012.7,905 849.9,878.9 1077.1,905.3 415.2,903.3 275.5,916.5 823.7,915.6 528.5,891.2 469.3,904.4 714.6,1067.6 1184,911.6 466.6,901.3 261.9,911.8 1074.4,908.8 1206.7,913.2 405.2,908.6 398.7,912.1 742.8,1084.2 1057.9,913.2 1018.3,906.2 1169.6,908.5 1039.2,903.7 682.6,948.7 699.1,1019.9 820,915.4 650.4,891.1 991.4,887.9 281.7,911.3 1009.6,902.2 1231.9,921 795.5,978.5 547.5,889 825,910.9 576.8,903.8 859.1,880 359.5,905.2 1068.8,906.6 473.8,896.6 606,869.4 1149.7,904.3 585.2,871.3 888.6,879.3 854.4,873.8 652.4,881.1 421.7,903.6 792.4,972.1 438.4,908.7 475.4,908.9 444.6,900.7 533.1,883.2 1201.2,914.5 923.1,889.6 1167.1,904.6 417.4,903.1 846.7,886.9 837.6,902.1 928.8,891.7 1128.5,909.2 618.2,890.1 865.8,887.5 1067.3,899 555.3,905.2 443.1,908 350.4,907.9 424.8,911 337.8,915.4 707.5,1024.8 414.5,901.1 809.8,948.7 559.5,883.8 1125.3,912.5 663.1,884.4 1164.9,910.9 315.6,902 849.8,885.1 917.7,887.8 614.6,885.1 952.9,889.6 1156.2,914 1200.9,910.3 686.4,951.9 877.1,895.1 1145.2,901.3 290.7,913.4 1036,908.8 559.5,895.2 1117.4,905 297,912.7 934.1,886.8 271,913.7 1062.6,899.2 711.3,985.2 1119.5,898.7 658.2,904.5 749.3,1091.8 421.5,912.6 947,898.3 450.8,906.9 924.9,889.3 535.2,899 1014.3,893.6 552.3,889 1024.3,909.1 890.4,890.4 546.4,892.6 710,1002.2 408.8,909.4 1174.9,911.9 851.6,877.1 1120.3,907.7 798.1,997.9 932.6,870.5 440.7,912.3 485.7,901.3 452.3,902 1044.4,917.9 891.5,886.7 483.7,907.8 1186.3,905.2 540.9,902.2 630.3,857 619.5,880.1 1064.6,909.6 568.6,894.3 500.7,895.3 546.5,891.4 673.3,924 979.3,891.2 987.7,898.7 607.3,890 791.5,997.7 1188.8,911.5 531.2,895.2 281.6,914.8 1165.5,907.4 983.2,897.4 357.9,908.6 399.4,921.3 1071.1,910.5 328.9,905.6 717.7,1027.6 702.6,989.4 389.5,906 680.3,959 827.6,923.9 326.8,917.2 638.7,877.6 728.9,1039.1 515.6,900 887.2,883 897.9,889.7 316.2,904.9 1022.8,904.4 505.3,909.7 607.6,882.8 824.8,914.1 518.3,901.8 850,853.1 976.1,915.7 1133.8,921.5 364.5,920.2 327.7,905.6 278.2,902.4 722.4,1027.5 859.8,884 254.4,908.4 532,902.6 1033.2,900.1 835,881.7 1168.9,903.6 541.5,884.5 1161.3,907.6 1149.3,909.7 797,980.4 558.1,889.1 397.1,898.9 1028.5,893.3 292.1,917.8 1123.6,901.3 405.5,902.1 987.2,902 1160.2,908.1 1070.8,904.6 1038.1,902.8 454,903.1 460.6,901.5 707.5,1009.5 686,944.6 899.4,895.9 268.4,905.9 301.2,918.6 1096.8,909.6 764.9,1028.9 1064.2,915.4 437.2,912.3 522.5,892 1214.8,915.2 347.1,904.3 680.6,910.2 893.3,885.2 538.5,875.1 939.6,899.8 702.2,1021.9 419.3,911.9 861.7,899.2 360.5,911.1 688.5,943.1 294.1,907.4 383,911.5 586.5,893.6 372.6,912.6 947.5,889.6 815,946.8 1005.2,911.7 842.8,884.2 1161.2,908.1 896.6,880.6 555.6,910.6 547.1,897.1 525.7,893.2 469.6,906.6 593.5,891.4 1061.8,909.6 1141.7,905.7 369.7,899.1 983.6,897.4 624.6,884.3 875.8,876 259.3,910.3 880.9,873.1 845.1,899.7 456.4,892.8 363.1,913.6 570.7,896.6 917.2,890.4 599.7,872.4 481.8,901.1 972,891.3 555.6,899.1 537.2,899.9 909.3,887.9 486.7,898.5 670,939.5 1216.4,905.8 715.1,1052.1 644.4,878.4 552.8,892 826.4,924.9 897.4,885.7 513.9,903.8 1200,910.7 393.3,908.1 972,897.6 608.6,883.9 1207.2,908.6 1046.5,897.9 1143.1,911.5 1116.8,915.6 467.2,899.6 761.2,1044.5 464.6,907.8 901.4,894.1 474.5,901.8 1000.1,904.7 680.5,953.1 276.5,916.4 534.1,903.3 686.4,955.9 1180.7,915.5 617.8,886 859,881.8 281.7,916.1 1056.8,902.9 478.3,908.6 945.1,903.4 686.5,943.8 408.6,901.4 508.1,902.8 1113.5,909.5 1051.9,900.7 427,895 1010.3,912 986.2,886.7 358.9,898.5 509.6,893.9 317,911.8 266.8,911.3 579.3,873.9 891.6,890.3 330.4,912 674.5,923.6 1005,892.7 633.5,890 581.5,894.7 776,1045.9 460.5,904.9 1069.8,903.9 717.5,1038.1 309.6,904.8 610.3,880 953.8,884.9 713.6,1036.5 924.5,891.6 659.2,895.6 305.8,904.1 1143,914 312.3,905.8 909.7,883.6 535.5,891.7 648.5,875.9 278.1,914.8 262.5,918 377.1,914 770.1,1046.6 894.9,890.2 1237.7,910.9 355.7,902.9 1160.6,912.3 558.1,882.1 612.9,884.5 917,881.1 1201.8,915.1 493.5,909.9 987,893.6 498.9,898.1 921.7,892.5 412.2,909.2 624.8,888.5 996.7,900.6 969.5,898.9 897.6,865.9 360.4,907.3 938.6,889.8 952.8,893.6 1231.4,917.3 917,891.7 1148.8,907.7 653.6,897.4 891.1,878.5 946,890.1 885.2,876 574,899.8 683,943.4 332.5,914.6 492.3,908.2 818.9,929.5 815.2,958.9 390.9,906.5 1021,903.8 584,901.9 980.7,899 865.9,886.9 322.7,916.5 819,923.4 509.9,896 1072.3,908.7 1066.7,904.5 506.2,910.2 750.8,1037.3 528.9,904 517.7,899.7 334.6,906.8 909.9,900.6 1074.4,906.4 1074.9,898.5 561.6,890.5 835.8,894.2 749.3,1061.3 360.6,901.7 738.6,1092.7 666.8,901.7 255.3,908.5 460,907.6 654.9,894 619,892 591,883.9 585.3,893.8 764.5,1033.8 840.5,881.8 591.3,890 991.4,910.6 866.3,892.2 361.7,910.8 1051.5,908.6 1036.2,898.9 307.8,909.8 1096.1,915.1 1056.3,894.5 539.4,894 374.7,916.3 376,910.3 342.7,900.5 933.5,870.9 504.5,899.7 1231.6,912.9 603.5,889.1 401.8,908 630.2,880.9 439.4,909.9 666,896 1175.8,900.2 925.3,883.1 914.2,886 936.2,895.8 846.9,889.3 1123.5,912.1 521.6,902.4 1068.2,904.1 1210.2,923.5 696.6,969.7 388.9,912.3 983.5,887.1 945.9,898.9 480.8,899.2 880.8,890.3 1146,907.7 369.7,917 582,861.8 1195.2,918.9 350.6,906.4 491.8,906.9 459.6,900 1152.1,910.8 614.1,882.9 447.3,913.3 456.4,901.9 1086.2,898.4 585.6,890.8 1158.2,909 814.5,956.3 1175.1,920 619.2,887.8 395.5,884.2 885.4,894.2 692.4,962.9 607.5,896 1225.3,908.4 268.6,904.9 446.4,895.9 734.3,1021.5 829.7,922.2 256.5,912.8 925.8,894.5 1148.2,909.5 1188.3,904.1 424.3,911.1 574.6,896.7 265.1,915.6 361.9,902 850.3,866 295.4,910.7 564.2,879.7 527.8,898.5 494.4,898.6 1235.2,926.5 1133.6,924.9 484.3,898.6 432.5,906.4 655.6,901.3 646.5,886.5 578.4,885.3 823.9,895.7 436.8,910.1 424.4,915.2 1005.4,894.6 1012.8,910.7 1124.9,912.9 1154.5,908.7 515.4,910.1 566.5,876 684.2,977.6 1028.6,899.5 606.5,892.6 994.4,896.6 878.2,888.2 277.1,901.5 259.2,913.1 659.4,899.7 561.5,902.5 593.6,906 285,901 990.8,901.6 1021.2,908.4 661.4,902.1 789.4,1009.4 1190.6,904.6 440.4,911.6 961.9,901.9 1126.4,928.6 787.1,997.3 957.1,899.2 644.4,881.9 958,889.3 357.8,899.2 624.6,889.3 353.7,911 503.7,888.8 594.3,892.5 272.1,912.2 535.6,892.6 682.1,949.9 1136.5,918.3 816.7,935.4 1070.5,909 835.4,897.1 375.8,903.1 959.3,898.4 521.7,909.4 1154.2,911.7 863.8,893.5 563.3,891.8 464,889.1 635.6,875.6 264.1,910.8 1112.4,901.7 817.4,930.4 666.4,901.6 473.3,906.3 694.1,991.5 331.9,914.7 384.7,908 883.4,887.2 1092.4,911.4 624.5,882.7 451,911.6 727.5,1045.5 1234.7,910.2 970.5,900.8 345.2,904.9 860.1,886.7 521.7,896.3 269.4,919.3 456.1,893.9 639.1,889.4 812.3,937.4 1076.5,910.8 487.3,894.8 675.6,945.6 998.3,894.5 710.6,1068.8 611.9,886.6 1009,892.7 436.8,909.9 896.9,886.6 533.1,897.9 762.3,1096.9 1089.9,898.1 663.7,888.2 434.2,903.2 669.7,902.1 657.2,902.1 555.2,899 668.9,932.9 1110.2,897.3 721.9,1062.4 397.1,899.1 661.5,903 693.5,974.9 596.7,891.7 830.2,915.1 601.2,883.1 934.2,901.2 988.8,900.1 880.9,888.9 1223.7,910.7 769.9,1040.1 739.9,1106 1163.9,909.5 905.1,888 1215.9,916 988,902.7 735.1,1035.4 1232.2,913.3 724.7,995.9 1135.3,917.3 644.5,880.4 614.4,890 997,899.5 677.3,940.8 1199.3,914.8 1143.7,906 487.7,896.3 940.1,894.8 530.5,909.8 372.6,895 497.2,903.5 504.7,909.1 1133.1,913.6 1187.1,917.5 1044.8,895.8 517.4,915.2 899.8,892.5 626.8,881.8 262,915.3 919.9,898 493.9,890.5 500.7,894.3 414.9,897.7 763.4,1033.2 1130.2,909.7 744,1063.6 808.9,961.4 960.2,893.1 489.6,910 760.6,1110.5 365.6,903.9 379.5,906.4 395.3,899.5 960.2,889.7 751.8,1044.9 599.6,889 365.8,909.6 792.6,984.8 287.7,902.4 1221.1,906 1131.2,905.8 1109.7,909.4 603.8,885.9 957.5,890.4 693.8,992.1 575.6,879.8 396.5,907 1177.3,906.8 891.6,887.9 645.6,890.3 753,1061.4 844.6,885.4 746.4,1116.2 729.6,1026.1 1128.6,909 327,913.8 923.7,879.2 1059.2,906.4 772.9,1079 1122.3,914.9 893.5,885.7 287,916.2 541,899.8 587.8,893.9 888.8,878.3 490.3,898.1 1074.1,908.1 555.2,896.4 940.5,893.1 637,881.7 755.4,1092.6 931.2,881.7 285.5,915.7 926.8,902.5 1081.2,901 1039.3,909.7 291.6,911 536.8,895.5 960.7,896.9 511.2,899.8 497.8,893.5 982.4,897.4 414.3,908.9 946.6,891.9 896.8,888.6 607.8,870.5 602.1,894.2 1214.8,908.4 1225.6,903.9 579.4,894.6 420.4,903 928.2,900.1 543.9,877.4 337.4,915.5 1110.5,925.4 680.6,947.9 345.3,907.3 796.7,963.8 691.7,945 910.2,894.9 262.7,907.8 446.3,902.5 485.5,898.8 887.1,884.2 814,938.8 1106.3,915.2 589.5,890 710.8,1004.5 1024.2,905.8 875.4,880.7 454,902.7 968.5,885.4 809.5,961.4 508.2,899.6 910,868.2 1140.9,913.2 1011.9,891.1 631.3,884.4 624.9,896.8 914.4,889.7 872,876.6 856.5,885.8 742.1,1105.9 863.5,899.1 607.4,891.3 509.3,889.2 941.8,900.4 850.9,888.9 262.7,915 765.4,1072.2 1047.1,901 1159.8,907.4 666.2,917.4 978.1,895.5 290,905.5 688.2,949.2 629.7,870.6 890.3,887.4 918,887 324.8,903.1 970.9,897 705.7,1013.9 1161.9,907.6 682.3,946.5 877.1,882.3 988.3,905.3 836.7,892.7 1014,893.3 659.3,903.2 533.1,896.3 407.5,902.8 992.6,903.4 897.9,892.8 496.1,906.4 1120.8,914.3 793.9,997 696.1,990.9 1191.3,908.3 821.1,908.2 493.7,894.5 1124.7,910.6 821.8,914.1 1021.5,910.8 1030.8,897.8 1204.7,914.5 345.8,907.1 721.6,1050.3 537.5,906.7 662.9,897.6 1136.7,906.3 650.1,893 1035.2,901.5 702.3,1005.2 761.9,1059.1 385.8,913.7 385.1,906.4 907.5,890.9 1089.7,913.9 278.4,907.4 499.8,899.1 1121.6,910.9 405.1,910.8 952.2,890.8 921.3,898.1 722.4,1052.2 477.9,907.9 856.7,882.9 1058.2,900.1 441.1,908.7 772.3,1054.7 896.4,891.8 1023.1,903.9 865.4,885.2 1214.6,904.7 962.9,891.6 333.4,896.7 416.2,918.5 477.4,903.1 306.1,919 1140.2,898.8 724.9,1016.5 768.9,1022.8 862.5,891.5 492.1,913.8 764.8,1062.6 1203.4,914.9 993.6,897.3 767.9,1073.2 744.3,1053.2 306.9,909.2 362.9,921.1 462.4,906.1 344.4,909.5 387.2,906.4 547.5,882.8 933.9,878.1 546,876.4 714.8,1011.3 723.6,1051.9 251.7,906.1 578,894.3 534.6,888.4 643.6,891.2 350.7,892.6 1013.5,902.7 872.9,887.2 984.7,897.3 420.8,909.1 434.9,903 1078,904.5 337.1,902.8 815.9,927.6 913.7,900.2 975.7,894.1 263.8,909.3 588.9,885.1 556.1,892.4 1000.1,897.7 913,889.4 1110.7,902.8 873.9,891.7 454.2,908.1 839.9,880.4 607,878.5 282.7,907.8 310.1,910 269.4,913.9 495.6,903.7 594.6,883.3 1017.4,907.9 670.6,916.4 1200,912.3 985.5,899.1 636.5,875.7 706.9,987 721.8,1085 892,891.8 317,894.6 596.9,884.4 316.5,907.8 272.7,911.6 259.4,910.7 1206,912.7 928.2,901.9 773.9,994.7 1211.2,911 603.9,894.2 1231,908.7 999.9,893.5 811.5,939.9 980.3,899.7 1049.9,899.7 388.8,907.6 568.4,893.3 1236.4,911.2 843.6,883 693.6,976.9 410.1,905.5 341.6,904.6 295.4,907.7 938.6,878 503.4,894.8 822,915 673.5,934 445.5,908.3 1124.8,916.9 1138,902.7 445.6,900.1 961.6,889 1124.8,909.2 793.6,979.1 526.8,894.7 743.4,1062.6 1159,897.5 877,871 649.4,889.2 310.6,922.8 680.2,954.1 972.6,907.2 921.3,891.8 314.3,907 1124.2,905.5 1223.9,909.3 1218,909.6 258.7,914.4 867.9,851.5 1002.4,893.9 542.4,881.7 795.6,970.5 728.3,1084.5 963.1,892.7 288.9,913.9 279.3,913.1 772.6,1081.7 980.1,906.4 910.9,884.5 253.3,911.3 303.3,905.5 834.4,894.2 409.4,915.5 704.2,1050.5 756.2,1031.3 1129.2,917.1 311.5,913.6 1210.6,917.3 300.1,901.3 1142.9,913.7 550.9,889.2 976.1,897 1223.7,914.8 554,898.5 650.4,874.2 651,894.8 1211.3,913.1 370.5,909.9 810.4,966.9 389.7,893.8 435,914.1 458.9,895.8 949.2,888.7 1121.8,902.1 355.5,905.4 479.1,906.8 452.3,911.5 296.1,915 938.5,900.2 699.6,991.7 605,892.9 641.2,876.5 1209.6,908.3 561.6,894.5 618.7,895.6 906.1,884.7 817.2,922.2 771.9,1045.2 283.1,913.5 956.5,880.7 780.6,994.5 1090.1,913.4 294.8,905.1 902.2,890.6 436.2,911.5 1049.2,898.8 892.3,870.1 524.8,896.9 620.3,891.4 1023.9,904.4 833.9,899.3 1074,905 362.9,911.1 1149.5,907.5 508.3,900.8 334.1,906.4 1063.3,905.6 992.7,904.9 570,888.2 1113.8,899.6 500.3,899.6 1003.8,897.2 830,902.3 498.9,894.8 448.8,905.8 870.7,888.3 440.9,903.6 1123.4,911 1159.3,919.3 921,895.7 529.4,892.6 609.9,886.5 1017.9,895.5 785.1,984.9 968.1,895.7 396.1,909.6 316.7,905.7 323.8,912 571,899 937.6,886.1 502.4,900.2 398.2,910.9 1028.6,900.7 855.2,892.2 1141,916.4 1176.6,913.2 663.3,899.3 508.5,895 1112.7,896.8 543.3,887.1 487.6,901 1077.5,902.7 776.8,1046.5 578.1,890.9 525.3,892.4 1002.9,905.8 473.6,897.5 590.7,884.8 607,893 612.3,885.6 855.4,890.3 944,886.7 1048.4,900.8 543.3,896.4 513.7,896.3 703.3,1000 731.2,1013.2 1147,906.6 717.3,1006.5 1195.2,915 522.2,901.1 526.6,888.6 855.2,871.5 655.9,893.6 1130.4,907.2 1232.2,908 1112.3,899.6 1011.4,904.9 760.2,1072.4 627,878.3 352.9,899.1 1212.9,912 303.9,907 1006.2,905.2 633.2,887.8 1208.2,908.4 357.1,908.5 460.4,899.7 939.2,905.4 746.1,1041.8 639.5,885.5 1001.5,894.8 1016.4,904.3 778.1,1037.8 957.4,892.9 718.7,1007 402.9,902.5 650.1,885.9 746.4,1031.9 928.1,891.4 620.5,895.4 382.1,908.1 899.2,883.3 1228.5,913.3 1107.9,908.7 613.7,890.7 620.8,877.4 622.6,877.3 277.7,911.7 295.2,912.3 1027,912.3 608,887.3 822.1,921.1 405.4,892.4 631.3,890.9 1041.2,917.4 587.4,888.5 521.7,898.8 1078.9,906.8 923.5,904.3 1225.6,910.8 1233,912.9 343.3,915.9 991,897.9 893.3,889.9 627.9,892.4 1199.4,902.1 488.3,909.8 613.3,889.8 1185.9,903.5 385.4,900.2 296.8,904 955.3,905.3 712.3,1048.3 596.5,882.1 758.4,1056 1153.8,908.2 290.8,906.7 993,909.7 874.2,884.1 971.7,903.1 1034.3,900.7 868.6,893.2 1146.6,911.4 271.9,907 279,921.8 924.3,879 967.3,891.2 1015.7,908.1 1204.9,902.8 380.4,910.1 1167.5,914.9 1187.2,906.8 596.3,889.6 1078.9,908.9 341,911.6 477.7,903.7 506.2,898.7 324.8,914.3 652.6,896 989.6,904.3 326.4,909.3 891.2,884.3 693.3,1012.8 488.7,906 687.9,944.2 1033.6,892.7 745.2,1110.4 968.5,893 846.5,859.2 333.5,899.7 826.1,914.2 730.9,1024 1206.4,899.4 874.4,885.2 535.3,900 340.9,907 1120.8,907.9 1192.6,908.4 669.2,918.4 1201.5,921.4 258.5,913.2 992.7,908 1129.7,910.8 1208.6,913.1 622.4,890.2 286.7,913.7 788,1024.7 622.4,883.7 953.2,900.6 837.3,892.5 560.4,893.8 1132.5,912 747.1,1120 493.5,909.2 661.6,908.4 855.4,882 765.9,1010.7 1114.6,904.2 814.3,937.3 816.5,912.3 973.5,900.1 805.1,971.2 927.7,894.8 300.6,907.8 312,914.5 262.3,911.4 793.4,994.5 972.8,907.5 1171.6,911.6 289.7,907.8 662.6,911.6 480.3,897.4 1115.5,902.5 450.5,901.4 420.7,904.2 700.6,1003.3 658.5,902.1 1121.2,920.1 524.8,895.9 702.1,978 933.3,889.3 1010.2,891 1217.2,903.7 884.9,885.9 752.9,1087.9 744,1079.5 693.8,975.4 870.3,883.8 817.9,936.5 1160.2,917 413.4,897.5 1048.8,901.8 297.3,899 774.7,1036.2 467.8,902 260.3,906.2 381.4,913.8 1105.2,908.1 823,912.4 1085.3,909.7 736.8,1048.7 1063.5,910.4 1177.8,904.9 389.9,910.7 428.8,907.8 621.3,889.6 1154,916.6 487.7,897 297.5,913.1 796.1,958.4 1021,901.4 813.7,955 1040.1,906.9 433.3,896.9 323.2,904.4 938.2,888.8 851.2,878.8 283.6,916.6 936.7,890.8 328.6,902.7 747.8,1051.9 1118.9,902.9 269.5,905.7 1018.1,892.2 1017,895.2 829.7,909.1 955.3,890.3 1080.4,914.1 1178.1,907 824.5,911 724.2,1050.4 885.8,891.2 611.8,883.5 976.3,890.8 1028,912.8 776.9,1006.6 1094.4,903.9 814.7,949.6 678,948.8 959.3,898.7 1218.7,903.5 560.2,885.5 460.1,897.2 963.6,901.4 287.8,907.2 272.6,906 674.4,947.4 1009.9,915.3 413,912.7 1189.8,910.5 697.3,966.1 971.9,899.7 405,911.3 389.2,900.8 859.7,885.4 844.8,885.4 281.6,907.5 829.6,905 441.8,901.5 533.3,888.2 297.1,910.3 433.6,911.6 928.6,896.6 1229.9,908.5 833.3,885.9 358.7,901.5 958.3,898.3 535,899.1 366.7,908.8 568.3,882.2 561.5,901.8 640.3,873.7 368.2,904.7 499.3,889.4 309.2,904.4 874.2,876.4 913.3,897.6 843.9,894.2 1227.5,905.2 559.7,890.3 497.9,900 376.3,911.2 1180.5,911.7 444,900.4 356.1,906.2 822.6,928.7 536.3,903.7 262.2,888.9 772.3,1056.9 1099.3,910.1 609.2,879.7 278.7,911 276.2,916.7 409.2,903.8 364.3,903.3 295.1,906.5 700.8,1005.1 529.2,887.7 383.2,913.6 636.3,890.1 537.9,891 623.6,889.4 487.2,898.3 947,891.1 352.4,918.3 871.9,888.4 774,1022.1 757,1046.3 955.2,893.3 545.7,904.5 687.2,949.6 285.5,915.5 1003.2,892.4 285.5,921.1 412.9,913.2 398,902.6 1019.4,911.1 1154.9,903.5 356.8,899.1 1056.9,905.6 808.1,940.9 1045.7,911.2 992.1,895.6 526.9,904.7 866.5,887.2 961.5,897.5 776,1033.1 946.7,894.5 479.4,910.5 1160,913.6 514.2,901 314.5,909.8 910.5,881.6 685.7,961.2 616.5,887.2 490,896.8 473.2,902.6 878.7,877.2 640.6,888.6 767,1060.7 632.3,886 562.4,892.7 542.1,897.3 917.1,887.2 1062.8,915.6 462.1,917.8 1027.7,904.8 500.6,904.2 341.8,909.7 488,907.8 1097.2,907.2 664.6,908.7 779.5,1034.2 313.6,912.4 637.3,886.7 343,912.6 950.2,890.5 758.4,1068.6 554,897.3 799,980.8 1107.9,897.6 336.6,891.8 635.7,887.6 972.8,900.2 614.9,878.4 893.8,895.4 1073.9,906.3 526.7,900.3 477.1,905.5 569,889 333.6,906.8 751.2,1021.2 936.7,896.7 895.5,879.1 963,902.3 494.7,887.1 548.6,897.2 967.5,895.4 507.7,892.7 591.5,880.7 632.7,884.8 372.3,902.2 1123.6,914.3 417.4,914.7 589.1,891.8 690.2,956.4 712.7,1038.7 281.6,908.8 590,885.5 422.5,920.8 729.2,1021.3 926.3,898.1 539.1,893.7 521.6,895.7 1009.2,897.4 413.1,909.8 467.6,910.6 443.8,911.8 660.4,876.2 511.6,908.5 973.7,886.6 950.1,892.8 721,1059.1 1182.8,916.4 1017.6,904.3 1202.3,915.2 571.9,897.6 521.2,895.9 1101,894.5 777.9,1017.7 432.1,906.2 1061.2,902.3 579.9,899.9 517.5,890.7 764,1043.3 976,901.5 534.6,895.7 576.2,883.2 1102.1,907.6 421,895.7 345.1,909.3 999.2,902.3 875.2,876.1 273.7,904.3 542.5,902.5 1142.5,914.8 921.5,888.8 485.6,898.5 866.9,883.4 807,963.1 739,1108.4 333.6,912.7 808.4,950 621.4,881 789.2,1011.5 748.5,1075.1 881.5,894.9 762.7,1064.3 1236.1,913.2 518.1,908.7 988.7,897 880.6,895.2 515.5,900.1 479,911.5 522.1,895.9 736.4,1070.8 283.5,898.9 527.1,902.1 992.5,901.3 505.4,895.9 306.5,919.4 1150.8,906.4 488.9,896 383.6,902.2 1184.2,912.8 952.2,886.6 1052.2,896.5 910.6,877 1019.2,911 634,896.6 801.7,966.3 1126.2,905.9 930.1,898.2 429.1,900.3 255.4,906.5 1096.4,901.6 664.2,910.4 340.7,906.1 537.8,895.8 1203.4,912.2 856.9,891.9 549.2,898.9 390.9,903.6 802.6,984.7 931.2,896.4 1226.9,908.9 1177.9,914.3 873.7,882 408.6,884.4 582,890 904.6,887.1 619.1,877.6 966.5,898.9 275.9,916.6 678.8,932.6 419.8,901.7 845.8,886.7 307.3,906.9 927.6,896.3 1042.7,903.1 529.9,903.6 1169,916 932.1,894.9 463.2,894.6 939.9,899.9 1148.8,907.1 1156,913.8 389.8,907.8 1019,911.3 1137.9,912.6 412.8,916.7 1038.3,911.8 949,901.6 1025.6,903.9 289.1,911.7 305.9,910.2 371.4,921.4 748.8,1046.6 326.5,902.3 1222.9,911.6 421.2,906.3 652.9,903.9 1066.1,898.7 1091.1,915.6 495.1,895.6 833.7,895.9 378.9,903.6 279.9,901.6 1132.9,905.1 734.5,1077.6 579.6,897.4 880.7,881.7 560.5,895.9 564.5,896.3 591.9,883.5 1128.3,922.9 871.6,895.6 515.9,893 796.4,974.4 849.3,886 842.9,891.6 575.7,904.9 836,889.1 926.2,898.2 743.9,1075.1 1092.7,907.7 897.4,898.5 300.3,909.1 907.5,894.6 1132,906.8 610.7,891.1 560.3,900.1 275.8,910.3 835.2,903.9 1039.3,901.3 842.9,893.1 1153.9,908.1 1166.7,904.9 1115.3,908.9 354.4,903.5 1217.1,917.1 302.6,904.6 951.1,896.5 962.2,901 884.6,885.8 988.2,885.9 897.9,883.3 939.2,894.1 1138.3,913.9 886.5,889.2 480.8,898.7 413.2,908.3 881.6,889.6 616.2,881.3 342.9,900.5 534.4,895.4 591.1,890.2 476.1,903.6 1053.5,894.9 1105.1,903.2 697.3,985.1 538.2,888.4 269.8,914.9 267.6,907.8 1153.9,914.3 286.7,913.2 963.4,893.6 1175.3,913.2 731.7,1051.8 286.9,915.9 655.9,900.6 766.9,1037.6 1117.4,902.9 897.7,885.7 1012.2,897.2 1115.6,902.5 476.7,913 303.5,914.9 1127.7,913 949.7,892 363.9,906.9 1121.1,907.7 418.3,905.2 395.8,912.9 789.5,1028.5 584.3,881.3 1097.8,918.4 287.3,907 605.9,878.3 465.3,894.5 1137.3,906.1 886.6,888.7 742.6,1061.5 632.3,892.9 359.7,895.4 412.4,920.6 586.7,862.8 701.8,1022.9 362.6,902.5 685.5,952.6 779.4,1045.3 465.4,907.7 329.4,916.8 281.1,916.7 706.6,989.5 595.9,859.5 1231.6,915.1 747.9,1109 714.8,1013.3 693.7,980.1 1140.9,905.6 721.2,1031.6 1132.1,917.8 972.7,902.5 1133.9,915 1178.8,900.1 478.3,900.1 431,902.5 578.3,901.7 373.1,913.6 734.2,1041.7 315.2,908.4 546.5,902.3 586.5,877.5 402.3,898.1 1178,906.9 640.2,882.1 1196,912.7 1160.8,920 922.7,891 978,896 644,889.9 962.5,898.1 543,888.9 729,1091.4 1192.1,907.5 1238.5,895.9 979,898.4 359.3,905.9 1097.3,915.1 506.8,894 263.2,909.5 685.5,953.6 636.1,886.4 1103.8,916 300.3,908.6 721.8,1056.2 612.2,893.2 1058.5,912.7 839.4,899.9 445.3,903.5 294.8,912.2 783.3,1032.3 518.8,883.1 944,886.7 710.4,1035.4 494.8,901.5 380.7,911.2 1000.1,893.9 576.4,894.8 297.2,909.5 809.8,931.6 549.6,895.4 696,968.6 272.5,901.9 689,958.9 1086.1,908.2 538.3,897.2 757.5,1026.7 252.5,909.6 1032.3,906.2 580.8,896.9 392.6,913.3 867.3,880 391.2,907.6 1174.4,909.8 536.5,893.3 301.2,904 502.7,906.5 312.6,910.9 476.9,901.2 469.1,909 796.2,991 1065.7,907.5 894.4,896.8 419.9,914 716,1039.5 896.1,900.3 386.3,911.8 1090.9,905.8 605.9,894.7 773.6,1033.1 582.2,897.9 637,888.3 1238.1,910.8 1087.3,904.8 974.6,899.7 487.8,896.7 322.6,907.8 814.9,937.8 271.7,922 1213.8,911.3 384.6,907.7 388.4,901.9 1155.6,915.1 609.4,887.3 322.5,908 740.9,1061.8 852.3,878.2 1076.8,907.3 702.1,986.1 416.2,914.9 433.3,907.9 1183.3,911.1 476.3,908.9 473.6,915.3 932.7,889.6 487.6,898.7 730.4,1035.2 545,888.3 490.5,899.1 965.4,885.7 1058.4,912.1 952.9,880.9 860.5,883.4 1192.4,902.4 651.9,895.6 251.3,907.3 469.8,893 672.6,934.4 561.6,899.5 611.2,893.7 771.2,1040.6 807.4,938.3 474.3,901.7 495.5,902.8"/>
<polyline fill="none" stroke="none" marker-start="url(#mt)" marker-mid="url(#mt)" marker-end="url(#mt)" points="738.7,1139.9 744.9,1129.6 762,1126.2 758.6,1129.6 774,1107.3 751.7,1114.2 722.6,1110.8 734.6,1114.2 780.8,1081.6 653,841 634,849 567,864 585,852"/>
<polyline fill="none" stroke="none" marker-start="url(#mb)" marker-mid="url(#mb)" marker-end="url(#mb)" points="94.9,911.7 112,909.6 129.2,911.7 146.3,913.3 163.5,909.9 180.6,912.2 197.8,912.8 214.9,911.5 232.1,911.3 249.2,910.1 266.4,908.5 283.5,911.2 300.7,910.3 317.8,912.1 335,909.1 352.1,911.3 369.3,909.3 386.4,908 403.6,910.4 420.7,907.5 437.9,906.7 455,905 472.2,900.3 489.3,901.8 506.5,899.4 523.6,897.2 540.7,896.9 557.9,895.2 575,892.7 592.2,892.3 609.3,889.6 626.5,885.2 643.6,883 660.8,897.2 677.9,936.5 695.1,982.2 712.2,1018.7 729.4,1045.8 746.5,1058.6 763.7,1044.6 780.8,1017.6 798,980.2 815.1,937.9 832.3,897.5 849.4,881.7 866.6,889.7 883.7,889.7 900.9,892.9 918,891.8 935.2,892.5 952.3,894.3 969.4,898.6 986.6,901.7 1003.7,902.4 1020.9,900.6 1038,905.1 1055.2,907.9 1072.3,906.7 1089.5,906.9 1106.6,906.6 1123.8,909.8 1140.9,910.7 1158.1,910.6 1175.2,910.6 1192.4,910.2 1209.5,913.8 1226.7,912.6 1243.8,911.3 1261,910.9 1278.1,911.9 1295.3,913.5 1312.4,912.5 1329.6,912"/>
<polyline fill="none" stroke="#f00" stroke-width="4.3" stroke-linejoin="round" points="84.9,910.6 94.9,910.6 112,910.6 129.2,910.6 146.3,910.6 163.5,910.6 180.6,910.6 197.8,910.6 214.9,910.5 232.1,910.4 249.2,910.4 266.4,910.3 283.5,910.1 300.7,909.9 317.8,909.7 335,909.3 352.1,908.9 369.3,908.5 386.4,907.8 403.6,907.1 420.7,906.2 437.9,905.3 455,904 472.2,902.6 489.3,901.2 506.5,899.7 523.6,897.6 540.7,895.5 557.9,893.6 575,891.7 592.2,889.9 609.3,888.2 626.5,886.1 643.6,882.8 660.8,896.1 677.9,934.7 695.1,979.5 712.2,1022.9 729.4,1050.6 746.5,1063.2 763.7,1050.6 780.8,1022.8 798,979.4 815.1,934.5 832.3,896 849.4,882.9 866.6,886.1 883.7,888.2 900.9,889.9 918,891.7 935.2,893.6 952.3,895.6 969.4,897.6 986.6,899.7 1003.7,901.2 1020.9,902.6 1038,904 1055.2,905.3 1072.3,906.2 1089.5,907.1 1106.6,907.8 1123.8,908.5 1140.9,908.9 1158.1,909.3 1175.2,909.7 1192.4,909.9 1209.5,910.1 1226.7,910.3 1243.8,910.4 1261,910.4 1278.1,910.5 1295.3,910.6 1312.4,910.6 1329.6,910.6 1342.7,910.6"/>
<polyline fill="none" stroke="#f00" stroke-width="6.2" stroke-linejoin="round" points="84.9,910.6 94.9,910.6 112,910.6 129.2,910.6 146.3,910.6 163.5,910.6 180.6,910.6 197.8,910.6 214.9,910.5 232.1,910.4 249.2,910.4 266.4,910.3 283.5,910.1 300.7,909.9 317.8,909.7 335,909.3 352.1,908.9 369.3,908.5 386.4,907.8 403.6,907.1 420.7,906.2 437.9,905.3 455,904 472.2,902.6 489.3,901.2 506.5,899.7 523.6,897.6 540.7,895.5 557.9,893.6 575,891.7 592.2,889.9 609.3,888.2 626.5,886.1 643.6,882.8 660.8,896.1"/>
<polyline fill="none" stroke="#f00" stroke-width="6.2" stroke-linejoin="round" points="832.3,896 849.4,882.9 866.6,886.1 883.7,888.2 900.9,889.9 918,891.7 935.2,893.6 952.3,895.6 969.4,897.6 986.6,899.7 1003.7,901.2 1020.9,902.6 1038,904 1055.2,905.3 1072.3,906.2 1089.5,907.1 1106.6,907.8 1123.8,908.5 1140.9,908.9 1158.1,909.3 1175.2,909.7 1192.4,909.9 1209.5,910.1 1226.7,910.3 1243.8,910.4 1261,910.4 1278.1,910.5 1295.3,910.6 1312.4,910.6 1329.6,910.6 1342.7,910.6"/>
<polyline fill="none" stroke="none" marker-start="url(#mr)" marker-mid="url(#mr)" marker-end="url(#mr)" points="94.9,910.6 112,910.6 129.2,910.6 146.3,910.6 163.5,910.6 180.6,910.6 197.8,910.6 214.9,910.5 232.1,910.4 249.2,910.4 266.4,910.3 283.5,910.1 300.7,909.9 317.8,909.7 335,909.3 352.1,908.9 369.3,908.5 386.4,907.8 403.6,907 420.7,906.2 437.9,905.3 455,903.9 472.2,902.6 489.3,901.1 506.5,899.7 523.6,897.6 540.7,895.5 557.9,893.6 575,891.7 592.2,889.9 609.3,888.2 626.5,886.1 643.6,882.8 660.8,896.1 677.9,934.7 695.1,979.5 712.2,1022.9 729.4,1050.6 746.5,1063.2 763.7,1050.6 780.8,1022.9 798,979.5 815.1,934.7 832.3,896.1 849.4,882.8 866.6,886.1 883.7,888.2 900.9,889.9 918,891.7 935.2,893.6 952.3,895.5 969.4,897.6 986.6,899.7 1003.7,901.1 1020.9,902.6 1038,903.9 1055.2,905.3 1072.3,906.2 1089.5,907 1106.6,907.8 1123.8,908.5 1140.9,908.9 1158.1,909.3 1175.2,909.7 1192.4,909.9 1209.5,910.1 1226.7,910.3 1243.8,910.4 1261,910.4 1278.1,910.5 1295.3,910.6 1312.4,910.6 1329.6,910.6"/>
<polyline fill="none" stroke="none" marker-start="url(#mg)" marker-mid="url(#mg)" marker-end="url(#mg)" points="94.9,825 112,824.7 129.2,823.4 146.3,825 163.5,826.1 180.6,824.8 197.8,823.5 214.9,824.7 232.1,825.5 249.2,824.5 266.4,825.5 283.5,825 300.7,824.1 317.8,825 335,824.1 352.1,825.8 369.3,823.4 386.4,825.2 403.6,824.9 420.7,824 437.9,824.4 455,824.9 472.2,824.9 489.3,823.3 506.5,825 523.6,825.8 540.7,825.4 557.9,825 575,825 592.2,825.6 609.3,824.1 626.5,824.5 643.6,824.1 660.8,823.3 677.9,821.9 695.1,820.6 712.2,819.5 729.4,818.8 746.5,818.2 763.7,819.9 780.8,820.8 798,822.7 815.1,822.7 832.3,823.7 849.4,823.9 866.6,824.3 883.7,825 900.9,825.6 918,823.9 935.2,824 952.3,824.9 969.4,825.3 986.6,824.3 1003.7,824.8 1020.9,823.8 1038,825.3 1055.2,824.6 1072.3,824.5 1089.5,824.5 1106.6,825.1 1123.8,824.2 1140.9,825.2 1158.1,825.2 1175.2,824.5 1192.4,823.8 1209.5,824.5 1226.7,825.1 1243.8,824.8 1261,824.9 1278.1,826.5 1295.3,826 1312.4,823.7 1329.6,823.7"/>
<rect x="84.9" y="720.7" width="1257.8" height="486.5" fill="none" stroke="#000" stroke-width="2"/>
<text class="tk" x="183.2" y="1234.6" text-anchor="middle">-15</text>
<text class="tk" x="357.9" y="1234.6" text-anchor="middle">-10</text>
<text class="tk" x="532.6" y="1234.6" text-anchor="middle">-5</text>
<text class="tk" x="710.6" y="1234.6" text-anchor="middle">0</text>
<text class="tk" x="886.1" y="1234.6" text-anchor="middle">5</text>
<text class="tk" x="1060.8" y="1234.6" text-anchor="middle">10</text>
<text class="tk" x="1235.5" y="1234.6" text-anchor="middle">15</text>
<text class="tk" x="75" y="727.2" text-anchor="end">60</text>
<text class="tk" x="75" y="792.1" text-anchor="end">40</text>
<text class="tk" x="75" y="856.9" text-anchor="end">20</text>
<text class="tk" x="75" y="919.8" text-anchor="end">0</text>
<text class="tk" x="75" y="986.7" text-anchor="end">-20</text>
<text class="tk" x="75" y="1051.5" text-anchor="end">-40</text>
<text class="tk" x="75" y="1116.4" text-anchor="end">-60</text>
<text class="tk" x="75" y="1181.3" text-anchor="end">-80</text>
<text class="tt" x="92.8" y="698.8" textLength="1237.3" lengthAdjust="spacingAndGlyphs">Planet 1 Even Transits Fit: Whitened Folded Averaged Zoomed Flux Time Series</text>
<text class="lb" x="619.2" y="1275.2" textLength="177.5" lengthAdjust="spacingAndGlyphs">Phase [Hours]</text>
<text class="lb" transform="translate(22.4,967) rotate(-90)" text-anchor="middle" textLength="309" lengthAdjust="spacingAndGlyphs">Whitened Flux Value [ σ]</text>
</svg>
</body></html>
